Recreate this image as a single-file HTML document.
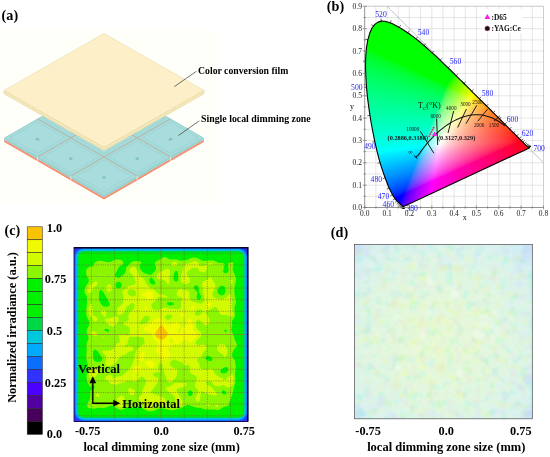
<!DOCTYPE html>
<html><head><meta charset="utf-8"><title>Figure</title>
<style>
html,body{margin:0;padding:0;background:#fff}
svg{display:block}
.b{font-family:"Liberation Serif",serif;font-weight:bold}
.r{font-family:"Liberation Serif",serif}
</style></head><body>
<svg width="550" height="457" viewBox="0 0 550 457">
<rect width="550" height="457" fill="#fff"/>
<g id="pa">
<rect x="0" y="30.3" width="217.5" height="172.2" fill="#fffffa"/>
<polygon points="4.2,139.8 104,197.2 203.8,139.8 203.8,142 104,199.4 4.2,142" fill="#f48e70"/>
<polygon points="4.2,137.7 104,195.1 203.8,137.7 203.8,139.8 104,197.2 4.2,139.8" fill="#93d0cd"/>
<polygon points="104,80.3 203.8,137.7 104,195.1 4.2,137.7" fill="#8fcfcd"/>
<polygon points="104,81.1 135.8,99.4 104,117.7 72.2,99.4" fill="#a9dcdc"/>
<polygon points="104,83.6 131.6,99.4 104,115.3 76.4,99.4" fill="none" stroke="#93cfcf" stroke-width="0.6"/>
<ellipse cx="104" cy="101" rx="1.8" ry="1.5" fill="#7fc6bf"/>
<polygon points="70.8,100.3 102.5,118.6 70.7,136.8 39,118.6" fill="#a9dcdc"/>
<polygon points="70.8,102.7 98.3,118.6 70.8,134.4 43.2,118.6" fill="none" stroke="#93cfcf" stroke-width="0.6"/>
<ellipse cx="70.8" cy="120.2" rx="1.8" ry="1.5" fill="#7fc6bf"/>
<polygon points="37.5,119.4 69.3,137.7 37.5,156 5.7,137.7" fill="#a9dcdc"/>
<polygon points="37.5,121.8 65.1,137.7 37.5,153.6 9.9,137.7" fill="none" stroke="#93cfcf" stroke-width="0.6"/>
<ellipse cx="37.5" cy="139.3" rx="1.8" ry="1.5" fill="#7fc6bf"/>
<polygon points="137.2,100.3 169,118.6 137.3,136.8 105.5,118.6" fill="#a9dcdc"/>
<polygon points="137.3,102.7 164.8,118.6 137.2,134.4 109.7,118.6" fill="none" stroke="#93cfcf" stroke-width="0.6"/>
<ellipse cx="137.2" cy="120.2" rx="1.8" ry="1.5" fill="#7fc6bf"/>
<polygon points="104,119.4 135.8,137.7 104,156 72.2,137.7" fill="#a9dcdc"/>
<polygon points="104,121.8 131.6,137.7 104,153.6 76.4,137.7" fill="none" stroke="#93cfcf" stroke-width="0.6"/>
<ellipse cx="104" cy="139.3" rx="1.8" ry="1.5" fill="#7fc6bf"/>
<polygon points="70.8,138.5 102.5,156.8 70.8,175.1 39,156.8" fill="#a9dcdc"/>
<polygon points="70.8,140.9 98.3,156.8 70.7,172.7 43.2,156.8" fill="none" stroke="#93cfcf" stroke-width="0.6"/>
<ellipse cx="70.8" cy="158.4" rx="1.8" ry="1.5" fill="#7fc6bf"/>
<polygon points="170.5,119.4 202.3,137.7 170.5,156 138.7,137.7" fill="#a9dcdc"/>
<polygon points="170.5,121.8 198.1,137.7 170.5,153.6 142.9,137.7" fill="none" stroke="#93cfcf" stroke-width="0.6"/>
<ellipse cx="170.5" cy="139.3" rx="1.8" ry="1.5" fill="#7fc6bf"/>
<polygon points="137.2,138.5 169,156.8 137.2,175.1 105.5,156.8" fill="#a9dcdc"/>
<polygon points="137.2,140.9 164.8,156.8 137.2,172.7 109.7,156.8" fill="none" stroke="#93cfcf" stroke-width="0.6"/>
<ellipse cx="137.2" cy="158.4" rx="1.8" ry="1.5" fill="#7fc6bf"/>
<polygon points="104,157.7 135.8,175.9 104,194.2 72.2,175.9" fill="#a9dcdc"/>
<polygon points="104,160.1 131.6,175.9 104,191.8 76.4,175.9" fill="none" stroke="#93cfcf" stroke-width="0.6"/>
<ellipse cx="104" cy="177.5" rx="1.8" ry="1.5" fill="#7fc6bf"/>
<line x1="137.2" y1="99.9" x2="37.5" y2="157.3" stroke="#f0a58c" stroke-width="0.55"/>
<line x1="70.8" y1="99.9" x2="170.5" y2="157.3" stroke="#f0a58c" stroke-width="0.55"/>
<line x1="37.5" y1="156.8" x2="37.5" y2="161.1" stroke="#fffffa" stroke-width="0.6"/>
<line x1="170.5" y1="156.8" x2="170.5" y2="161.1" stroke="#fffffa" stroke-width="0.6"/>
<line x1="170.5" y1="119.1" x2="70.8" y2="176.4" stroke="#f0a58c" stroke-width="0.55"/>
<line x1="37.5" y1="119.1" x2="137.2" y2="176.4" stroke="#f0a58c" stroke-width="0.55"/>
<line x1="70.8" y1="175.9" x2="70.8" y2="180.2" stroke="#fffffa" stroke-width="0.6"/>
<line x1="137.2" y1="175.9" x2="137.2" y2="180.2" stroke="#fffffa" stroke-width="0.6"/>
<polygon points="4,90.4 104,147.4 204,90.4 204,93.7 104,150.7 4,93.7" fill="#f6e7b6" stroke="#dccf9f" stroke-width="0.5"/>
<polygon points="4,90.4 104,33.4 204,90.4 104,147.4" fill="#fdf0c8" stroke="#e3d5a4" stroke-width="0.5"/>
<line x1="174.3" y1="86.7" x2="196.5" y2="71.2" stroke="#333" stroke-width="0.7"/>
<line x1="178.4" y1="135.5" x2="199.3" y2="120.8" stroke="#333" stroke-width="0.7"/>
<text x="198" y="73.6" class="b" font-size="9.75">Color conversion film</text>
<text x="201" y="122" class="b" font-size="9.85">Single local dimming zone</text>
<text x="1.6" y="20.3" class="b" font-size="14.2">(a)</text>
</g>
<g id="pb">
<path d="M375.9 207.5V6.3M387.1 207.5V6.3M398.2 207.5V6.3M409.4 207.5V6.3M420.6 207.5V6.3M431.8 207.5V6.3M442.9 207.5V6.3M454.1 207.5V6.3M465.3 207.5V6.3M476.4 207.5V6.3M487.6 207.5V6.3M498.8 207.5V6.3M510 207.5V6.3M521.1 207.5V6.3M532.3 207.5V6.3M543.5 207.5V6.3M364.7 196.3H543.5M364.7 185.2H543.5M364.7 174H543.5M364.7 162.8H543.5M364.7 151.6H543.5M364.7 140.4H543.5M364.7 129.3H543.5M364.7 118.1H543.5M364.7 106.9H543.5M364.7 95.8H543.5M364.7 84.6H543.5M364.7 73.4H543.5M364.7 62.2H543.5M364.7 51H543.5M364.7 39.9H543.5M364.7 28.7H543.5M364.7 17.5H543.5M364.7 6.3H543.5" stroke="#d4d4d4" stroke-width="0.6" fill="none"/>
<line x1="387.1" y1="6.3" x2="543.5" y2="162.8" stroke="#9a9a9a" stroke-width="0.6"/>
<clipPath id="lc"><polygon points="403.6,206.4 403.6,206.4 403.6,206.4 403.6,206.4 403.6,206.4 403.5,206.4 403.5,206.4 403.5,206.4 403.5,206.4 403.5,206.4 403.4,206.4 403.4,206.4 403.4,206.4 403.4,206.4 403.3,206.4 403.3,206.4 403.2,206.4 403.2,206.4 403.1,206.4 403.1,206.4 403,206.4 402.9,206.3 402.8,206.2 402.7,206.2 402.6,206.1 402.4,206 402.3,205.8 402.1,205.7 401.9,205.5 401.7,205.3 401.4,205.1 401.2,204.8 400.9,204.6 400.5,204.3 400.1,203.9 399.7,203.5 399.2,203.1 398.7,202.7 398.2,202.1 397.5,201.5 396.9,200.9 396.2,200.1 395.4,199.1 394.5,198 393.6,196.4 392.4,194.6 391.2,192.3 389.9,189.6 388.4,186.4 386.9,182.5 385.1,177.8 383.2,172.4 381.1,166.1 379,158.9 376.9,150.7 374.8,141.6 372.8,131.5 370.8,120.8 369.1,109.7 367.6,98.4 366.5,87.2 365.8,76.3 365.5,66 365.7,56.4 366.5,47.6 367.8,39.8 369.7,33.3 372,28 374.8,24.4 378,22.1 381.3,21.1 384.8,21.3 388.4,22.2 392,23.6 395.7,25.4 399.3,27.4 402.7,29.5 406.1,31.7 409.5,34 412.8,36.4 416,38.9 419.3,41.5 422.5,44.2 425.7,47 428.9,49.9 432.1,52.8 435.3,55.7 438.5,58.7 441.7,61.8 444.9,64.8 448.1,67.9 451.3,71 454.5,74.2 457.6,77.3 460.8,80.4 463.9,83.5 467.1,86.6 470.2,89.7 473.2,92.8 476.3,95.8 479.2,98.7 482.2,101.7 485,104.5 487.9,107.3 490.6,110 493.2,112.7 495.8,115.2 498.3,117.7 500.6,120 502.8,122.2 504.8,124.2 506.8,126.2 508.7,128.1 510.4,129.8 512,131.4 513.5,132.8 514.9,134.2 516.1,135.5 517.3,136.6 518.3,137.6 519.3,138.6 520.1,139.4 520.9,140.2 521.6,141 522.3,141.6 522.9,142.2 523.5,142.8 524,143.3 524.5,143.8 525,144.3 525.4,144.7 525.8,145.1 526.1,145.4 526.4,145.8 526.7,146 527,146.3 527.2,146.5 527.4,146.7 527.6,146.9 527.7,147 527.8,147.1 528,147.3 528.1,147.4 528.1,147.4 528.2,147.5 528.3,147.6 528.4,147.7 528.4,147.7 528.5,147.8 528.6,147.9 528.6,147.9 528.7,148 528.7,148 528.8,148.1 528.8,148.1 528.8,148.1 528.9,148.2 528.9,148.2 528.9,148.2 528.9,148.2 528.9,148.2"/></clipPath>
<defs><linearGradient id="r0" gradientUnits="userSpaceOnUse" x1="379" x2="387" y1="0" y2="0"><stop offset="0" stop-color="#00ff00"/><stop offset="1" stop-color="#00ff00"/></linearGradient><linearGradient id="r1" gradientUnits="userSpaceOnUse" x1="376" x2="391" y1="0" y2="0"><stop offset="0" stop-color="#00ff00"/><stop offset="1" stop-color="#00ff00"/></linearGradient><linearGradient id="r2" gradientUnits="userSpaceOnUse" x1="375" x2="393" y1="0" y2="0"><stop offset="0" stop-color="#00ff00"/><stop offset="1" stop-color="#00ff00"/></linearGradient><linearGradient id="r3" gradientUnits="userSpaceOnUse" x1="373" x2="395" y1="0" y2="0"><stop offset="0" stop-color="#00ff00"/><stop offset="1" stop-color="#00ff00"/></linearGradient><linearGradient id="r4" gradientUnits="userSpaceOnUse" x1="373" x2="397" y1="0" y2="0"><stop offset="0" stop-color="#00ff00"/><stop offset="1" stop-color="#00ff00"/></linearGradient><linearGradient id="r5" gradientUnits="userSpaceOnUse" x1="372" x2="399" y1="0" y2="0"><stop offset="0" stop-color="#00ff00"/><stop offset="1" stop-color="#00ff00"/></linearGradient><linearGradient id="r6" gradientUnits="userSpaceOnUse" x1="371" x2="401" y1="0" y2="0"><stop offset="0" stop-color="#00ff00"/><stop offset="1" stop-color="#00ff00"/></linearGradient><linearGradient id="r7" gradientUnits="userSpaceOnUse" x1="370" x2="402" y1="0" y2="0"><stop offset="0" stop-color="#00ff00"/><stop offset="1" stop-color="#00ff00"/></linearGradient><linearGradient id="r8" gradientUnits="userSpaceOnUse" x1="370" x2="404" y1="0" y2="0"><stop offset="0" stop-color="#00ff00"/><stop offset="1" stop-color="#00ff00"/></linearGradient><linearGradient id="r9" gradientUnits="userSpaceOnUse" x1="369" x2="406" y1="0" y2="0"><stop offset="0" stop-color="#00ff00"/><stop offset="1" stop-color="#00ff00"/></linearGradient><linearGradient id="r10" gradientUnits="userSpaceOnUse" x1="369" x2="407" y1="0" y2="0"><stop offset="0" stop-color="#00ff00"/><stop offset="1" stop-color="#00ff00"/></linearGradient><linearGradient id="r11" gradientUnits="userSpaceOnUse" x1="369" x2="409" y1="0" y2="0"><stop offset="0" stop-color="#00ff00"/><stop offset="1" stop-color="#00ff00"/></linearGradient><linearGradient id="r12" gradientUnits="userSpaceOnUse" x1="368" x2="410" y1="0" y2="0"><stop offset="0" stop-color="#00ff00"/><stop offset="1" stop-color="#00ff00"/></linearGradient><linearGradient id="r13" gradientUnits="userSpaceOnUse" x1="368" x2="411" y1="0" y2="0"><stop offset="0" stop-color="#00ff00"/><stop offset="1" stop-color="#00ff00"/></linearGradient><linearGradient id="r14" gradientUnits="userSpaceOnUse" x1="368" x2="413" y1="0" y2="0"><stop offset="0" stop-color="#00ff00"/><stop offset="1" stop-color="#00ff00"/></linearGradient><linearGradient id="r15" gradientUnits="userSpaceOnUse" x1="367" x2="414" y1="0" y2="0"><stop offset="0" stop-color="#00ff00"/><stop offset="1" stop-color="#00ff00"/></linearGradient><linearGradient id="r16" gradientUnits="userSpaceOnUse" x1="367" x2="415" y1="0" y2="0"><stop offset="0" stop-color="#00ff00"/><stop offset="1" stop-color="#00ff00"/></linearGradient><linearGradient id="r17" gradientUnits="userSpaceOnUse" x1="367" x2="417" y1="0" y2="0"><stop offset="0" stop-color="#00ff00"/><stop offset="1" stop-color="#00ff00"/></linearGradient><linearGradient id="r18" gradientUnits="userSpaceOnUse" x1="366" x2="418" y1="0" y2="0"><stop offset="0" stop-color="#00ff00"/><stop offset="1" stop-color="#00ff00"/></linearGradient><linearGradient id="r19" gradientUnits="userSpaceOnUse" x1="366" x2="419" y1="0" y2="0"><stop offset="0" stop-color="#00ff00"/><stop offset="1" stop-color="#00ff00"/></linearGradient><linearGradient id="r20" gradientUnits="userSpaceOnUse" x1="366" x2="421" y1="0" y2="0"><stop offset="0" stop-color="#00ff00"/><stop offset="1" stop-color="#00ff00"/></linearGradient><linearGradient id="r21" gradientUnits="userSpaceOnUse" x1="366" x2="422" y1="0" y2="0"><stop offset="0" stop-color="#00ff00"/><stop offset="1" stop-color="#00ff00"/></linearGradient><linearGradient id="r22" gradientUnits="userSpaceOnUse" x1="366" x2="423" y1="0" y2="0"><stop offset="0" stop-color="#00ff00"/><stop offset="1" stop-color="#00ff00"/></linearGradient><linearGradient id="r23" gradientUnits="userSpaceOnUse" x1="366" x2="424" y1="0" y2="0"><stop offset="0" stop-color="#00ff00"/><stop offset="1" stop-color="#00ff00"/></linearGradient><linearGradient id="r24" gradientUnits="userSpaceOnUse" x1="365" x2="425" y1="0" y2="0"><stop offset="0" stop-color="#00ff00"/><stop offset="1" stop-color="#00ff00"/></linearGradient><linearGradient id="r25" gradientUnits="userSpaceOnUse" x1="365" x2="426" y1="0" y2="0"><stop offset="0" stop-color="#00ff00"/><stop offset="1" stop-color="#00ff00"/></linearGradient><linearGradient id="r26" gradientUnits="userSpaceOnUse" x1="365" x2="428" y1="0" y2="0"><stop offset="0" stop-color="#00ff00"/><stop offset="1" stop-color="#00ff00"/></linearGradient><linearGradient id="r27" gradientUnits="userSpaceOnUse" x1="365" x2="429" y1="0" y2="0"><stop offset="0" stop-color="#00ff07"/><stop offset="0.016" stop-color="#00ff00"/><stop offset="1" stop-color="#00ff00"/></linearGradient><linearGradient id="r28" gradientUnits="userSpaceOnUse" x1="365" x2="430" y1="0" y2="0"><stop offset="0" stop-color="#00ff11"/><stop offset="0.046" stop-color="#00ff00"/><stop offset="1" stop-color="#00ff00"/></linearGradient><linearGradient id="r29" gradientUnits="userSpaceOnUse" x1="365" x2="431" y1="0" y2="0"><stop offset="0" stop-color="#00ff18"/><stop offset="0.061" stop-color="#00ff0a"/><stop offset="0.076" stop-color="#00ff00"/><stop offset="1" stop-color="#00ff00"/></linearGradient><linearGradient id="r30" gradientUnits="userSpaceOnUse" x1="365" x2="432" y1="0" y2="0"><stop offset="0" stop-color="#00ff1d"/><stop offset="0.06" stop-color="#00ff13"/><stop offset="0.119" stop-color="#00ff00"/><stop offset="1" stop-color="#00ff00"/></linearGradient><linearGradient id="r31" gradientUnits="userSpaceOnUse" x1="365" x2="433" y1="0" y2="0"><stop offset="0" stop-color="#00ff22"/><stop offset="0.103" stop-color="#00ff10"/><stop offset="0.147" stop-color="#00ff00"/><stop offset="1" stop-color="#00ff00"/></linearGradient><linearGradient id="r32" gradientUnits="userSpaceOnUse" x1="365" x2="434" y1="0" y2="0"><stop offset="0" stop-color="#00ff26"/><stop offset="0.13" stop-color="#00ff11"/><stop offset="0.174" stop-color="#00ff00"/><stop offset="1" stop-color="#00ff00"/></linearGradient><linearGradient id="r33" gradientUnits="userSpaceOnUse" x1="364" x2="435" y1="0" y2="0"><stop offset="0" stop-color="#00ff2b"/><stop offset="0.141" stop-color="#00ff18"/><stop offset="0.183" stop-color="#00ff0e"/><stop offset="0.211" stop-color="#00ff00"/><stop offset="1" stop-color="#00ff00"/></linearGradient><linearGradient id="r34" gradientUnits="userSpaceOnUse" x1="364" x2="436" y1="0" y2="0"><stop offset="0" stop-color="#00ff2f"/><stop offset="0.153" stop-color="#00ff1b"/><stop offset="0.222" stop-color="#00ff0a"/><stop offset="0.236" stop-color="#00ff00"/><stop offset="1" stop-color="#00ff00"/></linearGradient><linearGradient id="r35" gradientUnits="userSpaceOnUse" x1="364" x2="437" y1="0" y2="0"><stop offset="0" stop-color="#00ff32"/><stop offset="0.178" stop-color="#00ff1c"/><stop offset="0.274" stop-color="#00ff00"/><stop offset="1" stop-color="#00ff00"/></linearGradient><linearGradient id="r36" gradientUnits="userSpaceOnUse" x1="364" x2="438" y1="0" y2="0"><stop offset="0" stop-color="#00ff35"/><stop offset="0.189" stop-color="#00ff1f"/><stop offset="0.243" stop-color="#00ff14"/><stop offset="0.297" stop-color="#00ff00"/><stop offset="1" stop-color="#00ff00"/></linearGradient><linearGradient id="r37" gradientUnits="userSpaceOnUse" x1="364" x2="440" y1="0" y2="0"><stop offset="0" stop-color="#00ff38"/><stop offset="0.224" stop-color="#00ff1d"/><stop offset="0.289" stop-color="#00ff0d"/><stop offset="0.316" stop-color="#00ff00"/><stop offset="1" stop-color="#00ff00"/></linearGradient><linearGradient id="r38" gradientUnits="userSpaceOnUse" x1="364" x2="441" y1="0" y2="0"><stop offset="0" stop-color="#00ff3b"/><stop offset="0.247" stop-color="#00ff1e"/><stop offset="0.312" stop-color="#00ff0e"/><stop offset="0.338" stop-color="#00ff00"/><stop offset="1" stop-color="#00ff00"/></linearGradient><linearGradient id="r39" gradientUnits="userSpaceOnUse" x1="364" x2="442" y1="0" y2="0"><stop offset="0" stop-color="#00ff3e"/><stop offset="0.256" stop-color="#00ff21"/><stop offset="0.333" stop-color="#00ff0f"/><stop offset="0.359" stop-color="#00ff00"/><stop offset="1" stop-color="#00ff00"/></linearGradient><linearGradient id="r40" gradientUnits="userSpaceOnUse" x1="364" x2="443" y1="0" y2="0"><stop offset="0" stop-color="#00ff41"/><stop offset="0.152" stop-color="#00ff33"/><stop offset="0.304" stop-color="#00ff1d"/><stop offset="0.354" stop-color="#00ff10"/><stop offset="0.38" stop-color="#00ff01"/><stop offset="0.392" stop-color="#00ff00"/><stop offset="1" stop-color="#00ff00"/></linearGradient><linearGradient id="r41" gradientUnits="userSpaceOnUse" x1="364" x2="444" y1="0" y2="0"><stop offset="0" stop-color="#00ff44"/><stop offset="0.163" stop-color="#00ff35"/><stop offset="0.312" stop-color="#00ff20"/><stop offset="0.362" stop-color="#00ff15"/><stop offset="0.412" stop-color="#00ff00"/><stop offset="1" stop-color="#00ff00"/></linearGradient><linearGradient id="r42" gradientUnits="userSpaceOnUse" x1="364" x2="445" y1="0" y2="0"><stop offset="0" stop-color="#00ff46"/><stop offset="0.272" stop-color="#00ff2b"/><stop offset="0.37" stop-color="#00ff19"/><stop offset="0.432" stop-color="#00ff00"/><stop offset="1" stop-color="#00ff00"/></linearGradient><linearGradient id="r43" gradientUnits="userSpaceOnUse" x1="364" x2="446" y1="0" y2="0"><stop offset="0" stop-color="#00ff49"/><stop offset="0.305" stop-color="#00ff2a"/><stop offset="0.415" stop-color="#00ff13"/><stop offset="0.451" stop-color="#00ff00"/><stop offset="1" stop-color="#00ff00"/></linearGradient><linearGradient id="r44" gradientUnits="userSpaceOnUse" x1="364" x2="447" y1="0" y2="0"><stop offset="0" stop-color="#00ff4b"/><stop offset="0.301" stop-color="#00ff2e"/><stop offset="0.422" stop-color="#00ff17"/><stop offset="0.458" stop-color="#00ff0a"/><stop offset="0.47" stop-color="#00ff00"/><stop offset="1" stop-color="#00ff00"/></linearGradient><linearGradient id="r45" gradientUnits="userSpaceOnUse" x1="364" x2="448" y1="0" y2="0"><stop offset="0" stop-color="#00ff4e"/><stop offset="0.321" stop-color="#00ff2f"/><stop offset="0.44" stop-color="#00ff18"/><stop offset="0.476" stop-color="#00ff0b"/><stop offset="0.488" stop-color="#00ff00"/><stop offset="1" stop-color="#00ff00"/></linearGradient><linearGradient id="r46" gradientUnits="userSpaceOnUse" x1="364" x2="449" y1="0" y2="0"><stop offset="0" stop-color="#00ff50"/><stop offset="0.224" stop-color="#00ff3e"/><stop offset="0.353" stop-color="#00ff2e"/><stop offset="0.459" stop-color="#00ff19"/><stop offset="0.518" stop-color="#00ff00"/><stop offset="1" stop-color="#00ff00"/></linearGradient><linearGradient id="r47" gradientUnits="userSpaceOnUse" x1="364" x2="450" y1="0" y2="0"><stop offset="0" stop-color="#00ff53"/><stop offset="0.233" stop-color="#00ff40"/><stop offset="0.395" stop-color="#00ff2b"/><stop offset="0.477" stop-color="#00ff1a"/><stop offset="0.535" stop-color="#00ff00"/><stop offset="1" stop-color="#00ff00"/></linearGradient><linearGradient id="r48" gradientUnits="userSpaceOnUse" x1="364" x2="451" y1="0" y2="0"><stop offset="0" stop-color="#00ff55"/><stop offset="0.241" stop-color="#00ff42"/><stop offset="0.379" stop-color="#00ff31"/><stop offset="0.506" stop-color="#00ff17"/><stop offset="0.529" stop-color="#00ff0f"/><stop offset="0.552" stop-color="#00ff00"/><stop offset="1" stop-color="#00ff00"/></linearGradient><linearGradient id="r49" gradientUnits="userSpaceOnUse" x1="364" x2="452" y1="0" y2="0"><stop offset="0" stop-color="#00ff57"/><stop offset="0.25" stop-color="#00ff44"/><stop offset="0.398" stop-color="#00ff32"/><stop offset="0.523" stop-color="#00ff18"/><stop offset="0.545" stop-color="#00ff10"/><stop offset="0.568" stop-color="#00ff00"/><stop offset="1" stop-color="#00ff00"/></linearGradient><linearGradient id="r50" gradientUnits="userSpaceOnUse" x1="364" x2="453" y1="0" y2="0"><stop offset="0" stop-color="#00ff5a"/><stop offset="0.247" stop-color="#00ff47"/><stop offset="0.427" stop-color="#00ff31"/><stop offset="0.539" stop-color="#00ff19"/><stop offset="0.573" stop-color="#00ff0b"/><stop offset="0.584" stop-color="#00ff00"/><stop offset="1" stop-color="#00ff00"/></linearGradient><linearGradient id="r51" gradientUnits="userSpaceOnUse" x1="364" x2="454" y1="0" y2="0"><stop offset="0" stop-color="#00ff5c"/><stop offset="0.244" stop-color="#00ff4a"/><stop offset="0.444" stop-color="#00ff32"/><stop offset="0.556" stop-color="#00ff1a"/><stop offset="0.611" stop-color="#00ff00"/><stop offset="1" stop-color="#00ff00"/></linearGradient><linearGradient id="r52" gradientUnits="userSpaceOnUse" x1="364" x2="455" y1="0" y2="0"><stop offset="0" stop-color="#00ff5e"/><stop offset="0.154" stop-color="#00ff54"/><stop offset="0.44" stop-color="#00ff36"/><stop offset="0.571" stop-color="#00ff1b"/><stop offset="0.604" stop-color="#00ff0e"/><stop offset="0.626" stop-color="#00ff00"/><stop offset="1" stop-color="#00ff00"/></linearGradient><linearGradient id="r53" gradientUnits="userSpaceOnUse" x1="364" x2="456" y1="0" y2="0"><stop offset="0" stop-color="#00ff60"/><stop offset="0.174" stop-color="#00ff55"/><stop offset="0.457" stop-color="#00ff37"/><stop offset="0.587" stop-color="#00ff1c"/><stop offset="0.62" stop-color="#00ff0f"/><stop offset="0.641" stop-color="#00ff00"/><stop offset="0.989" stop-color="#00ff00"/><stop offset="1" stop-color="#1cff00"/></linearGradient><linearGradient id="r54" gradientUnits="userSpaceOnUse" x1="364" x2="457" y1="0" y2="0"><stop offset="0" stop-color="#00ff62"/><stop offset="0.204" stop-color="#00ff55"/><stop offset="0.452" stop-color="#00ff3b"/><stop offset="0.602" stop-color="#00ff1d"/><stop offset="0.634" stop-color="#00ff10"/><stop offset="0.656" stop-color="#00ff00"/><stop offset="0.968" stop-color="#00ff00"/><stop offset="0.978" stop-color="#17ff00"/><stop offset="1" stop-color="#34ff00"/></linearGradient><linearGradient id="r55" gradientUnits="userSpaceOnUse" x1="364" x2="458" y1="0" y2="0"><stop offset="0" stop-color="#00ff64"/><stop offset="0.223" stop-color="#00ff56"/><stop offset="0.468" stop-color="#00ff3c"/><stop offset="0.617" stop-color="#00ff1e"/><stop offset="0.66" stop-color="#00ff0b"/><stop offset="0.67" stop-color="#00ff00"/><stop offset="0.947" stop-color="#00ff00"/><stop offset="0.968" stop-color="#24ff00"/><stop offset="1" stop-color="#46ff00"/></linearGradient><linearGradient id="r56" gradientUnits="userSpaceOnUse" x1="364" x2="459" y1="0" y2="0"><stop offset="0" stop-color="#00ff67"/><stop offset="0.253" stop-color="#00ff56"/><stop offset="0.516" stop-color="#00ff38"/><stop offset="0.632" stop-color="#00ff1f"/><stop offset="0.663" stop-color="#00ff13"/><stop offset="0.684" stop-color="#00ff02"/><stop offset="0.695" stop-color="#00ff00"/><stop offset="0.926" stop-color="#00ff00"/><stop offset="0.937" stop-color="#07ff00"/><stop offset="0.947" stop-color="#20ff00"/><stop offset="0.958" stop-color="#2eff00"/><stop offset="1" stop-color="#55ff00"/></linearGradient><linearGradient id="r57" gradientUnits="userSpaceOnUse" x1="364" x2="460" y1="0" y2="0"><stop offset="0" stop-color="#00ff69"/><stop offset="0.271" stop-color="#00ff57"/><stop offset="0.531" stop-color="#00ff39"/><stop offset="0.646" stop-color="#00ff20"/><stop offset="0.677" stop-color="#00ff14"/><stop offset="0.708" stop-color="#00ff00"/><stop offset="0.917" stop-color="#00ff00"/><stop offset="0.927" stop-color="#1bff00"/><stop offset="0.938" stop-color="#2aff00"/><stop offset="0.958" stop-color="#41ff00"/><stop offset="1" stop-color="#63ff00"/></linearGradient><linearGradient id="r58" gradientUnits="userSpaceOnUse" x1="365" x2="461" y1="0" y2="0"><stop offset="0" stop-color="#00ff6a"/><stop offset="0.281" stop-color="#00ff58"/><stop offset="0.542" stop-color="#00ff3a"/><stop offset="0.656" stop-color="#00ff21"/><stop offset="0.698" stop-color="#00ff10"/><stop offset="0.719" stop-color="#00ff00"/><stop offset="0.896" stop-color="#00ff00"/><stop offset="0.906" stop-color="#15ff00"/><stop offset="0.927" stop-color="#33ff00"/><stop offset="0.969" stop-color="#59ff00"/><stop offset="1" stop-color="#6fff00"/></linearGradient><linearGradient id="r59" gradientUnits="userSpaceOnUse" x1="365" x2="462" y1="0" y2="0"><stop offset="0" stop-color="#00ff6c"/><stop offset="0.237" stop-color="#00ff5e"/><stop offset="0.464" stop-color="#00ff48"/><stop offset="0.557" stop-color="#00ff3b"/><stop offset="0.66" stop-color="#00ff25"/><stop offset="0.711" stop-color="#00ff11"/><stop offset="0.732" stop-color="#00ff00"/><stop offset="0.876" stop-color="#00ff00"/><stop offset="0.897" stop-color="#22ff00"/><stop offset="0.918" stop-color="#3bff00"/><stop offset="1" stop-color="#7bff00"/></linearGradient><linearGradient id="r60" gradientUnits="userSpaceOnUse" x1="365" x2="463" y1="0" y2="0"><stop offset="0" stop-color="#00ff6e"/><stop offset="0.255" stop-color="#00ff5f"/><stop offset="0.49" stop-color="#00ff48"/><stop offset="0.571" stop-color="#00ff3c"/><stop offset="0.673" stop-color="#00ff26"/><stop offset="0.724" stop-color="#00ff12"/><stop offset="0.745" stop-color="#00ff00"/><stop offset="0.867" stop-color="#00ff00"/><stop offset="0.878" stop-color="#1eff00"/><stop offset="0.898" stop-color="#38ff00"/><stop offset="0.949" stop-color="#64ff00"/><stop offset="1" stop-color="#87ff00"/></linearGradient><linearGradient id="r61" gradientUnits="userSpaceOnUse" x1="365" x2="464" y1="0" y2="0"><stop offset="0" stop-color="#00ff70"/><stop offset="0.273" stop-color="#00ff60"/><stop offset="0.505" stop-color="#00ff49"/><stop offset="0.586" stop-color="#00ff3d"/><stop offset="0.687" stop-color="#00ff27"/><stop offset="0.737" stop-color="#00ff14"/><stop offset="0.758" stop-color="#00ff00"/><stop offset="0.848" stop-color="#00ff00"/><stop offset="0.859" stop-color="#19ff00"/><stop offset="0.889" stop-color="#40ff00"/><stop offset="0.929" stop-color="#62ff00"/><stop offset="1" stop-color="#92ff00"/></linearGradient><linearGradient id="r62" gradientUnits="userSpaceOnUse" x1="365" x2="465" y1="0" y2="0"><stop offset="0" stop-color="#00ff72"/><stop offset="0.29" stop-color="#00ff61"/><stop offset="0.52" stop-color="#00ff4a"/><stop offset="0.6" stop-color="#00ff3e"/><stop offset="0.7" stop-color="#00ff28"/><stop offset="0.74" stop-color="#00ff1a"/><stop offset="0.78" stop-color="#00ff00"/><stop offset="0.83" stop-color="#00ff00"/><stop offset="0.85" stop-color="#25ff00"/><stop offset="0.87" stop-color="#3dff00"/><stop offset="0.92" stop-color="#67ff00"/><stop offset="1" stop-color="#9dff00"/></linearGradient><linearGradient id="r63" gradientUnits="userSpaceOnUse" x1="365" x2="466" y1="0" y2="0"><stop offset="0" stop-color="#00ff74"/><stop offset="0.297" stop-color="#00ff63"/><stop offset="0.564" stop-color="#00ff47"/><stop offset="0.703" stop-color="#00ff2c"/><stop offset="0.752" stop-color="#00ff1b"/><stop offset="0.792" stop-color="#00ff00"/><stop offset="0.812" stop-color="#00ff00"/><stop offset="0.822" stop-color="#0cff00"/><stop offset="0.832" stop-color="#21ff00"/><stop offset="0.842" stop-color="#2fff00"/><stop offset="0.871" stop-color="#4dff00"/><stop offset="0.95" stop-color="#88ff00"/><stop offset="1" stop-color="#a7ff00"/></linearGradient><linearGradient id="r64" gradientUnits="userSpaceOnUse" x1="365" x2="467" y1="0" y2="0"><stop offset="0" stop-color="#00ff76"/><stop offset="0.353" stop-color="#00ff61"/><stop offset="0.559" stop-color="#00ff4b"/><stop offset="0.725" stop-color="#00ff2a"/><stop offset="0.784" stop-color="#00ff12"/><stop offset="0.804" stop-color="#00ff00"/><stop offset="0.814" stop-color="#1dff00"/><stop offset="0.824" stop-color="#2bff00"/><stop offset="0.863" stop-color="#53ff00"/><stop offset="0.931" stop-color="#86ff00"/><stop offset="1" stop-color="#b2ff00"/></linearGradient><linearGradient id="r65" gradientUnits="userSpaceOnUse" x1="365" x2="468" y1="0" y2="0"><stop offset="0" stop-color="#00ff78"/><stop offset="0.32" stop-color="#00ff66"/><stop offset="0.544" stop-color="#00ff50"/><stop offset="0.709" stop-color="#00ff33"/><stop offset="0.786" stop-color="#00ff19"/><stop offset="0.806" stop-color="#28ff0c"/><stop offset="0.816" stop-color="#34ff00"/><stop offset="0.845" stop-color="#51ff00"/><stop offset="0.913" stop-color="#84ff00"/><stop offset="1" stop-color="#bcff00"/></linearGradient><linearGradient id="r66" gradientUnits="userSpaceOnUse" x1="365" x2="469" y1="0" y2="0"><stop offset="0" stop-color="#00ff7a"/><stop offset="0.298" stop-color="#00ff6a"/><stop offset="0.519" stop-color="#00ff56"/><stop offset="0.673" stop-color="#00ff3f"/><stop offset="0.779" stop-color="#00ff22"/><stop offset="0.788" stop-color="#24ff1f"/><stop offset="0.817" stop-color="#45ff0e"/><stop offset="0.827" stop-color="#4eff00"/><stop offset="0.837" stop-color="#57ff00"/><stop offset="0.894" stop-color="#82ff00"/><stop offset="1" stop-color="#c7ff00"/></linearGradient><linearGradient id="r67" gradientUnits="userSpaceOnUse" x1="365" x2="470" y1="0" y2="0"><stop offset="0" stop-color="#00ff7c"/><stop offset="0.429" stop-color="#00ff62"/><stop offset="0.648" stop-color="#00ff47"/><stop offset="0.762" stop-color="#00ff2d"/><stop offset="0.771" stop-color="#11ff2a"/><stop offset="0.781" stop-color="#2eff27"/><stop offset="0.81" stop-color="#4cff1b"/><stop offset="0.848" stop-color="#6bff00"/><stop offset="1" stop-color="#d1ff00"/></linearGradient><linearGradient id="r68" gradientUnits="userSpaceOnUse" x1="365" x2="471" y1="0" y2="0"><stop offset="0" stop-color="#00ff7e"/><stop offset="0.425" stop-color="#00ff65"/><stop offset="0.632" stop-color="#00ff4d"/><stop offset="0.755" stop-color="#00ff34"/><stop offset="0.764" stop-color="#22ff31"/><stop offset="0.774" stop-color="#36ff2f"/><stop offset="0.792" stop-color="#4aff28"/><stop offset="0.83" stop-color="#69ff18"/><stop offset="0.858" stop-color="#7eff00"/><stop offset="1" stop-color="#dcff00"/></linearGradient><linearGradient id="r69" gradientUnits="userSpaceOnUse" x1="365" x2="472" y1="0" y2="0"><stop offset="0" stop-color="#00ff80"/><stop offset="0.299" stop-color="#00ff71"/><stop offset="0.486" stop-color="#00ff62"/><stop offset="0.626" stop-color="#00ff51"/><stop offset="0.748" stop-color="#00ff3a"/><stop offset="0.757" stop-color="#2eff38"/><stop offset="0.766" stop-color="#3eff35"/><stop offset="0.785" stop-color="#50ff30"/><stop offset="0.841" stop-color="#7cff19"/><stop offset="0.869" stop-color="#90ff00"/><stop offset="1" stop-color="#e6ff00"/></linearGradient><linearGradient id="r70" gradientUnits="userSpaceOnUse" x1="366" x2="473" y1="0" y2="0"><stop offset="0" stop-color="#00ff81"/><stop offset="0.28" stop-color="#00ff74"/><stop offset="0.467" stop-color="#00ff66"/><stop offset="0.617" stop-color="#00ff55"/><stop offset="0.729" stop-color="#00ff42"/><stop offset="0.748" stop-color="#38ff3e"/><stop offset="0.776" stop-color="#56ff37"/><stop offset="0.822" stop-color="#7aff28"/><stop offset="0.85" stop-color="#8eff1a"/><stop offset="0.869" stop-color="#9aff0c"/><stop offset="0.879" stop-color="#a1ff00"/><stop offset="1" stop-color="#f0ff00"/></linearGradient><linearGradient id="r71" gradientUnits="userSpaceOnUse" x1="366" x2="474" y1="0" y2="0"><stop offset="0" stop-color="#00ff83"/><stop offset="0.287" stop-color="#00ff76"/><stop offset="0.463" stop-color="#00ff69"/><stop offset="0.611" stop-color="#00ff59"/><stop offset="0.722" stop-color="#00ff47"/><stop offset="0.731" stop-color="#28ff45"/><stop offset="0.741" stop-color="#41ff43"/><stop offset="0.75" stop-color="#4bff41"/><stop offset="0.806" stop-color="#78ff33"/><stop offset="0.852" stop-color="#99ff21"/><stop offset="0.88" stop-color="#abff0e"/><stop offset="0.889" stop-color="#b1ff00"/><stop offset="1" stop-color="#fbff00"/></linearGradient><linearGradient id="r72" gradientUnits="userSpaceOnUse" x1="366" x2="475" y1="0" y2="0"><stop offset="0" stop-color="#00ff85"/><stop offset="0.422" stop-color="#00ff6f"/><stop offset="0.606" stop-color="#00ff5d"/><stop offset="0.706" stop-color="#00ff4e"/><stop offset="0.716" stop-color="#10ff4c"/><stop offset="0.725" stop-color="#33ff4a"/><stop offset="0.734" stop-color="#49ff48"/><stop offset="0.761" stop-color="#61ff43"/><stop offset="0.853" stop-color="#a3ff27"/><stop offset="0.881" stop-color="#b6ff18"/><stop offset="0.899" stop-color="#c2ff02"/><stop offset="0.991" stop-color="#ffff00"/><stop offset="1" stop-color="#fff800"/></linearGradient><linearGradient id="r73" gradientUnits="userSpaceOnUse" x1="366" x2="476" y1="0" y2="0"><stop offset="0" stop-color="#00ff87"/><stop offset="0.455" stop-color="#00ff6f"/><stop offset="0.7" stop-color="#00ff52"/><stop offset="0.709" stop-color="#22ff51"/><stop offset="0.718" stop-color="#3cff4f"/><stop offset="0.727" stop-color="#4fff4d"/><stop offset="0.745" stop-color="#5fff4a"/><stop offset="0.855" stop-color="#aeff2c"/><stop offset="0.891" stop-color="#c6ff19"/><stop offset="0.918" stop-color="#d8ff00"/><stop offset="0.973" stop-color="#fdff00"/><stop offset="1" stop-color="#ffef00"/></linearGradient><linearGradient id="r74" gradientUnits="userSpaceOnUse" x1="366" x2="477" y1="0" y2="0"><stop offset="0" stop-color="#00ff89"/><stop offset="0.396" stop-color="#00ff76"/><stop offset="0.541" stop-color="#00ff6a"/><stop offset="0.694" stop-color="#00ff57"/><stop offset="0.703" stop-color="#2eff55"/><stop offset="0.712" stop-color="#45ff54"/><stop offset="0.721" stop-color="#55ff52"/><stop offset="0.73" stop-color="#5dff51"/><stop offset="0.856" stop-color="#b8ff31"/><stop offset="0.901" stop-color="#d6ff1b"/><stop offset="0.928" stop-color="#e9ff00"/><stop offset="0.955" stop-color="#fbff00"/><stop offset="0.964" stop-color="#fffc00"/><stop offset="1" stop-color="#ffe500"/></linearGradient><linearGradient id="r75" gradientUnits="userSpaceOnUse" x1="366" x2="478" y1="0" y2="0"><stop offset="0" stop-color="#00ff8b"/><stop offset="0.402" stop-color="#00ff78"/><stop offset="0.679" stop-color="#00ff5c"/><stop offset="0.696" stop-color="#38ff5a"/><stop offset="0.705" stop-color="#4cff58"/><stop offset="0.723" stop-color="#62ff55"/><stop offset="0.857" stop-color="#c2ff36"/><stop offset="0.911" stop-color="#e7ff1d"/><stop offset="0.929" stop-color="#f3ff0d"/><stop offset="0.938" stop-color="#f9ff00"/><stop offset="0.946" stop-color="#fffe00"/><stop offset="1" stop-color="#ffdd00"/></linearGradient><linearGradient id="r76" gradientUnits="userSpaceOnUse" x1="366" x2="479" y1="0" y2="0"><stop offset="0" stop-color="#00ff8d"/><stop offset="0.425" stop-color="#00ff79"/><stop offset="0.673" stop-color="#00ff61"/><stop offset="0.681" stop-color="#28ff5f"/><stop offset="0.699" stop-color="#54ff5d"/><stop offset="0.708" stop-color="#60ff5b"/><stop offset="0.752" stop-color="#83ff54"/><stop offset="0.841" stop-color="#c0ff40"/><stop offset="0.894" stop-color="#e5ff2d"/><stop offset="0.929" stop-color="#feff18"/><stop offset="0.947" stop-color="#fff400"/><stop offset="1" stop-color="#ffd400"/></linearGradient><linearGradient id="r77" gradientUnits="userSpaceOnUse" x1="366" x2="480" y1="0" y2="0"><stop offset="0" stop-color="#00ff8f"/><stop offset="0.386" stop-color="#00ff7e"/><stop offset="0.658" stop-color="#00ff66"/><stop offset="0.667" stop-color="#0fff65"/><stop offset="0.675" stop-color="#33ff63"/><stop offset="0.693" stop-color="#5bff61"/><stop offset="0.737" stop-color="#81ff5a"/><stop offset="0.842" stop-color="#cbff44"/><stop offset="0.912" stop-color="#fcff2a"/><stop offset="0.947" stop-color="#ffeb10"/><stop offset="0.956" stop-color="#ffe500"/><stop offset="1" stop-color="#ffcd00"/></linearGradient><linearGradient id="r78" gradientUnits="userSpaceOnUse" x1="366" x2="481" y1="0" y2="0"><stop offset="0" stop-color="#00ff90"/><stop offset="0.426" stop-color="#00ff7e"/><stop offset="0.652" stop-color="#00ff6a"/><stop offset="0.67" stop-color="#3cff67"/><stop offset="0.687" stop-color="#61ff65"/><stop offset="0.739" stop-color="#8cff5e"/><stop offset="0.852" stop-color="#dbff46"/><stop offset="0.904" stop-color="#fffe34"/><stop offset="0.948" stop-color="#ffe219"/><stop offset="0.974" stop-color="#ffd300"/><stop offset="1" stop-color="#ffc500"/></linearGradient><linearGradient id="r79" gradientUnits="userSpaceOnUse" x1="366" x2="482" y1="0" y2="0"><stop offset="0" stop-color="#00ff92"/><stop offset="0.328" stop-color="#00ff86"/><stop offset="0.647" stop-color="#00ff6d"/><stop offset="0.655" stop-color="#2dff6c"/><stop offset="0.664" stop-color="#45ff6b"/><stop offset="0.681" stop-color="#67ff69"/><stop offset="0.75" stop-color="#9dff5f"/><stop offset="0.888" stop-color="#feff40"/><stop offset="0.948" stop-color="#ffd91f"/><stop offset="0.983" stop-color="#ffc700"/><stop offset="1" stop-color="#ffbe00"/></linearGradient><linearGradient id="r80" gradientUnits="userSpaceOnUse" x1="367" x2="483" y1="0" y2="0"><stop offset="0" stop-color="#00ff94"/><stop offset="0.405" stop-color="#00ff84"/><stop offset="0.629" stop-color="#00ff72"/><stop offset="0.647" stop-color="#38ff70"/><stop offset="0.672" stop-color="#6dff6d"/><stop offset="0.776" stop-color="#b9ff5f"/><stop offset="0.871" stop-color="#fcff4a"/><stop offset="0.931" stop-color="#ffdb2d"/><stop offset="0.974" stop-color="#ffc413"/><stop offset="0.991" stop-color="#ffbc00"/><stop offset="1" stop-color="#ffb800"/></linearGradient><linearGradient id="r81" gradientUnits="userSpaceOnUse" x1="367" x2="484" y1="0" y2="0"><stop offset="0" stop-color="#00ff96"/><stop offset="0.376" stop-color="#00ff88"/><stop offset="0.624" stop-color="#00ff76"/><stop offset="0.632" stop-color="#27ff75"/><stop offset="0.641" stop-color="#40ff74"/><stop offset="0.65" stop-color="#54ff73"/><stop offset="0.667" stop-color="#72ff71"/><stop offset="0.786" stop-color="#c9ff61"/><stop offset="0.855" stop-color="#faff52"/><stop offset="0.863" stop-color="#fffe50"/><stop offset="0.957" stop-color="#ffc523"/><stop offset="0.991" stop-color="#ffb50c"/><stop offset="1" stop-color="#ffb100"/></linearGradient><linearGradient id="r82" gradientUnits="userSpaceOnUse" x1="367" x2="485" y1="0" y2="0"><stop offset="0" stop-color="#00ff98"/><stop offset="0.364" stop-color="#00ff8b"/><stop offset="0.61" stop-color="#00ff7a"/><stop offset="0.619" stop-color="#0eff79"/><stop offset="0.627" stop-color="#33ff79"/><stop offset="0.636" stop-color="#49ff78"/><stop offset="0.661" stop-color="#77ff75"/><stop offset="0.847" stop-color="#feff59"/><stop offset="0.915" stop-color="#ffd43a"/><stop offset="0.966" stop-color="#ffba23"/><stop offset="1" stop-color="#ffab0d"/></linearGradient><linearGradient id="r83" gradientUnits="userSpaceOnUse" x1="367" x2="486" y1="0" y2="0"><stop offset="0" stop-color="#00ff99"/><stop offset="0.353" stop-color="#00ff8e"/><stop offset="0.605" stop-color="#00ff7e"/><stop offset="0.622" stop-color="#3cff7c"/><stop offset="0.639" stop-color="#61ff7b"/><stop offset="0.655" stop-color="#7cff79"/><stop offset="0.832" stop-color="#fcff60"/><stop offset="0.908" stop-color="#ffd140"/><stop offset="1" stop-color="#ffa514"/></linearGradient><linearGradient id="r84" gradientUnits="userSpaceOnUse" x1="367" x2="487" y1="0" y2="0"><stop offset="0" stop-color="#00ff9b"/><stop offset="0.383" stop-color="#00ff8f"/><stop offset="0.6" stop-color="#00ff81"/><stop offset="0.608" stop-color="#2dff81"/><stop offset="0.617" stop-color="#45ff80"/><stop offset="0.633" stop-color="#68ff7e"/><stop offset="0.65" stop-color="#80ff7d"/><stop offset="0.817" stop-color="#faff67"/><stop offset="0.825" stop-color="#fffe65"/><stop offset="0.9" stop-color="#ffce45"/><stop offset="0.975" stop-color="#ffaa26"/><stop offset="1" stop-color="#ffa014"/></linearGradient><linearGradient id="r85" gradientUnits="userSpaceOnUse" x1="367" x2="488" y1="0" y2="0"><stop offset="0" stop-color="#00ff9d"/><stop offset="0.347" stop-color="#00ff93"/><stop offset="0.587" stop-color="#00ff85"/><stop offset="0.595" stop-color="#18ff85"/><stop offset="0.603" stop-color="#37ff84"/><stop offset="0.612" stop-color="#4cff83"/><stop offset="0.636" stop-color="#7cff81"/><stop offset="0.661" stop-color="#92ff7f"/><stop offset="0.81" stop-color="#feff6d"/><stop offset="0.876" stop-color="#ffd450"/><stop offset="0.967" stop-color="#ffa82c"/><stop offset="1" stop-color="#ff9a14"/></linearGradient><linearGradient id="r86" gradientUnits="userSpaceOnUse" x1="367" x2="489" y1="0" y2="0"><stop offset="0" stop-color="#00ff9f"/><stop offset="0.303" stop-color="#00ff97"/><stop offset="0.582" stop-color="#00ff89"/><stop offset="0.59" stop-color="#27ff88"/><stop offset="0.598" stop-color="#40ff88"/><stop offset="0.615" stop-color="#65ff86"/><stop offset="0.631" stop-color="#81ff85"/><stop offset="0.795" stop-color="#fcff73"/><stop offset="0.869" stop-color="#ffd154"/><stop offset="0.943" stop-color="#ffad38"/><stop offset="1" stop-color="#ff9514"/></linearGradient><linearGradient id="r87" gradientUnits="userSpaceOnUse" x1="368" x2="490" y1="0" y2="0"><stop offset="0" stop-color="#00ffa0"/><stop offset="0.336" stop-color="#00ff98"/><stop offset="0.566" stop-color="#00ff8d"/><stop offset="0.574" stop-color="#0cff8c"/><stop offset="0.582" stop-color="#32ff8c"/><stop offset="0.59" stop-color="#49ff8b"/><stop offset="0.623" stop-color="#87ff89"/><stop offset="0.787" stop-color="#fffe78"/><stop offset="0.885" stop-color="#ffc14e"/><stop offset="0.951" stop-color="#ffa334"/><stop offset="1" stop-color="#ff9013"/></linearGradient><linearGradient id="r88" gradientUnits="userSpaceOnUse" x1="368" x2="491" y1="0" y2="0"><stop offset="0" stop-color="#00ffa2"/><stop offset="0.317" stop-color="#00ff9b"/><stop offset="0.561" stop-color="#00ff90"/><stop offset="0.577" stop-color="#3cff8f"/><stop offset="0.593" stop-color="#61ff8e"/><stop offset="0.618" stop-color="#8cff8c"/><stop offset="0.772" stop-color="#feff7e"/><stop offset="0.854" stop-color="#ffcb5b"/><stop offset="0.911" stop-color="#ffaf47"/><stop offset="0.967" stop-color="#ff972a"/><stop offset="1" stop-color="#ff8b13"/></linearGradient><linearGradient id="r89" gradientUnits="userSpaceOnUse" x1="368" x2="492" y1="0" y2="0"><stop offset="0" stop-color="#00ffa4"/><stop offset="0.556" stop-color="#00ff93"/><stop offset="0.565" stop-color="#2dff93"/><stop offset="0.573" stop-color="#45ff92"/><stop offset="0.589" stop-color="#68ff91"/><stop offset="0.613" stop-color="#91ff90"/><stop offset="0.758" stop-color="#fdff84"/><stop offset="0.847" stop-color="#ffc85f"/><stop offset="0.911" stop-color="#ffa946"/><stop offset="0.968" stop-color="#ff9229"/><stop offset="1" stop-color="#ff8613"/></linearGradient><linearGradient id="r90" gradientUnits="userSpaceOnUse" x1="368" x2="493" y1="0" y2="0"><stop offset="0" stop-color="#00ffa6"/><stop offset="0.544" stop-color="#00ff97"/><stop offset="0.552" stop-color="#17ff96"/><stop offset="0.56" stop-color="#37ff96"/><stop offset="0.568" stop-color="#4dff96"/><stop offset="0.584" stop-color="#6eff95"/><stop offset="0.608" stop-color="#95ff93"/><stop offset="0.744" stop-color="#fbff89"/><stop offset="0.752" stop-color="#fffd88"/><stop offset="0.8" stop-color="#ffdc72"/><stop offset="0.864" stop-color="#ffb959"/><stop offset="0.96" stop-color="#ff902d"/><stop offset="1" stop-color="#ff8113"/></linearGradient><linearGradient id="r91" gradientUnits="userSpaceOnUse" x1="368" x2="494" y1="0" y2="0"><stop offset="0" stop-color="#00ffa8"/><stop offset="0.54" stop-color="#00ff9a"/><stop offset="0.548" stop-color="#27ff9a"/><stop offset="0.556" stop-color="#40ff99"/><stop offset="0.571" stop-color="#65ff99"/><stop offset="0.595" stop-color="#8fff97"/><stop offset="0.603" stop-color="#99ff97"/><stop offset="0.738" stop-color="#ffff8e"/><stop offset="0.802" stop-color="#ffd471"/><stop offset="0.873" stop-color="#ffaf55"/><stop offset="0.968" stop-color="#ff8828"/><stop offset="1" stop-color="#ff7d12"/></linearGradient><linearGradient id="r92" gradientUnits="userSpaceOnUse" x1="368" x2="495" y1="0" y2="0"><stop offset="0" stop-color="#00ffa9"/><stop offset="0.528" stop-color="#00ff9e"/><stop offset="0.535" stop-color="#0bff9d"/><stop offset="0.543" stop-color="#32ff9d"/><stop offset="0.551" stop-color="#49ff9d"/><stop offset="0.567" stop-color="#6bff9c"/><stop offset="0.591" stop-color="#94ff9b"/><stop offset="0.724" stop-color="#fdff93"/><stop offset="0.795" stop-color="#ffd174"/><stop offset="0.85" stop-color="#ffb45f"/><stop offset="0.976" stop-color="#ff8023"/><stop offset="1" stop-color="#ff7812"/></linearGradient><linearGradient id="r93" gradientUnits="userSpaceOnUse" x1="368" x2="496" y1="0" y2="0"><stop offset="0" stop-color="#00ffab"/><stop offset="0.523" stop-color="#00ffa1"/><stop offset="0.539" stop-color="#3cffa0"/><stop offset="0.547" stop-color="#50ffa0"/><stop offset="0.562" stop-color="#71ff9f"/><stop offset="0.586" stop-color="#99ff9e"/><stop offset="0.711" stop-color="#fbff98"/><stop offset="0.719" stop-color="#fffd96"/><stop offset="0.766" stop-color="#ffdc80"/><stop offset="0.82" stop-color="#ffbd6a"/><stop offset="0.945" stop-color="#ff8733"/><stop offset="1" stop-color="#ff7412"/></linearGradient><linearGradient id="r94" gradientUnits="userSpaceOnUse" x1="369" x2="497" y1="0" y2="0"><stop offset="0" stop-color="#00ffad"/><stop offset="0.516" stop-color="#00ffa4"/><stop offset="0.523" stop-color="#2cffa4"/><stop offset="0.531" stop-color="#45ffa3"/><stop offset="0.555" stop-color="#77ffa2"/><stop offset="0.578" stop-color="#9effa2"/><stop offset="0.703" stop-color="#ffff9c"/><stop offset="0.766" stop-color="#ffd47f"/><stop offset="0.836" stop-color="#ffaf62"/><stop offset="0.945" stop-color="#ff8332"/><stop offset="1" stop-color="#ff6f12"/></linearGradient><linearGradient id="r95" gradientUnits="userSpaceOnUse" x1="369" x2="498" y1="0" y2="0"><stop offset="0" stop-color="#00ffaf"/><stop offset="0.504" stop-color="#00ffa7"/><stop offset="0.512" stop-color="#17ffa7"/><stop offset="0.519" stop-color="#37ffa7"/><stop offset="0.527" stop-color="#4dffa6"/><stop offset="0.55" stop-color="#7dffa6"/><stop offset="0.574" stop-color="#a3ffa5"/><stop offset="0.69" stop-color="#fdffa1"/><stop offset="0.76" stop-color="#ffd181"/><stop offset="0.814" stop-color="#ffb46b"/><stop offset="0.961" stop-color="#ff782a"/><stop offset="1" stop-color="#ff6b11"/></linearGradient><linearGradient id="r96" gradientUnits="userSpaceOnUse" x1="369" x2="499" y1="0" y2="0"><stop offset="0" stop-color="#00ffb1"/><stop offset="0.5" stop-color="#00ffaa"/><stop offset="0.508" stop-color="#26ffaa"/><stop offset="0.523" stop-color="#54ffaa"/><stop offset="0.538" stop-color="#74ffa9"/><stop offset="0.569" stop-color="#a8ffa8"/><stop offset="0.685" stop-color="#fffda3"/><stop offset="0.754" stop-color="#ffce83"/><stop offset="0.815" stop-color="#ffae69"/><stop offset="0.954" stop-color="#ff772d"/><stop offset="1" stop-color="#ff6711"/></linearGradient><linearGradient id="r97" gradientUnits="userSpaceOnUse" x1="369" x2="500" y1="0" y2="0"><stop offset="0" stop-color="#00ffb2"/><stop offset="0.489" stop-color="#00ffad"/><stop offset="0.496" stop-color="#09ffad"/><stop offset="0.504" stop-color="#32ffad"/><stop offset="0.519" stop-color="#5bffad"/><stop offset="0.542" stop-color="#88ffac"/><stop offset="0.565" stop-color="#acffac"/><stop offset="0.672" stop-color="#ffffa9"/><stop offset="0.733" stop-color="#ffd48b"/><stop offset="0.817" stop-color="#ffa867"/><stop offset="0.947" stop-color="#ff7530"/><stop offset="1" stop-color="#ff6311"/></linearGradient><linearGradient id="r98" gradientUnits="userSpaceOnUse" x1="369" x2="501" y1="0" y2="0"><stop offset="0" stop-color="#00ffb4"/><stop offset="0.485" stop-color="#00ffb0"/><stop offset="0.5" stop-color="#3cffb0"/><stop offset="0.508" stop-color="#50ffb0"/><stop offset="0.53" stop-color="#80ffb0"/><stop offset="0.553" stop-color="#a6ffaf"/><stop offset="0.561" stop-color="#b1ffaf"/><stop offset="0.659" stop-color="#fdffad"/><stop offset="0.727" stop-color="#ffd18d"/><stop offset="0.795" stop-color="#ffad6f"/><stop offset="0.955" stop-color="#ff6e2c"/><stop offset="1" stop-color="#ff5f11"/></linearGradient><linearGradient id="r99" gradientUnits="userSpaceOnUse" x1="369" x2="502" y1="0" y2="0"><stop offset="0" stop-color="#00ffb6"/><stop offset="0.481" stop-color="#00ffb3"/><stop offset="0.489" stop-color="#2cffb3"/><stop offset="0.504" stop-color="#58ffb3"/><stop offset="0.526" stop-color="#85ffb3"/><stop offset="0.549" stop-color="#abffb3"/><stop offset="0.556" stop-color="#b5ffb3"/><stop offset="0.654" stop-color="#fffdb0"/><stop offset="0.722" stop-color="#ffce8f"/><stop offset="0.797" stop-color="#ffa76d"/><stop offset="0.94" stop-color="#ff6f32"/><stop offset="0.977" stop-color="#ff6220"/><stop offset="1" stop-color="#ff5b10"/></linearGradient><linearGradient id="r100" gradientUnits="userSpaceOnUse" x1="370" x2="503" y1="0" y2="0"><stop offset="0" stop-color="#00ffb8"/><stop offset="0.466" stop-color="#00ffb6"/><stop offset="0.474" stop-color="#16ffb6"/><stop offset="0.481" stop-color="#37ffb6"/><stop offset="0.496" stop-color="#5fffb6"/><stop offset="0.519" stop-color="#8bffb6"/><stop offset="0.541" stop-color="#b0ffb6"/><stop offset="0.639" stop-color="#ffffb5"/><stop offset="0.699" stop-color="#ffd497"/><stop offset="0.759" stop-color="#ffb37b"/><stop offset="0.947" stop-color="#ff682e"/><stop offset="1" stop-color="#ff5710"/></linearGradient><linearGradient id="r101" gradientUnits="userSpaceOnUse" x1="370" x2="504" y1="0" y2="0"><stop offset="0" stop-color="#00ffba"/><stop offset="0.463" stop-color="#00ffb9"/><stop offset="0.47" stop-color="#26ffb9"/><stop offset="0.485" stop-color="#54ffb9"/><stop offset="0.507" stop-color="#83ffb9"/><stop offset="0.537" stop-color="#b5ffb9"/><stop offset="0.627" stop-color="#fdffb9"/><stop offset="0.694" stop-color="#ffd198"/><stop offset="0.776" stop-color="#ffa672"/><stop offset="0.94" stop-color="#ff6731"/><stop offset="1" stop-color="#ff5310"/></linearGradient><linearGradient id="r102" gradientUnits="userSpaceOnUse" x1="370" x2="505" y1="0" y2="0"><stop offset="0" stop-color="#00ffbb"/><stop offset="0.452" stop-color="#00ffbc"/><stop offset="0.459" stop-color="#07ffbc"/><stop offset="0.467" stop-color="#32ffbc"/><stop offset="0.481" stop-color="#5bffbc"/><stop offset="0.504" stop-color="#88ffbd"/><stop offset="0.526" stop-color="#aeffbd"/><stop offset="0.541" stop-color="#c1ffbd"/><stop offset="0.615" stop-color="#fcffbd"/><stop offset="0.689" stop-color="#ffce9a"/><stop offset="0.77" stop-color="#ffa474"/><stop offset="0.948" stop-color="#ff602d"/><stop offset="1" stop-color="#ff4f10"/></linearGradient><linearGradient id="r103" gradientUnits="userSpaceOnUse" x1="370" x2="506" y1="0" y2="0"><stop offset="0" stop-color="#00ffbd"/><stop offset="0.449" stop-color="#00ffbf"/><stop offset="0.463" stop-color="#3cffbf"/><stop offset="0.478" stop-color="#62ffbf"/><stop offset="0.5" stop-color="#8effc0"/><stop offset="0.522" stop-color="#b3ffc0"/><stop offset="0.537" stop-color="#c5ffc0"/><stop offset="0.61" stop-color="#fffec0"/><stop offset="0.669" stop-color="#ffd4a1"/><stop offset="0.757" stop-color="#ffa578"/><stop offset="0.838" stop-color="#ff8357"/><stop offset="0.956" stop-color="#ff5a29"/><stop offset="1" stop-color="#ff4b10"/></linearGradient><linearGradient id="r104" gradientUnits="userSpaceOnUse" x1="370" x2="507" y1="0" y2="0"><stop offset="0" stop-color="#00ffbf"/><stop offset="0.445" stop-color="#00ffc2"/><stop offset="0.453" stop-color="#2cffc2"/><stop offset="0.467" stop-color="#58ffc2"/><stop offset="0.482" stop-color="#78ffc3"/><stop offset="0.511" stop-color="#acffc3"/><stop offset="0.526" stop-color="#c3ffc3"/><stop offset="0.599" stop-color="#feffc5"/><stop offset="0.664" stop-color="#ffd1a3"/><stop offset="0.752" stop-color="#ffa379"/><stop offset="0.825" stop-color="#ff845c"/><stop offset="0.949" stop-color="#ff582c"/><stop offset="1" stop-color="#ff4710"/></linearGradient><linearGradient id="r105" gradientUnits="userSpaceOnUse" x1="370" x2="508" y1="0" y2="0"><stop offset="0" stop-color="#00ffc1"/><stop offset="0.435" stop-color="#00ffc5"/><stop offset="0.442" stop-color="#15ffc5"/><stop offset="0.449" stop-color="#37ffc5"/><stop offset="0.457" stop-color="#4dffc5"/><stop offset="0.471" stop-color="#6fffc6"/><stop offset="0.5" stop-color="#a5ffc6"/><stop offset="0.522" stop-color="#c7ffc7"/><stop offset="0.587" stop-color="#fcffc8"/><stop offset="0.667" stop-color="#ffca9f"/><stop offset="0.739" stop-color="#ffa47d"/><stop offset="0.841" stop-color="#ff7a55"/><stop offset="0.964" stop-color="#ff4f25"/><stop offset="1" stop-color="#ff430f"/></linearGradient><linearGradient id="r106" gradientUnits="userSpaceOnUse" x1="371" x2="509" y1="0" y2="0"><stop offset="0" stop-color="#00ffc3"/><stop offset="0.428" stop-color="#00ffc8"/><stop offset="0.435" stop-color="#25ffc8"/><stop offset="0.442" stop-color="#40ffc8"/><stop offset="0.449" stop-color="#54ffc8"/><stop offset="0.464" stop-color="#75ffc9"/><stop offset="0.486" stop-color="#9dffc9"/><stop offset="0.514" stop-color="#cbffca"/><stop offset="0.58" stop-color="#fffecb"/><stop offset="0.638" stop-color="#ffd4ac"/><stop offset="0.732" stop-color="#ffa27e"/><stop offset="0.826" stop-color="#ff7b59"/><stop offset="0.935" stop-color="#ff5531"/><stop offset="1" stop-color="#ff3f0f"/></linearGradient><linearGradient id="r107" gradientUnits="userSpaceOnUse" x1="371" x2="510" y1="0" y2="0"><stop offset="0" stop-color="#00ffc4"/><stop offset="0.417" stop-color="#00ffcb"/><stop offset="0.424" stop-color="#04ffcb"/><stop offset="0.432" stop-color="#31ffcb"/><stop offset="0.439" stop-color="#49ffcb"/><stop offset="0.453" stop-color="#6cffcc"/><stop offset="0.475" stop-color="#96ffcc"/><stop offset="0.511" stop-color="#cfffcd"/><stop offset="0.568" stop-color="#feffcf"/><stop offset="0.633" stop-color="#ffd1ac"/><stop offset="0.719" stop-color="#ffa382"/><stop offset="0.813" stop-color="#ff7c5d"/><stop offset="0.921" stop-color="#ff5636"/><stop offset="0.978" stop-color="#ff421d"/><stop offset="1" stop-color="#ff3b0f"/></linearGradient><linearGradient id="r108" gradientUnits="userSpaceOnUse" x1="371" x2="511" y1="0" y2="0"><stop offset="0" stop-color="#00ffc6"/><stop offset="0.414" stop-color="#00ffce"/><stop offset="0.429" stop-color="#3bffce"/><stop offset="0.436" stop-color="#50ffce"/><stop offset="0.45" stop-color="#72ffcf"/><stop offset="0.471" stop-color="#9bffcf"/><stop offset="0.507" stop-color="#d3ffd1"/><stop offset="0.557" stop-color="#fcffd3"/><stop offset="0.636" stop-color="#ffcaa8"/><stop offset="0.714" stop-color="#ffa183"/><stop offset="0.8" stop-color="#ff7d61"/><stop offset="0.936" stop-color="#ff4d30"/><stop offset="1" stop-color="#ff370f"/></linearGradient><linearGradient id="r109" gradientUnits="userSpaceOnUse" x1="371" x2="512" y1="0" y2="0"><stop offset="0" stop-color="#00ffc8"/><stop offset="0.411" stop-color="#00ffd0"/><stop offset="0.418" stop-color="#2bffd1"/><stop offset="0.426" stop-color="#44ffd1"/><stop offset="0.44" stop-color="#69ffd1"/><stop offset="0.468" stop-color="#a0ffd2"/><stop offset="0.504" stop-color="#d7ffd4"/><stop offset="0.553" stop-color="#fffed5"/><stop offset="0.61" stop-color="#ffd4b4"/><stop offset="0.702" stop-color="#ffa286"/><stop offset="0.787" stop-color="#ff7e65"/><stop offset="0.922" stop-color="#ff4e35"/><stop offset="0.972" stop-color="#ff3d20"/><stop offset="1" stop-color="#ff320f"/></linearGradient><linearGradient id="r110" gradientUnits="userSpaceOnUse" x1="371" x2="513" y1="0" y2="0"><stop offset="0" stop-color="#00ffca"/><stop offset="0.401" stop-color="#00ffd3"/><stop offset="0.408" stop-color="#14ffd3"/><stop offset="0.415" stop-color="#36ffd4"/><stop offset="0.423" stop-color="#4dffd4"/><stop offset="0.437" stop-color="#6fffd4"/><stop offset="0.458" stop-color="#99ffd5"/><stop offset="0.493" stop-color="#d4ffd7"/><stop offset="0.542" stop-color="#feffd9"/><stop offset="0.606" stop-color="#ffd1b4"/><stop offset="0.697" stop-color="#ffa087"/><stop offset="0.796" stop-color="#ff7761"/><stop offset="0.937" stop-color="#ff452f"/><stop offset="1" stop-color="#ff2e0f"/></linearGradient><linearGradient id="r111" gradientUnits="userSpaceOnUse" x1="372" x2="514" y1="0" y2="0"><stop offset="0" stop-color="#00ffcc"/><stop offset="0.394" stop-color="#00ffd6"/><stop offset="0.401" stop-color="#25ffd6"/><stop offset="0.408" stop-color="#40ffd6"/><stop offset="0.415" stop-color="#54ffd7"/><stop offset="0.437" stop-color="#84ffd8"/><stop offset="0.451" stop-color="#9effd8"/><stop offset="0.486" stop-color="#d8ffda"/><stop offset="0.535" stop-color="#fffcda"/><stop offset="0.606" stop-color="#ffcab0"/><stop offset="0.683" stop-color="#ffa18b"/><stop offset="0.782" stop-color="#ff7865"/><stop offset="0.93" stop-color="#ff4431"/><stop offset="1" stop-color="#ff290f"/></linearGradient><linearGradient id="r112" gradientUnits="userSpaceOnUse" x1="372" x2="515" y1="0" y2="0"><stop offset="0" stop-color="#00ffce"/><stop offset="0.392" stop-color="#00ffd9"/><stop offset="0.399" stop-color="#31ffd9"/><stop offset="0.406" stop-color="#49ffd9"/><stop offset="0.434" stop-color="#89ffdb"/><stop offset="0.483" stop-color="#ddffdd"/><stop offset="0.524" stop-color="#fffedf"/><stop offset="0.601" stop-color="#ffc7b1"/><stop offset="0.678" stop-color="#ff9f8c"/><stop offset="0.769" stop-color="#ff7968"/><stop offset="0.937" stop-color="#ff3d2e"/><stop offset="1" stop-color="#ff240e"/></linearGradient><linearGradient id="r113" gradientUnits="userSpaceOnUse" x1="372" x2="516" y1="0" y2="0"><stop offset="0" stop-color="#00ffcf"/><stop offset="0.382" stop-color="#00ffdb"/><stop offset="0.396" stop-color="#3bffdc"/><stop offset="0.403" stop-color="#51ffdc"/><stop offset="0.431" stop-color="#8fffde"/><stop offset="0.479" stop-color="#e1ffe1"/><stop offset="0.514" stop-color="#feffe3"/><stop offset="0.576" stop-color="#ffd1bc"/><stop offset="0.667" stop-color="#ffa08f"/><stop offset="0.778" stop-color="#ff7264"/><stop offset="0.951" stop-color="#ff3428"/><stop offset="1" stop-color="#ff1f0e"/></linearGradient><linearGradient id="r114" gradientUnits="userSpaceOnUse" x1="372" x2="517" y1="0" y2="0"><stop offset="0" stop-color="#00ffd1"/><stop offset="0.379" stop-color="#00ffde"/><stop offset="0.386" stop-color="#2bffdf"/><stop offset="0.393" stop-color="#44ffdf"/><stop offset="0.407" stop-color="#69ffe0"/><stop offset="0.421" stop-color="#87ffe0"/><stop offset="0.455" stop-color="#c5ffe3"/><stop offset="0.476" stop-color="#e5ffe4"/><stop offset="0.51" stop-color="#fffce4"/><stop offset="0.579" stop-color="#ffcab8"/><stop offset="0.662" stop-color="#ff9e90"/><stop offset="0.766" stop-color="#ff7368"/><stop offset="0.938" stop-color="#ff352d"/><stop offset="1" stop-color="#ff190e"/></linearGradient><linearGradient id="r115" gradientUnits="userSpaceOnUse" x1="372" x2="518" y1="0" y2="0"><stop offset="0" stop-color="#00ffd3"/><stop offset="0.37" stop-color="#00ffe1"/><stop offset="0.377" stop-color="#13ffe1"/><stop offset="0.384" stop-color="#36ffe1"/><stop offset="0.39" stop-color="#4dffe2"/><stop offset="0.418" stop-color="#8cffe3"/><stop offset="0.466" stop-color="#e0ffe7"/><stop offset="0.5" stop-color="#fffee8"/><stop offset="0.555" stop-color="#ffd4c4"/><stop offset="0.658" stop-color="#ff9c90"/><stop offset="0.753" stop-color="#ff746b"/><stop offset="0.945" stop-color="#ff2e2a"/><stop offset="1" stop-color="#ff120e"/></linearGradient><linearGradient id="r116" gradientUnits="userSpaceOnUse" x1="373" x2="519" y1="0" y2="0"><stop offset="0" stop-color="#00ffd5"/><stop offset="0.363" stop-color="#00ffe3"/><stop offset="0.37" stop-color="#24ffe4"/><stop offset="0.377" stop-color="#40ffe4"/><stop offset="0.397" stop-color="#76ffe6"/><stop offset="0.418" stop-color="#9fffe7"/><stop offset="0.459" stop-color="#e4ffea"/><stop offset="0.486" stop-color="#ffffec"/><stop offset="0.555" stop-color="#ffcdc0"/><stop offset="0.644" stop-color="#ff9d94"/><stop offset="0.747" stop-color="#ff736c"/><stop offset="0.918" stop-color="#ff3533"/><stop offset="0.966" stop-color="#ff2021"/><stop offset="1" stop-color="#ff070e"/></linearGradient><linearGradient id="r117" gradientUnits="userSpaceOnUse" x1="373" x2="520" y1="0" y2="0"><stop offset="0" stop-color="#00ffd7"/><stop offset="0.361" stop-color="#00ffe6"/><stop offset="0.367" stop-color="#31ffe7"/><stop offset="0.381" stop-color="#5cffe8"/><stop offset="0.395" stop-color="#7cffe9"/><stop offset="0.415" stop-color="#a4ffea"/><stop offset="0.456" stop-color="#e9ffed"/><stop offset="0.476" stop-color="#fdffef"/><stop offset="0.483" stop-color="#fffbed"/><stop offset="0.551" stop-color="#ffcac0"/><stop offset="0.646" stop-color="#ff9891"/><stop offset="0.925" stop-color="#ff2e30"/><stop offset="0.973" stop-color="#ff161d"/><stop offset="0.993" stop-color="#ff0013"/><stop offset="1" stop-color="#ff000e"/></linearGradient><linearGradient id="r118" gradientUnits="userSpaceOnUse" x1="373" x2="521" y1="0" y2="0"><stop offset="0" stop-color="#00ffd9"/><stop offset="0.351" stop-color="#00ffe9"/><stop offset="0.365" stop-color="#3bffea"/><stop offset="0.372" stop-color="#51ffea"/><stop offset="0.385" stop-color="#73ffeb"/><stop offset="0.412" stop-color="#a9ffed"/><stop offset="0.446" stop-color="#e3fff0"/><stop offset="0.459" stop-color="#f5fff1"/><stop offset="0.473" stop-color="#fffdf1"/><stop offset="0.527" stop-color="#ffd4cc"/><stop offset="0.588" stop-color="#ffb1aa"/><stop offset="0.655" stop-color="#ff908c"/><stop offset="0.912" stop-color="#ff2f35"/><stop offset="0.959" stop-color="#ff1823"/><stop offset="0.986" stop-color="#ff0016"/><stop offset="1" stop-color="#ff000e"/></linearGradient><linearGradient id="r119" gradientUnits="userSpaceOnUse" x1="373" x2="522" y1="0" y2="0"><stop offset="0" stop-color="#00ffdb"/><stop offset="0.349" stop-color="#00ffeb"/><stop offset="0.356" stop-color="#2bffec"/><stop offset="0.362" stop-color="#44ffec"/><stop offset="0.383" stop-color="#79ffee"/><stop offset="0.43" stop-color="#d1fff2"/><stop offset="0.45" stop-color="#f2fff4"/><stop offset="0.463" stop-color="#fffff5"/><stop offset="0.53" stop-color="#ffcdc8"/><stop offset="0.631" stop-color="#ff9795"/><stop offset="0.745" stop-color="#ff696a"/><stop offset="0.893" stop-color="#ff333b"/><stop offset="0.953" stop-color="#ff1525"/><stop offset="0.973" stop-color="#ff001d"/><stop offset="1" stop-color="#ff000e"/></linearGradient><linearGradient id="r120" gradientUnits="userSpaceOnUse" x1="373" x2="523" y1="0" y2="0"><stop offset="0" stop-color="#00ffdc"/><stop offset="0.34" stop-color="#00ffee"/><stop offset="0.347" stop-color="#12ffee"/><stop offset="0.353" stop-color="#36ffef"/><stop offset="0.36" stop-color="#4dffef"/><stop offset="0.38" stop-color="#7ffff1"/><stop offset="0.4" stop-color="#a7fff3"/><stop offset="0.447" stop-color="#f7fff7"/><stop offset="0.46" stop-color="#fffbf5"/><stop offset="0.533" stop-color="#ffc6c3"/><stop offset="0.627" stop-color="#ff9596"/><stop offset="0.74" stop-color="#ff686b"/><stop offset="0.88" stop-color="#ff343f"/><stop offset="0.94" stop-color="#ff172a"/><stop offset="0.953" stop-color="#ff0d25"/><stop offset="0.96" stop-color="#ff0222"/><stop offset="1" stop-color="#ff000d"/></linearGradient><linearGradient id="r121" gradientUnits="userSpaceOnUse" x1="374" x2="524" y1="0" y2="0"><stop offset="0" stop-color="#00ffdf"/><stop offset="0.333" stop-color="#00fff1"/><stop offset="0.34" stop-color="#24fff1"/><stop offset="0.347" stop-color="#40fff2"/><stop offset="0.367" stop-color="#76fff3"/><stop offset="0.407" stop-color="#c4fff7"/><stop offset="0.44" stop-color="#fbfffb"/><stop offset="0.447" stop-color="#fffdfa"/><stop offset="0.5" stop-color="#ffd4d3"/><stop offset="0.58" stop-color="#ffa6a8"/><stop offset="0.687" stop-color="#ff787c"/><stop offset="0.887" stop-color="#ff2d3c"/><stop offset="0.927" stop-color="#ff192f"/><stop offset="0.953" stop-color="#ff0025"/><stop offset="1" stop-color="#ff000d"/></linearGradient><linearGradient id="r122" gradientUnits="userSpaceOnUse" x1="374" x2="525" y1="0" y2="0"><stop offset="0" stop-color="#00ffe0"/><stop offset="0.331" stop-color="#00fff3"/><stop offset="0.338" stop-color="#30fff4"/><stop offset="0.344" stop-color="#49fff5"/><stop offset="0.358" stop-color="#6dfff6"/><stop offset="0.391" stop-color="#b1fff9"/><stop offset="0.437" stop-color="#fffffe"/><stop offset="0.503" stop-color="#ffcdcf"/><stop offset="0.609" stop-color="#ff9499"/><stop offset="0.722" stop-color="#ff666f"/><stop offset="0.894" stop-color="#ff2139"/><stop offset="0.914" stop-color="#ff1533"/><stop offset="0.934" stop-color="#ff002c"/><stop offset="1" stop-color="#ff000d"/></linearGradient><linearGradient id="r123" gradientUnits="userSpaceOnUse" x1="374" x2="526" y1="0" y2="0"><stop offset="0" stop-color="#00ffe2"/><stop offset="0.322" stop-color="#00fff7"/><stop offset="0.336" stop-color="#3bfff8"/><stop offset="0.355" stop-color="#74fffa"/><stop offset="0.395" stop-color="#c3ffff"/><stop offset="0.434" stop-color="#fff9fd"/><stop offset="0.507" stop-color="#ffc4ca"/><stop offset="0.592" stop-color="#ff969f"/><stop offset="0.711" stop-color="#ff6472"/><stop offset="0.868" stop-color="#ff2441"/><stop offset="0.895" stop-color="#ff1439"/><stop offset="0.914" stop-color="#ff0032"/><stop offset="0.961" stop-color="#ff0022"/><stop offset="1" stop-color="#ff000d"/></linearGradient><linearGradient id="r124" gradientUnits="userSpaceOnUse" x1="374" x2="527" y1="0" y2="0"><stop offset="0" stop-color="#00ffe5"/><stop offset="0.32" stop-color="#00fffc"/><stop offset="0.327" stop-color="#2bfffd"/><stop offset="0.333" stop-color="#45fffe"/><stop offset="0.353" stop-color="#7bfeff"/><stop offset="0.386" stop-color="#bbfaff"/><stop offset="0.425" stop-color="#faf5ff"/><stop offset="0.431" stop-color="#fff2fc"/><stop offset="0.51" stop-color="#ffbac6"/><stop offset="0.608" stop-color="#ff8897"/><stop offset="0.699" stop-color="#ff6275"/><stop offset="0.843" stop-color="#ff2748"/><stop offset="0.876" stop-color="#ff133e"/><stop offset="0.889" stop-color="#ff023a"/><stop offset="0.967" stop-color="#ff001f"/><stop offset="1" stop-color="#ff000d"/></linearGradient><linearGradient id="r125" gradientUnits="userSpaceOnUse" x1="375" x2="529" y1="0" y2="0"><stop offset="0" stop-color="#00ffe9"/><stop offset="0.305" stop-color="#00fdff"/><stop offset="0.312" stop-color="#11fcff"/><stop offset="0.318" stop-color="#36fcff"/><stop offset="0.325" stop-color="#4dfbff"/><stop offset="0.344" stop-color="#7ff8ff"/><stop offset="0.39" stop-color="#d3f2ff"/><stop offset="0.416" stop-color="#fcf0ff"/><stop offset="0.422" stop-color="#ffebfb"/><stop offset="0.5" stop-color="#ffb5c6"/><stop offset="0.591" stop-color="#ff869a"/><stop offset="0.682" stop-color="#ff6078"/><stop offset="0.812" stop-color="#ff2a4f"/><stop offset="0.851" stop-color="#ff1244"/><stop offset="0.864" stop-color="#ff0040"/><stop offset="0.968" stop-color="#ff001c"/><stop offset="1" stop-color="#ff0007"/></linearGradient><linearGradient id="r126" gradientUnits="userSpaceOnUse" x1="375" x2="529" y1="0" y2="0"><stop offset="0" stop-color="#00ffed"/><stop offset="0.24" stop-color="#00ffff"/><stop offset="0.305" stop-color="#00f8ff"/><stop offset="0.318" stop-color="#40f6ff"/><stop offset="0.331" stop-color="#66f4ff"/><stop offset="0.344" stop-color="#84f3ff"/><stop offset="0.37" stop-color="#b5efff"/><stop offset="0.416" stop-color="#feeaff"/><stop offset="0.487" stop-color="#ffb7cd"/><stop offset="0.578" stop-color="#ff87a0"/><stop offset="0.675" stop-color="#ff5e7b"/><stop offset="0.792" stop-color="#ff2d56"/><stop offset="0.825" stop-color="#ff1b4d"/><stop offset="0.838" stop-color="#ff1149"/><stop offset="0.851" stop-color="#ff0045"/><stop offset="0.948" stop-color="#ff0026"/><stop offset="1" stop-color="#ff000d"/></linearGradient><linearGradient id="r127" gradientUnits="userSpaceOnUse" x1="375" x2="530" y1="0" y2="0"><stop offset="0" stop-color="#00fff0"/><stop offset="0.187" stop-color="#00ffff"/><stop offset="0.303" stop-color="#00f2ff"/><stop offset="0.31" stop-color="#30f1ff"/><stop offset="0.316" stop-color="#48f0ff"/><stop offset="0.329" stop-color="#6befff"/><stop offset="0.355" stop-color="#a1ebff"/><stop offset="0.413" stop-color="#ffe4fe"/><stop offset="0.439" stop-color="#ffcfea"/><stop offset="0.49" stop-color="#ffaec9"/><stop offset="0.568" stop-color="#ff85a3"/><stop offset="0.658" stop-color="#ff5e80"/><stop offset="0.787" stop-color="#ff2657"/><stop offset="0.819" stop-color="#ff104e"/><stop offset="0.832" stop-color="#ff004a"/><stop offset="0.961" stop-color="#ff0021"/><stop offset="1" stop-color="#ff000d"/></linearGradient><linearGradient id="r128" gradientUnits="userSpaceOnUse" x1="375" x2="527" y1="0" y2="0"><stop offset="0" stop-color="#00fff4"/><stop offset="0.145" stop-color="#00ffff"/><stop offset="0.303" stop-color="#00edff"/><stop offset="0.316" stop-color="#3aecff"/><stop offset="0.336" stop-color="#70e9ff"/><stop offset="0.362" stop-color="#a4e5ff"/><stop offset="0.408" stop-color="#eee0ff"/><stop offset="0.421" stop-color="#ffddfd"/><stop offset="0.487" stop-color="#ffb0d0"/><stop offset="0.572" stop-color="#ff83a6"/><stop offset="0.664" stop-color="#ff5c83"/><stop offset="0.783" stop-color="#ff295e"/><stop offset="0.816" stop-color="#ff1555"/><stop offset="0.836" stop-color="#ff004f"/><stop offset="1" stop-color="#ff001b"/></linearGradient><linearGradient id="r129" gradientUnits="userSpaceOnUse" x1="375" x2="525" y1="0" y2="0"><stop offset="0" stop-color="#00fff8"/><stop offset="0.093" stop-color="#00ffff"/><stop offset="0.307" stop-color="#00e8ff"/><stop offset="0.313" stop-color="#29e7ff"/><stop offset="0.32" stop-color="#42e6ff"/><stop offset="0.34" stop-color="#75e4ff"/><stop offset="0.373" stop-color="#b2dfff"/><stop offset="0.413" stop-color="#f0daff"/><stop offset="0.427" stop-color="#ffd6fb"/><stop offset="0.5" stop-color="#ffa6cc"/><stop offset="0.573" stop-color="#ff82a9"/><stop offset="0.66" stop-color="#ff5c88"/><stop offset="0.773" stop-color="#ff2c65"/><stop offset="0.813" stop-color="#ff1459"/><stop offset="0.827" stop-color="#ff0256"/><stop offset="1" stop-color="#ff0022"/></linearGradient><linearGradient id="r130" gradientUnits="userSpaceOnUse" x1="376" x2="523" y1="0" y2="0"><stop offset="0" stop-color="#00fffc"/><stop offset="0.122" stop-color="#00f8ff"/><stop offset="0.299" stop-color="#00e4ff"/><stop offset="0.306" stop-color="#0fe3ff"/><stop offset="0.313" stop-color="#34e2ff"/><stop offset="0.32" stop-color="#4ae1ff"/><stop offset="0.34" stop-color="#79deff"/><stop offset="0.388" stop-color="#cad8ff"/><stop offset="0.422" stop-color="#fbd4ff"/><stop offset="0.429" stop-color="#ffcffa"/><stop offset="0.483" stop-color="#ffacd7"/><stop offset="0.571" stop-color="#ff80ac"/><stop offset="0.68" stop-color="#ff5284"/><stop offset="0.769" stop-color="#ff2c6a"/><stop offset="0.81" stop-color="#ff135e"/><stop offset="0.823" stop-color="#ff005a"/><stop offset="1" stop-color="#ff0029"/></linearGradient><linearGradient id="r131" gradientUnits="userSpaceOnUse" x1="376" x2="521" y1="0" y2="0"><stop offset="0" stop-color="#00feff"/><stop offset="0.303" stop-color="#00dfff"/><stop offset="0.317" stop-color="#3dddff"/><stop offset="0.331" stop-color="#61dbff"/><stop offset="0.345" stop-color="#7ed9ff"/><stop offset="0.386" stop-color="#c2d3ff"/><stop offset="0.414" stop-color="#ead0ff"/><stop offset="0.428" stop-color="#fdceff"/><stop offset="0.434" stop-color="#ffc9f9"/><stop offset="0.503" stop-color="#ff9fcf"/><stop offset="0.572" stop-color="#ff7eaf"/><stop offset="0.676" stop-color="#ff5289"/><stop offset="0.772" stop-color="#ff286c"/><stop offset="0.807" stop-color="#ff1263"/><stop offset="0.821" stop-color="#ff005f"/><stop offset="1" stop-color="#ff002f"/></linearGradient><linearGradient id="r132" gradientUnits="userSpaceOnUse" x1="376" x2="519" y1="0" y2="0"><stop offset="0" stop-color="#00faff"/><stop offset="0.308" stop-color="#00d9ff"/><stop offset="0.315" stop-color="#2dd8ff"/><stop offset="0.329" stop-color="#57d6ff"/><stop offset="0.343" stop-color="#75d4ff"/><stop offset="0.371" stop-color="#a5d0ff"/><stop offset="0.434" stop-color="#ffc9ff"/><stop offset="0.497" stop-color="#ffa1d6"/><stop offset="0.58" stop-color="#ff78af"/><stop offset="0.671" stop-color="#ff528e"/><stop offset="0.776" stop-color="#ff246f"/><stop offset="0.804" stop-color="#ff1167"/><stop offset="0.818" stop-color="#ff0064"/><stop offset="1" stop-color="#ff0035"/></linearGradient><linearGradient id="r133" gradientUnits="userSpaceOnUse" x1="376" x2="517" y1="0" y2="0"><stop offset="0" stop-color="#00f6ff"/><stop offset="0.305" stop-color="#00d5ff"/><stop offset="0.319" stop-color="#37d3ff"/><stop offset="0.333" stop-color="#5cd1ff"/><stop offset="0.348" stop-color="#79cfff"/><stop offset="0.39" stop-color="#bdc9ff"/><stop offset="0.44" stop-color="#ffc2fe"/><stop offset="0.454" stop-color="#ffb8f2"/><stop offset="0.511" stop-color="#ff98d2"/><stop offset="0.582" stop-color="#ff76b2"/><stop offset="0.759" stop-color="#ff2b78"/><stop offset="0.794" stop-color="#ff166e"/><stop offset="0.816" stop-color="#ff0068"/><stop offset="1" stop-color="#ff003a"/></linearGradient><linearGradient id="r134" gradientUnits="userSpaceOnUse" x1="377" x2="514" y1="0" y2="0"><stop offset="0" stop-color="#00f1ff"/><stop offset="0.307" stop-color="#00d0ff"/><stop offset="0.314" stop-color="#27cfff"/><stop offset="0.321" stop-color="#3fceff"/><stop offset="0.343" stop-color="#70cbff"/><stop offset="0.38" stop-color="#abc6ff"/><stop offset="0.431" stop-color="#f0bfff"/><stop offset="0.445" stop-color="#ffbbfc"/><stop offset="0.504" stop-color="#ff99d9"/><stop offset="0.591" stop-color="#ff71b2"/><stop offset="0.766" stop-color="#ff277a"/><stop offset="0.796" stop-color="#ff1572"/><stop offset="0.81" stop-color="#ff026f"/><stop offset="1" stop-color="#ff0040"/></linearGradient><linearGradient id="r135" gradientUnits="userSpaceOnUse" x1="377" x2="512" y1="0" y2="0"><stop offset="0" stop-color="#00edff"/><stop offset="0.304" stop-color="#00ccff"/><stop offset="0.311" stop-color="#0dcbff"/><stop offset="0.319" stop-color="#31caff"/><stop offset="0.326" stop-color="#46c9ff"/><stop offset="0.341" stop-color="#67c7ff"/><stop offset="0.356" stop-color="#81c4ff"/><stop offset="0.407" stop-color="#ccbeff"/><stop offset="0.444" stop-color="#fab9ff"/><stop offset="0.452" stop-color="#ffb5fb"/><stop offset="0.496" stop-color="#ff9be0"/><stop offset="0.593" stop-color="#ff6fb5"/><stop offset="0.748" stop-color="#ff2e83"/><stop offset="0.793" stop-color="#ff1477"/><stop offset="0.807" stop-color="#ff0073"/><stop offset="1" stop-color="#ff0045"/></linearGradient><linearGradient id="r136" gradientUnits="userSpaceOnUse" x1="377" x2="510" y1="0" y2="0"><stop offset="0" stop-color="#00e9ff"/><stop offset="0.308" stop-color="#00c7ff"/><stop offset="0.323" stop-color="#3ac5ff"/><stop offset="0.338" stop-color="#5dc3ff"/><stop offset="0.361" stop-color="#85bfff"/><stop offset="0.421" stop-color="#d8b8ff"/><stop offset="0.451" stop-color="#fcb3ff"/><stop offset="0.459" stop-color="#ffaef9"/><stop offset="0.519" stop-color="#ff8ed8"/><stop offset="0.602" stop-color="#ff69b5"/><stop offset="0.752" stop-color="#ff2a86"/><stop offset="0.789" stop-color="#ff137b"/><stop offset="0.805" stop-color="#ff0078"/><stop offset="1" stop-color="#ff004a"/></linearGradient><linearGradient id="r137" gradientUnits="userSpaceOnUse" x1="377" x2="508" y1="0" y2="0"><stop offset="0" stop-color="#00e5ff"/><stop offset="0.153" stop-color="#00d7ff"/><stop offset="0.313" stop-color="#00c2ff"/><stop offset="0.321" stop-color="#2bc1ff"/><stop offset="0.336" stop-color="#53bfff"/><stop offset="0.351" stop-color="#70bcff"/><stop offset="0.382" stop-color="#9fb9ff"/><stop offset="0.458" stop-color="#feaeff"/><stop offset="0.511" stop-color="#ff90df"/><stop offset="0.611" stop-color="#ff64b5"/><stop offset="0.74" stop-color="#ff2d8c"/><stop offset="0.771" stop-color="#ff1d84"/><stop offset="0.802" stop-color="#ff007c"/><stop offset="1" stop-color="#ff004e"/></linearGradient><linearGradient id="r138" gradientUnits="userSpaceOnUse" x1="378" x2="506" y1="0" y2="0"><stop offset="0" stop-color="#00e1ff"/><stop offset="0.305" stop-color="#00beff"/><stop offset="0.32" stop-color="#34bcff"/><stop offset="0.328" stop-color="#48bbff"/><stop offset="0.352" stop-color="#74b8ff"/><stop offset="0.406" stop-color="#c0b0ff"/><stop offset="0.461" stop-color="#ffa8ff"/><stop offset="0.469" stop-color="#ffa1f7"/><stop offset="0.508" stop-color="#ff8de2"/><stop offset="0.617" stop-color="#ff5eb5"/><stop offset="0.758" stop-color="#ff218b"/><stop offset="0.773" stop-color="#ff1787"/><stop offset="0.797" stop-color="#ff0081"/><stop offset="1" stop-color="#ff0052"/></linearGradient><linearGradient id="r139" gradientUnits="userSpaceOnUse" x1="378" x2="504" y1="0" y2="0"><stop offset="0" stop-color="#00ddff"/><stop offset="0.31" stop-color="#00b9ff"/><stop offset="0.317" stop-color="#25b8ff"/><stop offset="0.325" stop-color="#3cb7ff"/><stop offset="0.349" stop-color="#6cb4ff"/><stop offset="0.405" stop-color="#b9acff"/><stop offset="0.468" stop-color="#ffa1fd"/><stop offset="0.556" stop-color="#ff76d0"/><stop offset="0.667" stop-color="#ff48a8"/><stop offset="0.73" stop-color="#ff2d96"/><stop offset="0.77" stop-color="#ff168b"/><stop offset="0.786" stop-color="#ff0287"/><stop offset="1" stop-color="#ff0057"/></linearGradient><linearGradient id="r140" gradientUnits="userSpaceOnUse" x1="378" x2="502" y1="0" y2="0"><stop offset="0" stop-color="#00d9ff"/><stop offset="0.306" stop-color="#00b6ff"/><stop offset="0.315" stop-color="#0bb4ff"/><stop offset="0.323" stop-color="#2fb3ff"/><stop offset="0.331" stop-color="#43b2ff"/><stop offset="0.355" stop-color="#70afff"/><stop offset="0.403" stop-color="#b2a8ff"/><stop offset="0.452" stop-color="#e9a1ff"/><stop offset="0.476" stop-color="#ff9afc"/><stop offset="0.556" stop-color="#ff73d3"/><stop offset="0.653" stop-color="#ff4cb0"/><stop offset="0.742" stop-color="#ff2496"/><stop offset="0.766" stop-color="#ff1590"/><stop offset="0.782" stop-color="#ff008c"/><stop offset="1" stop-color="#ff005b"/></linearGradient><linearGradient id="r141" gradientUnits="userSpaceOnUse" x1="379" x2="499" y1="0" y2="0"><stop offset="0" stop-color="#00d5ff"/><stop offset="0.308" stop-color="#00b1ff"/><stop offset="0.325" stop-color="#37aeff"/><stop offset="0.35" stop-color="#68abff"/><stop offset="0.392" stop-color="#a1a5ff"/><stop offset="0.417" stop-color="#bea2ff"/><stop offset="0.475" stop-color="#fb98ff"/><stop offset="0.483" stop-color="#ff93fa"/><stop offset="0.558" stop-color="#ff71d6"/><stop offset="0.733" stop-color="#ff289d"/><stop offset="0.758" stop-color="#ff1a96"/><stop offset="0.783" stop-color="#ff0090"/><stop offset="1" stop-color="#ff0061"/></linearGradient><linearGradient id="r142" gradientUnits="userSpaceOnUse" x1="379" x2="497" y1="0" y2="0"><stop offset="0" stop-color="#00d1ff"/><stop offset="0.314" stop-color="#00acff"/><stop offset="0.322" stop-color="#29abff"/><stop offset="0.331" stop-color="#3faaff"/><stop offset="0.356" stop-color="#6ca6ff"/><stop offset="0.398" stop-color="#a4a0ff"/><stop offset="0.483" stop-color="#fd92ff"/><stop offset="0.5" stop-color="#ff88f3"/><stop offset="0.559" stop-color="#ff6ed9"/><stop offset="0.72" stop-color="#ff2ca4"/><stop offset="0.754" stop-color="#ff199b"/><stop offset="0.78" stop-color="#ff0095"/><stop offset="1" stop-color="#ff0065"/></linearGradient><linearGradient id="r143" gradientUnits="userSpaceOnUse" x1="379" x2="495" y1="0" y2="0"><stop offset="0" stop-color="#00cdff"/><stop offset="0.31" stop-color="#00a8ff"/><stop offset="0.319" stop-color="#15a7ff"/><stop offset="0.328" stop-color="#32a6ff"/><stop offset="0.336" stop-color="#45a5ff"/><stop offset="0.362" stop-color="#70a1ff"/><stop offset="0.414" stop-color="#b09aff"/><stop offset="0.491" stop-color="#ff8cff"/><stop offset="0.5" stop-color="#ff86f7"/><stop offset="0.586" stop-color="#ff61d2"/><stop offset="0.724" stop-color="#ff27a7"/><stop offset="0.75" stop-color="#ff18a0"/><stop offset="0.776" stop-color="#ff0099"/><stop offset="1" stop-color="#ff0069"/></linearGradient><linearGradient id="r144" gradientUnits="userSpaceOnUse" x1="379" x2="493" y1="0" y2="0"><stop offset="0" stop-color="#00c9ff"/><stop offset="0.316" stop-color="#00a4ff"/><stop offset="0.325" stop-color="#23a2ff"/><stop offset="0.333" stop-color="#3aa1ff"/><stop offset="0.36" stop-color="#689eff"/><stop offset="0.421" stop-color="#b394ff"/><stop offset="0.5" stop-color="#ff85fe"/><stop offset="0.509" stop-color="#ff80f6"/><stop offset="0.561" stop-color="#ff69df"/><stop offset="0.711" stop-color="#ff2bae"/><stop offset="0.746" stop-color="#ff17a5"/><stop offset="0.763" stop-color="#ff03a0"/><stop offset="0.772" stop-color="#ff009e"/><stop offset="1" stop-color="#ff006d"/></linearGradient><linearGradient id="r145" gradientUnits="userSpaceOnUse" x1="380" x2="491" y1="0" y2="0"><stop offset="0" stop-color="#00c4ff"/><stop offset="0.306" stop-color="#00a0ff"/><stop offset="0.315" stop-color="#0a9fff"/><stop offset="0.324" stop-color="#2d9eff"/><stop offset="0.333" stop-color="#419dff"/><stop offset="0.351" stop-color="#609aff"/><stop offset="0.378" stop-color="#8496ff"/><stop offset="0.45" stop-color="#d08aff"/><stop offset="0.505" stop-color="#ff7ffd"/><stop offset="0.514" stop-color="#ff79f5"/><stop offset="0.577" stop-color="#ff5fdb"/><stop offset="0.703" stop-color="#ff2bb3"/><stop offset="0.739" stop-color="#ff16a9"/><stop offset="0.757" stop-color="#ff00a5"/><stop offset="1" stop-color="#ff0071"/></linearGradient><linearGradient id="r146" gradientUnits="userSpaceOnUse" x1="380" x2="489" y1="0" y2="0"><stop offset="0" stop-color="#00c0ff"/><stop offset="0.312" stop-color="#009bff"/><stop offset="0.33" stop-color="#3599ff"/><stop offset="0.349" stop-color="#5797ff"/><stop offset="0.367" stop-color="#7194ff"/><stop offset="0.431" stop-color="#b88aff"/><stop offset="0.505" stop-color="#fb7cff"/><stop offset="0.514" stop-color="#ff78fb"/><stop offset="0.578" stop-color="#ff5cde"/><stop offset="0.697" stop-color="#ff2ab8"/><stop offset="0.734" stop-color="#ff15ae"/><stop offset="0.752" stop-color="#ff00aa"/><stop offset="1" stop-color="#ff0075"/></linearGradient><linearGradient id="r147" gradientUnits="userSpaceOnUse" x1="380" x2="487" y1="0" y2="0"><stop offset="0" stop-color="#00bdff"/><stop offset="0.318" stop-color="#0097ff"/><stop offset="0.327" stop-color="#2796ff"/><stop offset="0.336" stop-color="#3d94ff"/><stop offset="0.374" stop-color="#758fff"/><stop offset="0.449" stop-color="#c382ff"/><stop offset="0.514" stop-color="#fc75ff"/><stop offset="0.523" stop-color="#ff71fa"/><stop offset="0.579" stop-color="#ff59e1"/><stop offset="0.692" stop-color="#ff2abd"/><stop offset="0.72" stop-color="#ff1ab6"/><stop offset="0.748" stop-color="#ff00ae"/><stop offset="1" stop-color="#ff0079"/></linearGradient><linearGradient id="r148" gradientUnits="userSpaceOnUse" x1="381" x2="484" y1="0" y2="0"><stop offset="0" stop-color="#00b8ff"/><stop offset="0.311" stop-color="#0093ff"/><stop offset="0.32" stop-color="#1492ff"/><stop offset="0.33" stop-color="#3091ff"/><stop offset="0.34" stop-color="#438fff"/><stop offset="0.369" stop-color="#6d8bff"/><stop offset="0.408" stop-color="#9885ff"/><stop offset="0.524" stop-color="#fe6fff"/><stop offset="0.563" stop-color="#ff5deb"/><stop offset="0.68" stop-color="#ff2ec5"/><stop offset="0.718" stop-color="#ff19bb"/><stop offset="0.748" stop-color="#ff00b3"/><stop offset="1" stop-color="#ff007e"/></linearGradient><linearGradient id="r149" gradientUnits="userSpaceOnUse" x1="381" x2="482" y1="0" y2="0"><stop offset="0" stop-color="#00b4ff"/><stop offset="0.317" stop-color="#008fff"/><stop offset="0.327" stop-color="#218dff"/><stop offset="0.337" stop-color="#388cff"/><stop offset="0.356" stop-color="#5889ff"/><stop offset="0.376" stop-color="#7186ff"/><stop offset="0.446" stop-color="#b67bff"/><stop offset="0.535" stop-color="#ff68ff"/><stop offset="0.564" stop-color="#ff5aee"/><stop offset="0.673" stop-color="#ff2ecb"/><stop offset="0.713" stop-color="#ff18c0"/><stop offset="0.733" stop-color="#ff03bb"/><stop offset="0.743" stop-color="#ff00b8"/><stop offset="1" stop-color="#ff0082"/></linearGradient><linearGradient id="r150" gradientUnits="userSpaceOnUse" x1="381" x2="480" y1="0" y2="0"><stop offset="0" stop-color="#00b0ff"/><stop offset="0.313" stop-color="#008bff"/><stop offset="0.323" stop-color="#088aff"/><stop offset="0.333" stop-color="#2b89ff"/><stop offset="0.343" stop-color="#3f87ff"/><stop offset="0.384" stop-color="#7581ff"/><stop offset="0.465" stop-color="#c173ff"/><stop offset="0.545" stop-color="#ff60fd"/><stop offset="0.576" stop-color="#ff53ed"/><stop offset="0.697" stop-color="#ff1ec8"/><stop offset="0.717" stop-color="#ff0fc2"/><stop offset="0.727" stop-color="#ff00c0"/><stop offset="0.859" stop-color="#ff00a1"/><stop offset="1" stop-color="#ff0086"/></linearGradient><linearGradient id="r151" gradientUnits="userSpaceOnUse" x1="382" x2="478" y1="0" y2="0"><stop offset="0" stop-color="#00abff"/><stop offset="0.312" stop-color="#0087ff"/><stop offset="0.333" stop-color="#3384ff"/><stop offset="0.354" stop-color="#5481ff"/><stop offset="0.375" stop-color="#6d7dff"/><stop offset="0.448" stop-color="#b271ff"/><stop offset="0.531" stop-color="#f35fff"/><stop offset="0.552" stop-color="#ff59fc"/><stop offset="0.573" stop-color="#ff4ff0"/><stop offset="0.677" stop-color="#ff23d0"/><stop offset="0.698" stop-color="#ff16ca"/><stop offset="0.719" stop-color="#ff00c5"/><stop offset="0.823" stop-color="#ff00ac"/><stop offset="1" stop-color="#ff008a"/></linearGradient><linearGradient id="r152" gradientUnits="userSpaceOnUse" x1="382" x2="476" y1="0" y2="0"><stop offset="0" stop-color="#00a7ff"/><stop offset="0.319" stop-color="#0082ff"/><stop offset="0.33" stop-color="#2680ff"/><stop offset="0.34" stop-color="#3b7fff"/><stop offset="0.383" stop-color="#7178ff"/><stop offset="0.468" stop-color="#bd69ff"/><stop offset="0.553" stop-color="#fc55ff"/><stop offset="0.564" stop-color="#ff51fb"/><stop offset="0.596" stop-color="#ff43ec"/><stop offset="0.67" stop-color="#ff22d6"/><stop offset="0.691" stop-color="#ff15d0"/><stop offset="0.713" stop-color="#ff00ca"/><stop offset="0.851" stop-color="#ff00aa"/><stop offset="1" stop-color="#ff008e"/></linearGradient><linearGradient id="r153" gradientUnits="userSpaceOnUse" x1="382" x2="474" y1="0" y2="0"><stop offset="0" stop-color="#00a4ff"/><stop offset="0.315" stop-color="#007eff"/><stop offset="0.326" stop-color="#137dff"/><stop offset="0.337" stop-color="#2f7bff"/><stop offset="0.348" stop-color="#417aff"/><stop offset="0.38" stop-color="#6a75ff"/><stop offset="0.457" stop-color="#ae67ff"/><stop offset="0.565" stop-color="#fd4dff"/><stop offset="0.587" stop-color="#ff43f3"/><stop offset="0.652" stop-color="#ff27de"/><stop offset="0.674" stop-color="#ff1bd8"/><stop offset="0.707" stop-color="#ff00d0"/><stop offset="0.837" stop-color="#ff00b1"/><stop offset="1" stop-color="#ff0092"/></linearGradient><linearGradient id="r154" gradientUnits="userSpaceOnUse" x1="383" x2="471" y1="0" y2="0"><stop offset="0" stop-color="#009fff"/><stop offset="0.318" stop-color="#007aff"/><stop offset="0.33" stop-color="#2078ff"/><stop offset="0.341" stop-color="#3676ff"/><stop offset="0.375" stop-color="#6271ff"/><stop offset="0.455" stop-color="#a863ff"/><stop offset="0.58" stop-color="#fe45ff"/><stop offset="0.602" stop-color="#ff3af2"/><stop offset="0.67" stop-color="#ff1ade"/><stop offset="0.693" stop-color="#ff03d8"/><stop offset="0.705" stop-color="#ff00d5"/><stop offset="0.83" stop-color="#ff00b8"/><stop offset="1" stop-color="#ff0098"/></linearGradient><linearGradient id="r155" gradientUnits="userSpaceOnUse" x1="383" x2="469" y1="0" y2="0"><stop offset="0" stop-color="#009bff"/><stop offset="0.314" stop-color="#0076ff"/><stop offset="0.326" stop-color="#0675ff"/><stop offset="0.337" stop-color="#2a73ff"/><stop offset="0.349" stop-color="#3d71ff"/><stop offset="0.372" stop-color="#5a6eff"/><stop offset="0.407" stop-color="#7c68ff"/><stop offset="0.477" stop-color="#b35aff"/><stop offset="0.593" stop-color="#ff3cfe"/><stop offset="0.616" stop-color="#ff30f1"/><stop offset="0.663" stop-color="#ff19e4"/><stop offset="0.674" stop-color="#ff10e1"/><stop offset="0.686" stop-color="#ff00de"/><stop offset="0.814" stop-color="#ff00bf"/><stop offset="1" stop-color="#ff009c"/></linearGradient><linearGradient id="r156" gradientUnits="userSpaceOnUse" x1="384" x2="467" y1="0" y2="0"><stop offset="0" stop-color="#0096ff"/><stop offset="0.313" stop-color="#0071ff"/><stop offset="0.337" stop-color="#326eff"/><stop offset="0.349" stop-color="#436cff"/><stop offset="0.398" stop-color="#7564ff"/><stop offset="0.47" stop-color="#ad56ff"/><stop offset="0.554" stop-color="#e442ff"/><stop offset="0.602" stop-color="#ff31fd"/><stop offset="0.651" stop-color="#ff17ea"/><stop offset="0.675" stop-color="#ff00e3"/><stop offset="0.831" stop-color="#ff00bf"/><stop offset="1" stop-color="#ff00a1"/></linearGradient><linearGradient id="r157" gradientUnits="userSpaceOnUse" x1="384" x2="465" y1="0" y2="0"><stop offset="0" stop-color="#0092ff"/><stop offset="0.321" stop-color="#006cff"/><stop offset="0.333" stop-color="#246aff"/><stop offset="0.346" stop-color="#3968ff"/><stop offset="0.395" stop-color="#6e60ff"/><stop offset="0.469" stop-color="#a752ff"/><stop offset="0.568" stop-color="#e539ff"/><stop offset="0.617" stop-color="#ff25fc"/><stop offset="0.642" stop-color="#ff16f0"/><stop offset="0.667" stop-color="#ff00e9"/><stop offset="0.802" stop-color="#ff00c9"/><stop offset="1" stop-color="#ff00a5"/></linearGradient><linearGradient id="r158" gradientUnits="userSpaceOnUse" x1="384" x2="463" y1="0" y2="0"><stop offset="0" stop-color="#008eff"/><stop offset="0.316" stop-color="#0069ff"/><stop offset="0.329" stop-color="#1167ff"/><stop offset="0.342" stop-color="#2d65ff"/><stop offset="0.354" stop-color="#3f63ff"/><stop offset="0.38" stop-color="#5b5fff"/><stop offset="0.418" stop-color="#7c58ff"/><stop offset="0.532" stop-color="#c93fff"/><stop offset="0.62" stop-color="#fd1dff"/><stop offset="0.658" stop-color="#ff00ef"/><stop offset="0.797" stop-color="#ff00ce"/><stop offset="1" stop-color="#ff00a9"/></linearGradient><linearGradient id="r159" gradientUnits="userSpaceOnUse" x1="385" x2="461" y1="0" y2="0"><stop offset="0" stop-color="#0088ff"/><stop offset="0.316" stop-color="#0063ff"/><stop offset="0.329" stop-color="#1f61ff"/><stop offset="0.355" stop-color="#455dff"/><stop offset="0.408" stop-color="#7554ff"/><stop offset="0.474" stop-color="#a347ff"/><stop offset="0.566" stop-color="#da2dff"/><stop offset="0.618" stop-color="#f713ff"/><stop offset="0.632" stop-color="#fe03ff"/><stop offset="0.684" stop-color="#ff00eb"/><stop offset="0.776" stop-color="#ff00d6"/><stop offset="1" stop-color="#ff00ad"/></linearGradient><linearGradient id="r160" gradientUnits="userSpaceOnUse" x1="385" x2="459" y1="0" y2="0"><stop offset="0" stop-color="#0084ff"/><stop offset="0.324" stop-color="#035eff"/><stop offset="0.338" stop-color="#285cff"/><stop offset="0.351" stop-color="#3b5aff"/><stop offset="0.405" stop-color="#6e50ff"/><stop offset="0.473" stop-color="#9d42ff"/><stop offset="0.541" stop-color="#c530ff"/><stop offset="0.595" stop-color="#e31aff"/><stop offset="0.608" stop-color="#ea11ff"/><stop offset="0.622" stop-color="#f100ff"/><stop offset="0.649" stop-color="#ff00ff"/><stop offset="0.676" stop-color="#ff00f2"/><stop offset="0.743" stop-color="#ff00e1"/><stop offset="1" stop-color="#ff00b2"/></linearGradient><linearGradient id="r161" gradientUnits="userSpaceOnUse" x1="385" x2="456" y1="0" y2="0"><stop offset="0" stop-color="#0080ff"/><stop offset="0.324" stop-color="#005aff"/><stop offset="0.352" stop-color="#3056ff"/><stop offset="0.366" stop-color="#4154ff"/><stop offset="0.423" stop-color="#724aff"/><stop offset="0.563" stop-color="#c725ff"/><stop offset="0.592" stop-color="#d618ff"/><stop offset="0.62" stop-color="#e400ff"/><stop offset="0.676" stop-color="#ff00fe"/><stop offset="0.718" stop-color="#ff00ed"/><stop offset="1" stop-color="#ff00b8"/></linearGradient><linearGradient id="r162" gradientUnits="userSpaceOnUse" x1="386" x2="454" y1="0" y2="0"><stop offset="0" stop-color="#007aff"/><stop offset="0.324" stop-color="#0054ff"/><stop offset="0.338" stop-color="#2352ff"/><stop offset="0.353" stop-color="#3750ff"/><stop offset="0.412" stop-color="#6b45ff"/><stop offset="0.485" stop-color="#9a35ff"/><stop offset="0.544" stop-color="#ba23ff"/><stop offset="0.574" stop-color="#c916ff"/><stop offset="0.603" stop-color="#d800ff"/><stop offset="0.676" stop-color="#fb00ff"/><stop offset="0.721" stop-color="#ff00f0"/><stop offset="1" stop-color="#ff00bd"/></linearGradient><linearGradient id="r163" gradientUnits="userSpaceOnUse" x1="386" x2="452" y1="0" y2="0"><stop offset="0" stop-color="#0076ff"/><stop offset="0.318" stop-color="#0051ff"/><stop offset="0.333" stop-color="#104eff"/><stop offset="0.348" stop-color="#2b4cff"/><stop offset="0.364" stop-color="#3d49ff"/><stop offset="0.409" stop-color="#6441ff"/><stop offset="0.53" stop-color="#ac22ff"/><stop offset="0.591" stop-color="#cb00ff"/><stop offset="0.697" stop-color="#fc00ff"/><stop offset="0.742" stop-color="#ff00ef"/><stop offset="1" stop-color="#ff00c1"/></linearGradient><linearGradient id="r164" gradientUnits="userSpaceOnUse" x1="387" x2="450" y1="0" y2="0"><stop offset="0" stop-color="#0070ff"/><stop offset="0.317" stop-color="#004bff"/><stop offset="0.333" stop-color="#1d48ff"/><stop offset="0.349" stop-color="#3345ff"/><stop offset="0.381" stop-color="#5040ff"/><stop offset="0.429" stop-color="#7236ff"/><stop offset="0.524" stop-color="#a71aff"/><stop offset="0.54" stop-color="#ae12ff"/><stop offset="0.556" stop-color="#b603ff"/><stop offset="0.714" stop-color="#fd00ff"/><stop offset="0.762" stop-color="#ff00ef"/><stop offset="1" stop-color="#ff00c6"/></linearGradient><linearGradient id="r165" gradientUnits="userSpaceOnUse" x1="387" x2="448" y1="0" y2="0"><stop offset="0" stop-color="#006cff"/><stop offset="0.328" stop-color="#0044ff"/><stop offset="0.344" stop-color="#2741ff"/><stop offset="0.361" stop-color="#393eff"/><stop offset="0.426" stop-color="#6b31ff"/><stop offset="0.492" stop-color="#901fff"/><stop offset="0.525" stop-color="#a110ff"/><stop offset="0.541" stop-color="#a900ff"/><stop offset="0.721" stop-color="#f800ff"/><stop offset="0.754" stop-color="#ff00f9"/><stop offset="0.787" stop-color="#ff00ee"/><stop offset="1" stop-color="#ff00ca"/></linearGradient><linearGradient id="r166" gradientUnits="userSpaceOnUse" x1="387" x2="446" y1="0" y2="0"><stop offset="0" stop-color="#0067ff"/><stop offset="0.322" stop-color="#0040ff"/><stop offset="0.356" stop-color="#2f3aff"/><stop offset="0.373" stop-color="#3f37ff"/><stop offset="0.441" stop-color="#6f27ff"/><stop offset="0.492" stop-color="#8a16ff"/><stop offset="0.525" stop-color="#9b00ff"/><stop offset="0.746" stop-color="#f900ff"/><stop offset="0.763" stop-color="#ff00fe"/><stop offset="0.814" stop-color="#ff00ee"/><stop offset="1" stop-color="#ff00cf"/></linearGradient><linearGradient id="r167" gradientUnits="userSpaceOnUse" x1="388" x2="443" y1="0" y2="0"><stop offset="0" stop-color="#0061ff"/><stop offset="0.2" stop-color="#004cff"/><stop offset="0.327" stop-color="#0039ff"/><stop offset="0.345" stop-color="#2236ff"/><stop offset="0.364" stop-color="#3532ff"/><stop offset="0.4" stop-color="#522aff"/><stop offset="0.436" stop-color="#6821ff"/><stop offset="0.473" stop-color="#7b15ff"/><stop offset="0.509" stop-color="#8d00ff"/><stop offset="0.691" stop-color="#d900ff"/><stop offset="0.8" stop-color="#ff00fd"/><stop offset="0.855" stop-color="#ff00ed"/><stop offset="1" stop-color="#ff00d7"/></linearGradient><linearGradient id="r168" gradientUnits="userSpaceOnUse" x1="388" x2="441" y1="0" y2="0"><stop offset="0" stop-color="#005cff"/><stop offset="0.208" stop-color="#0046ff"/><stop offset="0.321" stop-color="#0034ff"/><stop offset="0.34" stop-color="#0f31ff"/><stop offset="0.358" stop-color="#2a2dff"/><stop offset="0.415" stop-color="#5620ff"/><stop offset="0.491" stop-color="#7e00ff"/><stop offset="0.623" stop-color="#b700ff"/><stop offset="0.755" stop-color="#e800ff"/><stop offset="0.83" stop-color="#ff00fc"/><stop offset="0.868" stop-color="#ff00f0"/><stop offset="1" stop-color="#ff00dc"/></linearGradient><linearGradient id="r169" gradientUnits="userSpaceOnUse" x1="389" x2="439" y1="0" y2="0"><stop offset="0" stop-color="#0056ff"/><stop offset="0.18" stop-color="#0042ff"/><stop offset="0.32" stop-color="#002cff"/><stop offset="0.34" stop-color="#1c28ff"/><stop offset="0.36" stop-color="#3123ff"/><stop offset="0.4" stop-color="#4e18ff"/><stop offset="0.42" stop-color="#5a11ff"/><stop offset="0.44" stop-color="#6503ff"/><stop offset="0.46" stop-color="#6f00ff"/><stop offset="0.6" stop-color="#aa00ff"/><stop offset="0.84" stop-color="#fd00ff"/><stop offset="0.9" stop-color="#ff00ef"/><stop offset="1" stop-color="#ff00e1"/></linearGradient><linearGradient id="r170" gradientUnits="userSpaceOnUse" x1="389" x2="437" y1="0" y2="0"><stop offset="0" stop-color="#0051ff"/><stop offset="0.146" stop-color="#0041ff"/><stop offset="0.333" stop-color="#0022ff"/><stop offset="0.354" stop-color="#251dff"/><stop offset="0.396" stop-color="#460fff"/><stop offset="0.417" stop-color="#5300ff"/><stop offset="0.479" stop-color="#7200ff"/><stop offset="0.583" stop-color="#9d00ff"/><stop offset="0.875" stop-color="#fe00ff"/><stop offset="0.938" stop-color="#ff00ee"/><stop offset="1" stop-color="#ff00e6"/></linearGradient><linearGradient id="r171" gradientUnits="userSpaceOnUse" x1="390" x2="435" y1="0" y2="0"><stop offset="0" stop-color="#0049ff"/><stop offset="0.2" stop-color="#0031ff"/><stop offset="0.311" stop-color="#001bff"/><stop offset="0.356" stop-color="#2d0dff"/><stop offset="0.378" stop-color="#3d00ff"/><stop offset="0.4" stop-color="#4b00ff"/><stop offset="0.533" stop-color="#8700ff"/><stop offset="0.689" stop-color="#bd00ff"/><stop offset="0.911" stop-color="#ff00ff"/><stop offset="1" stop-color="#ff00eb"/></linearGradient><linearGradient id="r172" gradientUnits="userSpaceOnUse" x1="390" x2="433" y1="0" y2="0"><stop offset="0" stop-color="#0043ff"/><stop offset="0.233" stop-color="#0024ff"/><stop offset="0.326" stop-color="#000aff"/><stop offset="0.349" stop-color="#2000ff"/><stop offset="0.395" stop-color="#4300ff"/><stop offset="0.442" stop-color="#5b00ff"/><stop offset="0.558" stop-color="#8a00ff"/><stop offset="0.93" stop-color="#fa00ff"/><stop offset="0.953" stop-color="#ff00fe"/><stop offset="1" stop-color="#ff00f2"/></linearGradient><linearGradient id="r173" gradientUnits="userSpaceOnUse" x1="391" x2="431" y1="0" y2="0"><stop offset="0" stop-color="#003bff"/><stop offset="0.175" stop-color="#0023ff"/><stop offset="0.225" stop-color="#0019ff"/><stop offset="0.3" stop-color="#0000ff"/><stop offset="0.325" stop-color="#0e00ff"/><stop offset="0.35" stop-color="#2900ff"/><stop offset="0.375" stop-color="#3a00ff"/><stop offset="0.475" stop-color="#6900ff"/><stop offset="0.65" stop-color="#a400ff"/><stop offset="0.875" stop-color="#e200ff"/><stop offset="1" stop-color="#ff00fd"/></linearGradient><linearGradient id="r174" gradientUnits="userSpaceOnUse" x1="392" x2="428" y1="0" y2="0"><stop offset="0" stop-color="#0031ff"/><stop offset="0.139" stop-color="#001dff"/><stop offset="0.194" stop-color="#0010ff"/><stop offset="0.222" stop-color="#0003ff"/><stop offset="0.306" stop-color="#0000ff"/><stop offset="0.361" stop-color="#3000ff"/><stop offset="0.417" stop-color="#4c00ff"/><stop offset="0.5" stop-color="#6c00ff"/><stop offset="0.694" stop-color="#a600ff"/><stop offset="1" stop-color="#f000ff"/></linearGradient><linearGradient id="r175" gradientUnits="userSpaceOnUse" x1="392" x2="426" y1="0" y2="0"><stop offset="0" stop-color="#0029ff"/><stop offset="0.118" stop-color="#0016ff"/><stop offset="0.176" stop-color="#0000ff"/><stop offset="0.324" stop-color="#0000ff"/><stop offset="0.353" stop-color="#2400ff"/><stop offset="0.382" stop-color="#3600ff"/><stop offset="0.5" stop-color="#6600ff"/><stop offset="0.735" stop-color="#a800ff"/><stop offset="1" stop-color="#e400ff"/></linearGradient><linearGradient id="r176" gradientUnits="userSpaceOnUse" x1="393" x2="424" y1="0" y2="0"><stop offset="0" stop-color="#001aff"/><stop offset="0.065" stop-color="#000cff"/><stop offset="0.097" stop-color="#0000ff"/><stop offset="0.29" stop-color="#0000ff"/><stop offset="0.355" stop-color="#2c00ff"/><stop offset="0.387" stop-color="#3c00ff"/><stop offset="0.516" stop-color="#6900ff"/><stop offset="0.742" stop-color="#a300ff"/><stop offset="1" stop-color="#d900ff"/></linearGradient><linearGradient id="r177" gradientUnits="userSpaceOnUse" x1="393" x2="422" y1="0" y2="0"><stop offset="0" stop-color="#000aff"/><stop offset="0.034" stop-color="#0000ff"/><stop offset="0.31" stop-color="#0000ff"/><stop offset="0.345" stop-color="#1f00ff"/><stop offset="0.379" stop-color="#3200ff"/><stop offset="0.483" stop-color="#5900ff"/><stop offset="0.724" stop-color="#9600ff"/><stop offset="1" stop-color="#ce00ff"/></linearGradient><linearGradient id="r178" gradientUnits="userSpaceOnUse" x1="394" x2="420" y1="0" y2="0"><stop offset="0" stop-color="#0000ff"/><stop offset="0.269" stop-color="#0000ff"/><stop offset="0.308" stop-color="#0c00ff"/><stop offset="0.346" stop-color="#2800ff"/><stop offset="0.462" stop-color="#5200ff"/><stop offset="0.654" stop-color="#8100ff"/><stop offset="1" stop-color="#c200ff"/></linearGradient><linearGradient id="r179" gradientUnits="userSpaceOnUse" x1="395" x2="418" y1="0" y2="0"><stop offset="0" stop-color="#0000ff"/><stop offset="0.261" stop-color="#0000ff"/><stop offset="0.348" stop-color="#2e00ff"/><stop offset="0.478" stop-color="#5600ff"/><stop offset="0.609" stop-color="#7300ff"/><stop offset="1" stop-color="#b600ff"/></linearGradient><linearGradient id="r180" gradientUnits="userSpaceOnUse" x1="396" x2="415" y1="0" y2="0"><stop offset="0" stop-color="#0000ff"/><stop offset="0.263" stop-color="#0000ff"/><stop offset="0.316" stop-color="#2300ff"/><stop offset="0.368" stop-color="#3500ff"/><stop offset="0.474" stop-color="#4f00ff"/><stop offset="0.632" stop-color="#6d00ff"/><stop offset="1" stop-color="#a400ff"/></linearGradient><linearGradient id="r181" gradientUnits="userSpaceOnUse" x1="397" x2="413" y1="0" y2="0"><stop offset="0" stop-color="#0000ff"/><stop offset="0.188" stop-color="#0000ff"/><stop offset="0.312" stop-color="#2a00ff"/><stop offset="0.5" stop-color="#5300ff"/><stop offset="0.688" stop-color="#7000ff"/><stop offset="1" stop-color="#9800ff"/></linearGradient><linearGradient id="r182" gradientUnits="userSpaceOnUse" x1="398" x2="411" y1="0" y2="0"><stop offset="0" stop-color="#0000ff"/><stop offset="0.154" stop-color="#0000ff"/><stop offset="0.231" stop-color="#1e00ff"/><stop offset="0.308" stop-color="#3100ff"/><stop offset="0.462" stop-color="#4c00ff"/><stop offset="1" stop-color="#8b00ff"/></linearGradient><linearGradient id="r183" gradientUnits="userSpaceOnUse" x1="399" x2="409" y1="0" y2="0"><stop offset="0" stop-color="#0000ff"/><stop offset="0.1" stop-color="#0b00ff"/><stop offset="0.2" stop-color="#2600ff"/><stop offset="0.4" stop-color="#4400ff"/><stop offset="1" stop-color="#7e00ff"/></linearGradient><linearGradient id="r184" gradientUnits="userSpaceOnUse" x1="400" x2="407" y1="0" y2="0"><stop offset="0" stop-color="#1900ff"/><stop offset="0.286" stop-color="#3c00ff"/><stop offset="0.571" stop-color="#5400ff"/><stop offset="1" stop-color="#7000ff"/></linearGradient></defs>
<g clip-path="url(#lc)" shape-rendering="crispEdges"><rect x="379" y="21" width="8" height="1" fill="url(#r0)"/><rect x="376" y="22" width="15" height="1" fill="url(#r1)"/><rect x="375" y="23" width="18" height="1" fill="url(#r2)"/><rect x="373" y="24" width="22" height="1" fill="url(#r3)"/><rect x="373" y="25" width="24" height="1" fill="url(#r4)"/><rect x="372" y="26" width="27" height="1" fill="url(#r5)"/><rect x="371" y="27" width="30" height="1" fill="url(#r6)"/><rect x="370" y="28" width="32" height="1" fill="url(#r7)"/><rect x="370" y="29" width="34" height="1" fill="url(#r8)"/><rect x="369" y="30" width="37" height="1" fill="url(#r9)"/><rect x="369" y="31" width="38" height="1" fill="url(#r10)"/><rect x="369" y="32" width="40" height="1" fill="url(#r11)"/><rect x="368" y="33" width="42" height="1" fill="url(#r12)"/><rect x="368" y="34" width="43" height="1" fill="url(#r13)"/><rect x="368" y="35" width="45" height="1" fill="url(#r14)"/><rect x="367" y="36" width="47" height="1" fill="url(#r15)"/><rect x="367" y="37" width="48" height="1" fill="url(#r16)"/><rect x="367" y="38" width="50" height="1" fill="url(#r17)"/><rect x="366" y="39" width="52" height="1" fill="url(#r18)"/><rect x="366" y="40" width="53" height="1" fill="url(#r19)"/><rect x="366" y="41" width="55" height="1" fill="url(#r20)"/><rect x="366" y="42" width="56" height="1" fill="url(#r21)"/><rect x="366" y="43" width="57" height="1" fill="url(#r22)"/><rect x="366" y="44" width="58" height="1" fill="url(#r23)"/><rect x="365" y="45" width="60" height="1" fill="url(#r24)"/><rect x="365" y="46" width="61" height="1" fill="url(#r25)"/><rect x="365" y="47" width="63" height="1" fill="url(#r26)"/><rect x="365" y="48" width="64" height="1" fill="url(#r27)"/><rect x="365" y="49" width="65" height="1" fill="url(#r28)"/><rect x="365" y="50" width="66" height="1" fill="url(#r29)"/><rect x="365" y="51" width="67" height="1" fill="url(#r30)"/><rect x="365" y="52" width="68" height="1" fill="url(#r31)"/><rect x="365" y="53" width="69" height="1" fill="url(#r32)"/><rect x="364" y="54" width="71" height="1" fill="url(#r33)"/><rect x="364" y="55" width="72" height="1" fill="url(#r34)"/><rect x="364" y="56" width="73" height="1" fill="url(#r35)"/><rect x="364" y="57" width="74" height="1" fill="url(#r36)"/><rect x="364" y="58" width="76" height="1" fill="url(#r37)"/><rect x="364" y="59" width="77" height="1" fill="url(#r38)"/><rect x="364" y="60" width="78" height="1" fill="url(#r39)"/><rect x="364" y="61" width="79" height="1" fill="url(#r40)"/><rect x="364" y="62" width="80" height="1" fill="url(#r41)"/><rect x="364" y="63" width="81" height="1" fill="url(#r42)"/><rect x="364" y="64" width="82" height="1" fill="url(#r43)"/><rect x="364" y="65" width="83" height="1" fill="url(#r44)"/><rect x="364" y="66" width="84" height="1" fill="url(#r45)"/><rect x="364" y="67" width="85" height="1" fill="url(#r46)"/><rect x="364" y="68" width="86" height="1" fill="url(#r47)"/><rect x="364" y="69" width="87" height="1" fill="url(#r48)"/><rect x="364" y="70" width="88" height="1" fill="url(#r49)"/><rect x="364" y="71" width="89" height="1" fill="url(#r50)"/><rect x="364" y="72" width="90" height="1" fill="url(#r51)"/><rect x="364" y="73" width="91" height="1" fill="url(#r52)"/><rect x="364" y="74" width="92" height="1" fill="url(#r53)"/><rect x="364" y="75" width="93" height="1" fill="url(#r54)"/><rect x="364" y="76" width="94" height="1" fill="url(#r55)"/><rect x="364" y="77" width="95" height="1" fill="url(#r56)"/><rect x="364" y="78" width="96" height="1" fill="url(#r57)"/><rect x="365" y="79" width="96" height="1" fill="url(#r58)"/><rect x="365" y="80" width="97" height="1" fill="url(#r59)"/><rect x="365" y="81" width="98" height="1" fill="url(#r60)"/><rect x="365" y="82" width="99" height="1" fill="url(#r61)"/><rect x="365" y="83" width="100" height="1" fill="url(#r62)"/><rect x="365" y="84" width="101" height="1" fill="url(#r63)"/><rect x="365" y="85" width="102" height="1" fill="url(#r64)"/><rect x="365" y="86" width="103" height="1" fill="url(#r65)"/><rect x="365" y="87" width="104" height="1" fill="url(#r66)"/><rect x="365" y="88" width="105" height="1" fill="url(#r67)"/><rect x="365" y="89" width="106" height="1" fill="url(#r68)"/><rect x="365" y="90" width="107" height="1" fill="url(#r69)"/><rect x="366" y="91" width="107" height="1" fill="url(#r70)"/><rect x="366" y="92" width="108" height="1" fill="url(#r71)"/><rect x="366" y="93" width="109" height="1" fill="url(#r72)"/><rect x="366" y="94" width="110" height="1" fill="url(#r73)"/><rect x="366" y="95" width="111" height="1" fill="url(#r74)"/><rect x="366" y="96" width="112" height="1" fill="url(#r75)"/><rect x="366" y="97" width="113" height="1" fill="url(#r76)"/><rect x="366" y="98" width="114" height="1" fill="url(#r77)"/><rect x="366" y="99" width="115" height="1" fill="url(#r78)"/><rect x="366" y="100" width="116" height="1" fill="url(#r79)"/><rect x="367" y="101" width="116" height="1" fill="url(#r80)"/><rect x="367" y="102" width="117" height="1" fill="url(#r81)"/><rect x="367" y="103" width="118" height="1" fill="url(#r82)"/><rect x="367" y="104" width="119" height="1" fill="url(#r83)"/><rect x="367" y="105" width="120" height="1" fill="url(#r84)"/><rect x="367" y="106" width="121" height="1" fill="url(#r85)"/><rect x="367" y="107" width="122" height="1" fill="url(#r86)"/><rect x="368" y="108" width="122" height="1" fill="url(#r87)"/><rect x="368" y="109" width="123" height="1" fill="url(#r88)"/><rect x="368" y="110" width="124" height="1" fill="url(#r89)"/><rect x="368" y="111" width="125" height="1" fill="url(#r90)"/><rect x="368" y="112" width="126" height="1" fill="url(#r91)"/><rect x="368" y="113" width="127" height="1" fill="url(#r92)"/><rect x="368" y="114" width="128" height="1" fill="url(#r93)"/><rect x="369" y="115" width="128" height="1" fill="url(#r94)"/><rect x="369" y="116" width="129" height="1" fill="url(#r95)"/><rect x="369" y="117" width="130" height="1" fill="url(#r96)"/><rect x="369" y="118" width="131" height="1" fill="url(#r97)"/><rect x="369" y="119" width="132" height="1" fill="url(#r98)"/><rect x="369" y="120" width="133" height="1" fill="url(#r99)"/><rect x="370" y="121" width="133" height="1" fill="url(#r100)"/><rect x="370" y="122" width="134" height="1" fill="url(#r101)"/><rect x="370" y="123" width="135" height="1" fill="url(#r102)"/><rect x="370" y="124" width="136" height="1" fill="url(#r103)"/><rect x="370" y="125" width="137" height="1" fill="url(#r104)"/><rect x="370" y="126" width="138" height="1" fill="url(#r105)"/><rect x="371" y="127" width="138" height="1" fill="url(#r106)"/><rect x="371" y="128" width="139" height="1" fill="url(#r107)"/><rect x="371" y="129" width="140" height="1" fill="url(#r108)"/><rect x="371" y="130" width="141" height="1" fill="url(#r109)"/><rect x="371" y="131" width="142" height="1" fill="url(#r110)"/><rect x="372" y="132" width="142" height="1" fill="url(#r111)"/><rect x="372" y="133" width="143" height="1" fill="url(#r112)"/><rect x="372" y="134" width="144" height="1" fill="url(#r113)"/><rect x="372" y="135" width="145" height="1" fill="url(#r114)"/><rect x="372" y="136" width="146" height="1" fill="url(#r115)"/><rect x="373" y="137" width="146" height="1" fill="url(#r116)"/><rect x="373" y="138" width="147" height="1" fill="url(#r117)"/><rect x="373" y="139" width="148" height="1" fill="url(#r118)"/><rect x="373" y="140" width="149" height="1" fill="url(#r119)"/><rect x="373" y="141" width="150" height="1" fill="url(#r120)"/><rect x="374" y="142" width="150" height="1" fill="url(#r121)"/><rect x="374" y="143" width="151" height="1" fill="url(#r122)"/><rect x="374" y="144" width="152" height="1" fill="url(#r123)"/><rect x="374" y="145" width="153" height="1" fill="url(#r124)"/><rect x="375" y="146" width="154" height="1" fill="url(#r125)"/><rect x="375" y="147" width="154" height="1" fill="url(#r126)"/><rect x="375" y="148" width="155" height="1" fill="url(#r127)"/><rect x="375" y="149" width="152" height="1" fill="url(#r128)"/><rect x="375" y="150" width="150" height="1" fill="url(#r129)"/><rect x="376" y="151" width="147" height="1" fill="url(#r130)"/><rect x="376" y="152" width="145" height="1" fill="url(#r131)"/><rect x="376" y="153" width="143" height="1" fill="url(#r132)"/><rect x="376" y="154" width="141" height="1" fill="url(#r133)"/><rect x="377" y="155" width="137" height="1" fill="url(#r134)"/><rect x="377" y="156" width="135" height="1" fill="url(#r135)"/><rect x="377" y="157" width="133" height="1" fill="url(#r136)"/><rect x="377" y="158" width="131" height="1" fill="url(#r137)"/><rect x="378" y="159" width="128" height="1" fill="url(#r138)"/><rect x="378" y="160" width="126" height="1" fill="url(#r139)"/><rect x="378" y="161" width="124" height="1" fill="url(#r140)"/><rect x="379" y="162" width="120" height="1" fill="url(#r141)"/><rect x="379" y="163" width="118" height="1" fill="url(#r142)"/><rect x="379" y="164" width="116" height="1" fill="url(#r143)"/><rect x="379" y="165" width="114" height="1" fill="url(#r144)"/><rect x="380" y="166" width="111" height="1" fill="url(#r145)"/><rect x="380" y="167" width="109" height="1" fill="url(#r146)"/><rect x="380" y="168" width="107" height="1" fill="url(#r147)"/><rect x="381" y="169" width="103" height="1" fill="url(#r148)"/><rect x="381" y="170" width="101" height="1" fill="url(#r149)"/><rect x="381" y="171" width="99" height="1" fill="url(#r150)"/><rect x="382" y="172" width="96" height="1" fill="url(#r151)"/><rect x="382" y="173" width="94" height="1" fill="url(#r152)"/><rect x="382" y="174" width="92" height="1" fill="url(#r153)"/><rect x="383" y="175" width="88" height="1" fill="url(#r154)"/><rect x="383" y="176" width="86" height="1" fill="url(#r155)"/><rect x="384" y="177" width="83" height="1" fill="url(#r156)"/><rect x="384" y="178" width="81" height="1" fill="url(#r157)"/><rect x="384" y="179" width="79" height="1" fill="url(#r158)"/><rect x="385" y="180" width="76" height="1" fill="url(#r159)"/><rect x="385" y="181" width="74" height="1" fill="url(#r160)"/><rect x="385" y="182" width="71" height="1" fill="url(#r161)"/><rect x="386" y="183" width="68" height="1" fill="url(#r162)"/><rect x="386" y="184" width="66" height="1" fill="url(#r163)"/><rect x="387" y="185" width="63" height="1" fill="url(#r164)"/><rect x="387" y="186" width="61" height="1" fill="url(#r165)"/><rect x="387" y="187" width="59" height="1" fill="url(#r166)"/><rect x="388" y="188" width="55" height="1" fill="url(#r167)"/><rect x="388" y="189" width="53" height="1" fill="url(#r168)"/><rect x="389" y="190" width="50" height="1" fill="url(#r169)"/><rect x="389" y="191" width="48" height="1" fill="url(#r170)"/><rect x="390" y="192" width="45" height="1" fill="url(#r171)"/><rect x="390" y="193" width="43" height="1" fill="url(#r172)"/><rect x="391" y="194" width="40" height="1" fill="url(#r173)"/><rect x="392" y="195" width="36" height="1" fill="url(#r174)"/><rect x="392" y="196" width="34" height="1" fill="url(#r175)"/><rect x="393" y="197" width="31" height="1" fill="url(#r176)"/><rect x="393" y="198" width="29" height="1" fill="url(#r177)"/><rect x="394" y="199" width="26" height="1" fill="url(#r178)"/><rect x="395" y="200" width="23" height="1" fill="url(#r179)"/><rect x="396" y="201" width="19" height="1" fill="url(#r180)"/><rect x="397" y="202" width="16" height="1" fill="url(#r181)"/><rect x="398" y="203" width="13" height="1" fill="url(#r182)"/><rect x="399" y="204" width="10" height="1" fill="url(#r183)"/><rect x="400" y="205" width="7" height="1" fill="url(#r184)"/></g>
<polygon points="403.6,206.4 403.6,206.4 403.6,206.4 403.6,206.4 403.6,206.4 403.5,206.4 403.5,206.4 403.5,206.4 403.5,206.4 403.5,206.4 403.4,206.4 403.4,206.4 403.4,206.4 403.4,206.4 403.3,206.4 403.3,206.4 403.2,206.4 403.2,206.4 403.1,206.4 403.1,206.4 403,206.4 402.9,206.3 402.8,206.2 402.7,206.2 402.6,206.1 402.4,206 402.3,205.8 402.1,205.7 401.9,205.5 401.7,205.3 401.4,205.1 401.2,204.8 400.9,204.6 400.5,204.3 400.1,203.9 399.7,203.5 399.2,203.1 398.7,202.7 398.2,202.1 397.5,201.5 396.9,200.9 396.2,200.1 395.4,199.1 394.5,198 393.6,196.4 392.4,194.6 391.2,192.3 389.9,189.6 388.4,186.4 386.9,182.5 385.1,177.8 383.2,172.4 381.1,166.1 379,158.9 376.9,150.7 374.8,141.6 372.8,131.5 370.8,120.8 369.1,109.7 367.6,98.4 366.5,87.2 365.8,76.3 365.5,66 365.7,56.4 366.5,47.6 367.8,39.8 369.7,33.3 372,28 374.8,24.4 378,22.1 381.3,21.1 384.8,21.3 388.4,22.2 392,23.6 395.7,25.4 399.3,27.4 402.7,29.5 406.1,31.7 409.5,34 412.8,36.4 416,38.9 419.3,41.5 422.5,44.2 425.7,47 428.9,49.9 432.1,52.8 435.3,55.7 438.5,58.7 441.7,61.8 444.9,64.8 448.1,67.9 451.3,71 454.5,74.2 457.6,77.3 460.8,80.4 463.9,83.5 467.1,86.6 470.2,89.7 473.2,92.8 476.3,95.8 479.2,98.7 482.2,101.7 485,104.5 487.9,107.3 490.6,110 493.2,112.7 495.8,115.2 498.3,117.7 500.6,120 502.8,122.2 504.8,124.2 506.8,126.2 508.7,128.1 510.4,129.8 512,131.4 513.5,132.8 514.9,134.2 516.1,135.5 517.3,136.6 518.3,137.6 519.3,138.6 520.1,139.4 520.9,140.2 521.6,141 522.3,141.6 522.9,142.2 523.5,142.8 524,143.3 524.5,143.8 525,144.3 525.4,144.7 525.8,145.1 526.1,145.4 526.4,145.8 526.7,146 527,146.3 527.2,146.5 527.4,146.7 527.6,146.9 527.7,147 527.8,147.1 528,147.3 528.1,147.4 528.1,147.4 528.2,147.5 528.3,147.6 528.4,147.7 528.4,147.7 528.5,147.8 528.6,147.9 528.6,147.9 528.7,148 528.7,148 528.8,148.1 528.8,148.1 528.8,148.1 528.9,148.2 528.9,148.2 528.9,148.2 528.9,148.2 528.9,148.2" fill="none" stroke="#000" stroke-width="1.1" stroke-linejoin="round"/>
<path d="M403.6 206.4L404.4 208.9M403.5 206.4L403.4 209M403.5 206.4L404.5 208.8M403.4 206.4L404.2 208.9M403.4 206.4L403.2 209M403.3 206.4L403.3 209M403.2 206.4L402.6 209M403 206.4L401.8 208.7M402.8 206.2L401.2 208.3M402.4 206L400.8 208M402 205.6L400.3 207.5M401.4 205.1L399.7 207M400.7 204.4L399 206.4M399.7 203.5L398 205.5M398.4 202.4L396.7 204.3M396.9 200.9L395 202.6M395 198.6L392.9 200.1M392.4 194.6L390.2 195.9M389.2 188.1L386.8 189.1M385.1 177.8L382.7 178.7M380.1 162.6L377.6 163.4M374.8 141.6L372.3 142.1M369.9 115.3L367.4 115.7M366.5 87.2L363.9 87.4M365.6 61.1L363 61.1M367.8 39.8L365.3 39.3M373.4 26L371.3 24.5M381.3 21.1L381 18.6M390.2 22.8L391.2 20.4M399.3 27.4L400.6 25.1M407.8 32.8L409.3 30.7M416 38.9L417.6 36.9M424.1 45.6L425.8 43.6M432.1 52.8L433.9 50.9M440.1 60.2L441.9 58.4M448.1 67.9L449.9 66.1M456.1 75.7L457.9 73.9M463.9 83.5L465.8 81.7M471.7 91.2L473.5 89.4M479.2 98.7L481.1 96.9M486.5 105.9L488.3 104.1M493.2 112.7L495.1 110.8M499.5 118.9L501.3 117M504.8 124.2L506.7 122.4M509.6 129L511.4 127.1M513.5 132.8L515.3 131M516.7 136L518.5 134.2M519.3 138.6L521.1 136.7M521.3 140.6L523.1 138.8M522.9 142.2L524.8 140.4M524.3 143.6L526.1 141.8M525.4 144.7L527.2 142.9M526.3 145.6L528.1 143.8M527 146.3L528.8 144.4M527.5 146.8L529.3 144.9M527.8 147.1L529.7 145.3M528.1 147.4L529.9 145.6M528.3 147.6L530.1 145.8M528.5 147.8L530.3 145.9M528.6 147.9L530.5 146.1M528.8 148.1L530.6 146.2M528.8 148.1L530.7 146.3M528.9 148.2L530.7 146.3M403.6 206.4L403 208.9M528.9 148.2L530.7 146.4" stroke="#000" stroke-width="0.6" fill="none"/>
<path d="M364.7 6.3V207.5H543.5" stroke="#777" stroke-width="0.8" fill="none"/>
<path d="M364.7 6.3H543.5V207.5" stroke="#c4c4c4" stroke-width="0.7" fill="none"/>
<text x="361.9" y="210" class="r" font-size="7.5" text-anchor="end" fill="#222">0.0</text>
<text x="361.9" y="187.7" class="r" font-size="7.5" text-anchor="end" fill="#222">0.1</text>
<text x="361.9" y="165.3" class="r" font-size="7.5" text-anchor="end" fill="#222">0.2</text>
<text x="361.9" y="142.9" class="r" font-size="7.5" text-anchor="end" fill="#222">0.3</text>
<text x="361.9" y="120.6" class="r" font-size="7.5" text-anchor="end" fill="#222">0.4</text>
<text x="361.9" y="98.2" class="r" font-size="7.5" text-anchor="end" fill="#222">0.5</text>
<text x="361.9" y="75.9" class="r" font-size="7.5" text-anchor="end" fill="#222">0.6</text>
<text x="361.9" y="53.5" class="r" font-size="7.5" text-anchor="end" fill="#222">0.7</text>
<text x="361.9" y="31.2" class="r" font-size="7.5" text-anchor="end" fill="#222">0.8</text>
<text x="361.9" y="8.8" class="r" font-size="7.5" text-anchor="end" fill="#222">0.9</text>
<text x="364.7" y="216.1" class="r" font-size="7.5" text-anchor="middle" fill="#222">0.0</text>
<text x="387.1" y="216.1" class="r" font-size="7.5" text-anchor="middle" fill="#222">0.1</text>
<text x="409.4" y="216.1" class="r" font-size="7.5" text-anchor="middle" fill="#222">0.2</text>
<text x="431.8" y="216.1" class="r" font-size="7.5" text-anchor="middle" fill="#222">0.3</text>
<text x="454.1" y="216.1" class="r" font-size="7.5" text-anchor="middle" fill="#222">0.4</text>
<text x="476.4" y="216.1" class="r" font-size="7.5" text-anchor="middle" fill="#222">0.5</text>
<text x="498.8" y="216.1" class="r" font-size="7.5" text-anchor="middle" fill="#222">0.6</text>
<text x="521.1" y="216.1" class="r" font-size="7.5" text-anchor="middle" fill="#222">0.7</text>
<text x="543.5" y="216.1" class="r" font-size="7.5" text-anchor="middle" fill="#222">0.8</text>
<path d="M362.7 207.5H366.7M362.7 185.2H366.7M362.7 162.8H366.7M362.7 140.4H366.7M362.7 118.1H366.7M362.7 95.8H366.7M362.7 73.4H366.7M362.7 51H366.7M362.7 28.7H366.7M362.7 6.3H366.7M363.5 196.3H365.9M363.5 174H365.9M363.5 151.6H365.9M363.5 129.3H365.9M363.5 106.9H365.9M363.5 84.6H365.9M363.5 62.2H365.9M363.5 39.9H365.9M363.5 17.5H365.9M364.7 205.5V209.5M387.1 205.5V209.5M409.4 205.5V209.5M431.8 205.5V209.5M454.1 205.5V209.5M476.4 205.5V209.5M498.8 205.5V209.5M521.1 205.5V209.5M543.5 205.5V209.5M375.9 206.3V208.7M398.2 206.3V208.7M420.6 206.3V208.7M442.9 206.3V208.7M465.3 206.3V208.7M487.6 206.3V208.7M510 206.3V208.7M532.3 206.3V208.7" stroke="#666" stroke-width="0.6" fill="none"/>
<text x="352" y="109.4" class="r" font-size="8" text-anchor="middle" fill="#111">y</text>
<text x="464.8" y="220" class="r" font-size="8" text-anchor="middle" fill="#111">x</text>
<text x="406.4" y="210.5" class="r" font-size="7.6" text-anchor="start" fill="#1c1cf0">380</text>
<text x="394" y="207.4" class="r" font-size="7.6" text-anchor="end" fill="#1c1cf0">460</text>
<text x="389.2" y="198.8" class="r" font-size="7.6" text-anchor="end" fill="#1c1cf0">470</text>
<text x="382" y="182.3" class="r" font-size="7.6" text-anchor="end" fill="#1c1cf0">480</text>
<text x="375.6" y="149" class="r" font-size="7.6" text-anchor="end" fill="#1c1cf0">490</text>
<text x="362.5" y="89.5" class="r" font-size="7.6" text-anchor="end" fill="#1c1cf0">500</text>
<text x="381" y="16.6" class="r" font-size="7.6" text-anchor="middle" fill="#1c1cf0">520</text>
<text x="423.5" y="34.6" class="r" font-size="7.6" text-anchor="middle" fill="#1c1cf0">540</text>
<text x="455.5" y="64" class="r" font-size="7.6" text-anchor="middle" fill="#1c1cf0">560</text>
<text x="487.5" y="95.6" class="r" font-size="7.6" text-anchor="middle" fill="#1c1cf0">580</text>
<text x="512.5" y="121.5" class="r" font-size="7.6" text-anchor="middle" fill="#1c1cf0">600</text>
<text x="527.5" y="135.5" class="r" font-size="7.6" text-anchor="middle" fill="#1c1cf0">620</text>
<text x="533.4" y="150.8" class="r" font-size="7.6" text-anchor="start" fill="#1c1cf0">700</text>
<polyline points="505,125.8 502.2,123.8 499.3,121.8 496.2,120 493,118.3 489.6,117 486.1,115.9 482.5,115.1 478.7,114.7 475,114.7 471.2,115.1 467.5,115.7 463.8,116.7 460.2,118 456.8,119.5 453.5,121.1 450.4,122.9 447.5,124.7 444.8,126.7 442.3,128.6 440,130.4 437.9,132.3 436,134 434.2,135.7 432.7,137.3 431.2,138.8 430,140.2 428.8,141.4 427.8,142.6 426.9,143.7 426.1,144.7 425.3,145.6 424.7,146.5 424.1,147.2 423.5,147.9 423.1,148.5 422.6,149.1 422.2,149.6 421.9,150.1 421.6,150.5 421.3,150.9 421,151.3 420.8,151.6 420.6,151.9 420.4,152.2 420.2,152.4 420.1,152.6 419.9,152.8 419.8,153 419.7,153.2 419.6,153.4 419.5,153.5 419.4,153.6 419.3,153.8 419.2,153.9 419.1,154 419.1,154.1 419,154.1 419,154.2 418.9,154.3 418.3,155.2 415.7,157.1" fill="none" stroke="#111" stroke-width="1.05"/>
<path d="M413.8 155.5L417.5 158.6M420.4 131.3L433.9 153.3M436.6 118.5L437.7 145M453.7 111L448 133M466.4 109.1L457.7 127.5M476.8 105.3L466 123.7M487.6 109.1L477.8 121.2M499.7 116.1L494 121.2" stroke="#111" stroke-width="0.95" fill="none"/>
<text x="410.4" y="153.6" class="r" font-size="6" text-anchor="middle" fill="#111">∞</text>
<text x="412.8" y="131" class="r" font-size="5.2" text-anchor="middle" fill="#111">10000</text>
<text x="435.7" y="117.7" class="r" font-size="5.2" text-anchor="middle" fill="#111">6000</text>
<text x="451.3" y="109.8" class="r" font-size="5.2" text-anchor="middle" fill="#111">4000</text>
<text x="465.5" y="106.3" class="r" font-size="5.2" text-anchor="middle" fill="#111">3000</text>
<text x="477.5" y="104.3" class="r" font-size="5.2" text-anchor="middle" fill="#111">2500</text>
<text x="479.2" y="126.7" class="r" font-size="5.2" text-anchor="middle" fill="#111">2000</text>
<text x="494" y="126.7" class="r" font-size="5.2" text-anchor="middle" fill="#111">1500</text>
<text x="418" y="108" class="r" font-size="8.1" fill="#111">T<tspan font-size="5" dy="1.5">C</tspan><tspan dy="-1.5">(°K)</tspan></text>
<circle cx="429.2" cy="136.2" r="0.75" fill="#7a0028" stroke="#ff5a96" stroke-width="0.5"/>
<circle cx="430.3" cy="134.1" r="0.75" fill="#7a0028" stroke="#ff5a96" stroke-width="0.5"/>
<circle cx="431.4" cy="132" r="0.75" fill="#7a0028" stroke="#ff5a96" stroke-width="0.5"/>
<circle cx="432.5" cy="129.8" r="0.75" fill="#7a0028" stroke="#ff5a96" stroke-width="0.5"/>
<circle cx="433.6" cy="127.7" r="0.75" fill="#7a0028" stroke="#ff5a96" stroke-width="0.5"/>
<polygon points="434.6,131.4 432,135.9 437.2,135.9" fill="#ff1ee6"/>
<text x="428" y="139.6" class="b" font-size="6.3" text-anchor="end" fill="#111">(0.2886,0.3188)</text>
<text x="438" y="139.6" class="b" font-size="6.3" fill="#111">(0.3127,0.329)</text>
<rect x="482" y="9" width="40" height="24" fill="#fff"/>
<polygon points="487.3,14 484.4,19.1 490.2,19.1" fill="#ff1ee6"/>
<circle cx="487.3" cy="28.4" r="2.5" fill="#111" stroke="#ff5a8c" stroke-width="0.5"/>
<text x="491.5" y="19.5" class="b" font-size="7.4" fill="#111">:D65</text>
<text x="491.5" y="31.1" class="b" font-size="7.4" fill="#111">:YAG:Ce</text>
<text x="326.8" y="11.3" class="b" font-size="14.2">(b)</text>
</g>
<g id="pc">
<rect x="74.0" y="247.5" width="174.0" height="174.0" fill="#000"/>
<g>
<path d="M74 247.5L248 247.5L248 421.5L74 421.5Z" fill="#46005a" fill-rule="evenodd"/>
<path d="M74 247.5L248 247.5L248 421.5L74 421.5Z" fill="#5000a0" fill-rule="evenodd"/>
<path d="M74 247.5L248 247.5L248 421.5L74 421.5Z" fill="#4b00ff" fill-rule="evenodd"/>
<path d="M74 247.5L248 247.5L248 421.5L74 421.5Z" fill="#3232ff" fill-rule="evenodd"/>
<path d="M79.4 249L81.5 248.3L83.4 248L238.6 248L240.5 248.3L242.5 249L245.2 251L246.9 254L247.5 256.9L247.5 412.1L247.2 414L246.5 416L244.5 418.7L241.5 420.4L238.6 421L83.4 421L81.5 420.7L79.5 420L76.8 418L75.1 415L74.5 412.1L74.5 256.9L75.1 254L76.1 252L77.5 250.3Z" fill="#0a6eff" fill-rule="evenodd"/>
<path d="M79.8 250L81.5 249.3L83.4 249.1L238.6 249.1L241.5 249.7L244.5 251.8L245.8 254L246.4 256.9L246.4 412.1L245.8 415L243.7 418L241.5 419.3L238.6 419.9L83.4 419.9L80.5 419.3L77.5 417.2L76.2 415L75.6 412.1L75.6 256.9L75.8 255L76.7 253L78.3 251Z" fill="#00aaff" fill-rule="evenodd"/>
<path d="M80.1 251L83.4 250.1L238.6 250.1L241.5 250.8L243.5 252.3L244.7 254L245.4 256.9L245.4 412.1L244.7 415L243.2 417L241.5 418.2L238.6 418.9L83.4 418.9L80.5 418.2L78.5 416.7L77.3 415L76.6 412.1L76.6 256.9L77.5 253.6L78.5 252.3Z" fill="#00c8dc" fill-rule="evenodd"/>
<path d="M80.5 252L83.4 251.1L238.6 251.1L240.5 251.5L242.8 253L244 255L244.4 256.9L244.4 412.1L244 414L242.5 416.3L240.5 417.5L238.6 417.9L83.4 417.9L81.5 417.5L79.2 416L78 414L77.6 412.1L77.6 256.9L78.5 254Z" fill="#00d746" fill-rule="evenodd"/>
<path d="M80.9 253L83.4 252.2L238.6 252.2L240.5 252.6L242.3 254L242.9 255L243.3 256.9L243.3 412.1L242.9 414L241.5 415.8L240.5 416.4L238.6 416.8L83.4 416.8L81.5 416.4L79.8 415L79.1 414L78.7 412.1L78.7 256.9L79.1 255Z" fill="#00f000" fill-rule="evenodd"/>
<path d="M162.3 257.9L164 257.1L165 257L166 257.2L169.9 259.5L175.9 259.2L180.9 260.7L186.9 260L191.8 257.8L194.8 257.5L197.8 258.3L201.8 260.5L203.8 261.1L210.7 260.3L213.7 260.6L217.7 262.6L219.7 263L222.6 263.1L224.5 263.9L223.2 270.9L223.3 271.9L224 272.9L225.6 273.3L227.6 272.7L228.6 270.9L228.7 268.9L227.8 263.9L228.9 262.9L230.6 262.3L232.6 262.2L233.5 262.9L233.6 264.9L232.8 267.9L232.7 269.9L236.1 277.8L236.1 279.8L234.5 287.8L234.3 290.8L234.9 296.7L236.3 301.7L234.4 307.7L235.1 315.6L234.4 317.6L232.2 320.6L232 321.6L232.3 325.6L231.3 329.5L231.8 331.5L233.7 335.5L234.7 339.5L237 344.4L236.5 346.4L233.4 350.4L232.2 353.4L232.1 355.4L232.4 356.4L234.9 360.4L235.9 367.3L235.1 373.3L235.5 382.2L233.7 388.2L232.6 393.4L229.6 401.7L228.9 405.1L227.6 406.3L223.6 407L219.7 409.5L217.7 409.9L212.7 409.4L205.7 409.5L200.8 408.1L195.8 407.4L187.8 404.8L180.9 408.2L172.9 410.2L170.9 410.3L163 408.5L160 408.2L154 410.7L151.1 411.3L149.1 411.2L146.1 410.5L140.1 406.8L138.1 406.2L136.1 406.4L132.2 407.4L127.2 407.4L123.2 409.6L121.2 409.9L118.2 409.2L114.3 406.4L112.3 405.6L110.3 405.7L106.3 407.6L104.3 408L99.4 407.8L93.4 408.7L88.4 407.9L87.5 407.1L87.3 405.1L87.8 403.1L89.5 400.1L90.2 398.1L90.3 391.2L90.4 390.8L93.6 389.2L94.5 388.2L94.7 387.2L94.4 385.8L93.4 385.2L92.4 385.5L90.4 386.7L89.4 386L87.2 381.2L86.5 378.2L86.6 374.3L88 365.3L86.7 360.4L86.2 356.4L86.8 349.4L86.6 344.4L86.9 342.5L88.3 339.5L88.6 337.5L86.4 331.5L86.8 329.5L89 325.6L89.5 323.6L89.2 321.6L87 317.6L86.3 314.6L86.1 310.6L87 303.7L87.1 297.7L86.5 295.7L84.7 292.7L84.3 290.8L85 287.8L88.1 282.8L88.9 280.8L88.5 278.8L86.7 275.8L86.1 273.8L86.1 270.9L86.8 268.9L88.4 267.2L90.4 266.6L92.4 266.5L93.2 265.9L94.4 262.9L95.5 261.9L97.9 260.9L101.3 260.8L108.3 262.3L110.3 262L115.3 259.8L118.2 259.6L121.2 259.9L122.2 260.5L123.1 261.9L123.1 263.9L118.9 266.9L114.8 274.8L115 275.8L116.3 277.1L118.2 277.8L119.2 277.7L121.2 276.6L124.5 273.8L125.5 271.9L126.2 267.4L131.2 262.3L133.2 261.2L137.1 261L141.8 261.9L140.1 264.2L139.6 265.9L140.3 268.9L142.1 271.6L144.1 273L150.1 275.1L151.1 274.8L152.1 273.9L154.8 270.9L156 268.9L156 266.9L154.7 263.9L154.8 262.9L156 261.6L160 259.6ZM168 302.5L167.5 302.7L167 303.7L167.8 304.7L169.9 305.5L173.9 304.7L174.2 303.7L172.9 302.7L170.9 302.1ZM174.9 271.5L173.9 273.9L173.5 278.8L173.9 280.2L174.9 281.2L176.9 281.5L177.9 280.6L178.3 278.8L177.9 272.5L176.9 271L175.9 270.9ZM188.8 390.7L187.9 392.2L188.3 395.2L189.3 396.1L190.8 396L191.8 395.3L192.5 394.2L192.7 393.2L192.5 392.2L191.8 391.2L190.8 390.6L189.8 390.4ZM194.8 285.7L193.9 286.8L193.7 287.8L194 288.8L197 291.7L197.5 292.7L196.7 296.7L196.9 298.7L197.9 299.7L199.8 299.8L200.8 298.7L201 296.7L200.8 295.6L198.8 291.7L198.7 287.8L197.8 285.9L196.8 285.3L195.8 285.3ZM206.7 356L206 356.4L205.5 357.4L205.5 358.4L206.1 359.4L207.7 360.4L209.7 360.9L210.7 360.9L211.9 360.4L212.4 359.4L212.4 358.4L211.7 357.2L209.7 356.2ZM221.7 285.7L219.7 286.8L218.7 287.9L217.7 289.8L217.4 291.7L217.7 292.7L218.7 294.1L219.7 294.8L221.7 295.4L223.6 294.8L224.6 293.7L225.3 291.7L225.5 289.8L225.1 287.8L224.6 286.8L223.6 285.9ZM225.6 329.4L224.3 330.5L224.3 331.5L224.6 331.9L225.6 332L226.4 331.5L226.9 330.5L226.6 329.8ZM94.4 349.6L93.4 350.5L92.9 353.4L93.3 358.4L94 360.4L95.2 361.3L96.4 361.7L98.4 361.9L100.3 361.6L101.3 361L102.3 359.4L102.1 357.4L97.4 351L95.4 349.5ZM100.3 290.1L99.4 291.4L99.1 292.7L99 298.7L99.8 301.7L101.5 304.7L103.3 306.3L106.3 306.8L108.3 306.3L109.2 305.7L109.7 304.7L108.9 301.7L103.3 292L101.3 290ZM118.2 281.7L116.3 282.7L115.5 284.8L116.3 287.5L117.3 288.4L118.2 288.6L120.2 287.9L121.2 286.9L121.9 284.8L121.6 283.8L120.8 282.8L119.2 281.8ZM151.1 277.4L150.1 277.9L149.6 278.8L149.3 279.8L149.5 281.8L150.9 283.8L152.1 284.6L154 284.7L155.1 283.8L155.3 282.8L155 281.8L153 279.1ZM224.6 367.3L221.7 369.2L220.7 370.3L220.4 371.3L220.5 372.3L221.7 373.3L223.6 373.3L225.6 372.9L227 372.3L227.8 371.3L228.1 369.3L227.6 367.5L226.6 366.9ZM105.3 328.9L104.4 329.5L104.7 330.5L105.3 331L108.3 332.1L109.2 331.5L109.1 330.5L108.3 329.5L106.3 328.7ZM222.6 390.3L222 391.2L221.9 392.2L222.6 393.8L223.6 394.4L224.6 394.6L226.1 394.2L226.5 393.2L225.4 391.2L223.6 390.2Z" fill="#8cf500" fill-rule="evenodd"/>
<path d="M173.6 261.9L175.7 261.9L177 262.9L177.2 263.9L175.9 265.6L173.9 266.1L172.9 265.9L171.6 264.9L171.1 263.9L171.7 262.9ZM192.4 261.9L194.8 261L196.8 261.4L198.7 262.9L199.6 265.9L200.8 266.4L205.7 265.5L207.9 263.9L210.7 263.1L211.7 263.1L212.9 263.9L211.7 264.8L207.7 265.3L207.1 265.9L206.1 270.9L204.7 271.9L201.8 272L199.8 271.5L199.1 270.9L197.8 268L196.8 267.7L192.8 267.8L190.8 268.8L187.3 271.9L186.7 272.9L186.6 273.8L189.3 277.8L190.1 279.8L190 281.8L188.8 283.1L186.9 284L184.9 284.1L182.9 283.6L181.9 282.8L181.2 281.8L180.7 277.8L180.9 275.8L182.4 271.9L183.7 266.9L184.9 264.7L185.8 263.9L189.8 263.2ZM132.1 266.9L134.2 266.5L135.1 267.1L138.1 271.9L139.1 275.8L140.1 276.8L143.1 278L143.9 278.8L146.1 283.8L149.1 286.8L151.1 288.2L155 290.2L158 293.6L159 294.3L163 294.6L168 296.7L167 297.5L166 297.6L159 296.9L158 297.3L155 301.3L152.1 303.4L151.3 304.7L151.3 305.7L151.9 307.7L153 309L155 310.1L157 310.4L159 310.2L163 308L165 307.6L169.9 308.8L173.9 308.7L177.9 309.6L178.9 309.4L180.3 308.6L181 307.7L181.2 302.7L182.5 298.7L181.9 297.6L177.9 296.6L176.9 295.7L176.5 294.7L176.9 292.7L177.9 290L178.9 288.9L180.9 288.9L188.1 290.8L189.3 291.7L189.7 292.7L189.4 297.7L190.3 299.7L191.2 300.7L198.8 303.6L200.8 303.8L201.8 303.5L203.8 301.7L204.3 300.7L204.6 298.7L203.2 292.7L202.8 287.8L202 284.8L202.2 282.8L203.8 281.2L206.7 279.7L209.7 277.3L210.7 277.1L211.7 278.2L212.3 279.8L214.7 283.1L215.5 284.8L215 287.8L213 291.7L212.5 293.7L212.6 295.7L213.7 297.3L217.7 298.7L220.7 299L222.6 298.9L225.7 297.7L228.2 295.7L229.6 294.1L230.6 294L232.3 301.7L231.7 307.7L232.8 312.6L232.8 314.6L232.5 315.6L231.6 316.4L230.6 316.5L226.6 315.1L221.7 314.9L220.7 314.6L219.1 312.6L217.5 308.6L216.8 307.7L215.7 307.1L213.7 307.4L209.7 309.8L205.6 311.6L205.1 312.6L207.7 315.8L209.2 318.6L209.5 320.6L209.4 322.6L209.1 323.6L208.2 324.6L206.7 325.2L205.7 325.2L203.8 324.2L199.8 320.2L198.8 319.6L197.8 319.7L196.8 320.7L196 323.6L196.3 327.5L197.6 329.5L200.9 332.5L201.7 334.5L200.9 336.5L196.4 340.5L195.6 342.5L195.8 343.4L196.4 344.4L197.8 345.2L199.8 345.3L202.8 344.5L204.7 344.8L205.7 345.8L206.5 347.4L206.2 349.4L203.8 351.8L200.8 356.5L197 359.4L197 360.4L199.5 364.3L199.6 367.3L200.2 368.3L201.9 369.3L203.8 369.8L205.7 369.7L209.7 368.7L211.7 369.1L213.1 370.3L214.7 373.3L216.3 375.3L221.9 378.2L224.6 380.3L225.6 379.8L227.8 377.3L231.6 374L232.6 374.6L233.2 376.3L233.8 380.2L233.6 382.2L232.8 384.2L231.6 386.1L230.6 387.1L229.6 387.6L227.6 387.5L223.6 384.9L222.6 385L218.7 386.4L215.7 386.1L213.8 385.2L212 382.2L210.7 381.2L207.7 381.3L206.2 382.2L205.8 383.2L206.4 384.2L211.7 386.9L216.6 393.2L216.7 394.8L215.7 395.4L209.7 394.6L206.7 393.5L201.8 390.9L201.1 391.2L200.9 392.2L200.1 400.1L198.8 401.3L196.8 401.2L195.7 400.1L195.5 398.1L198.5 391.2L198.3 390.2L195.3 387.2L194.8 385.2L196.6 379.2L196.8 377.3L195.8 375.9L191.8 373.9L190.1 372.3L189.6 370.3L189.8 367.3L188.8 365.1L187.8 364.8L184.9 365.5L183.9 365L181.9 362L178.9 361.4L174.9 359.4L173.9 359.5L171.9 360.6L170.9 361.5L170 363.3L170.1 365.3L172 367.3L177.2 369.3L177.5 371.3L176.9 375.3L175.9 377.5L171.9 381.9L169.9 382.3L168 381.7L166.7 380.2L164.7 373.3L163.3 370.3L162.3 364.3L161 363L160 362.8L159 363.8L158 367.5L158.2 369.3L159.7 371.3L159.5 372.3L159 372.6L157 372.1L156 372.2L153.7 373.3L153.2 374.3L153.4 375.3L154.3 376.3L158 377.8L158.5 379.2L158.4 381.2L154.5 387.2L151.7 390.2L151.3 391.2L151.4 392.2L152 393.2L153 393.7L157 395.3L163.1 397.1L164.9 399.1L168.1 405.1L167.2 406.1L165 406.3L159 404.5L157 404.5L152.7 408.1L151.1 408.7L149.1 408.9L147.1 408.5L144.7 407.1L143.8 406.1L142.5 403.1L139.3 400.1L138.7 399.1L138.5 398.1L138.8 397.1L142.2 394.2L142.6 390.2L144.9 385.2L145.9 382.2L145.9 380.2L145.4 379.2L143.1 376.9L142.1 376.6L141.1 376.7L137.8 380.2L135.1 381.7L133.2 381.6L130.2 380.4L128.2 380.4L125.2 382.1L121.2 382.9L116.3 384.7L111.3 384.1L110.3 383.5L108.3 381.2L105.5 379.2L105 378.2L105.4 377.3L106.3 376.2L108.3 375L110.3 374.7L111.5 375.3L112.2 376.3L113.3 379.2L115.6 377.3L117.3 376.4L120.2 376.1L122.2 375.4L128.2 370.2L131.2 366.5L132.4 364.3L134.2 358.7L135.4 352.4L136.4 350.4L138.7 347.4L143.3 344.4L144.4 343.4L144.7 342.5L143.7 338.5L143.1 337.5L142.1 337.1L130.2 336.7L129.2 337.2L127.2 344.3L126.2 345.3L123.6 346.4L124.2 347L125.2 347L128.2 346.2L131.2 346.4L132.8 347.4L133.5 348.4L133.5 349.4L133.2 349.9L132.6 350.4L128.2 352.1L125.2 354.7L122.2 355.5L120.6 356.4L118.8 358.4L115.4 363.3L114.2 364.3L110.3 365.8L108.3 366.2L106.3 365.7L105.3 364.4L105.4 362.3L106.4 359.4L106.3 357.4L105.3 355.5L102.7 352.4L102.3 351.4L103 350.4L108.3 350.8L111.3 349.9L113.8 348.4L115.9 344.4L117.3 343.3L119.2 342.5L120 341.5L118.8 336.5L118.8 335.5L119.6 334.5L121.2 334.2L128.2 335.5L129.2 334.7L129.5 333.5L130 330.5L129.2 327.5L128.2 326.5L124 324.6L123.4 323.6L123.6 322.6L127.2 321.3L128.2 320.6L128.6 319.6L128.4 315.6L128.7 313.6L129.2 312.6L132.2 310.5L133.8 308.6L134.7 305.7L134.2 303.7L133.2 302.7L132.2 302.7L129.2 304.9L127.2 305.9L126.6 306.7L125.1 310.6L123.9 312.6L122.2 314L120.2 315L118.2 315.3L117.3 313.2L116.9 310.6L117.3 308.6L117.9 307.7L121.6 304.7L123 302.7L123.7 296.7L122.3 292.7L122.4 291.7L123 290.8L128.2 286.3L131.2 285.2L134.2 284.8L135.4 283.8L135.3 280.8L133.9 276.8L132.7 274.8L130.2 272.5L129.3 270.9L129.8 268.9ZM145.1 316.1L144.1 316.8L140.2 321.6L139.7 322.6L139.7 323.6L140.1 324.1L141.1 324.3L146.1 322.9L148.1 321.6L148.9 320.6L149.8 318.6L149.8 317.6L149.2 316.6L147.1 315.7ZM169.9 314.6L168 314.8L165.7 315.6L164.9 316.6L165 317.6L165.6 318.6L166.9 319.6L168 319.9L169.5 319.6L170.9 318.6L172 316.6L172 315.6L170.9 314.8ZM197.8 309.6L195.6 311.6L194.8 313.6L195.1 314.6L196.8 315.7L198.8 315.4L202.6 312.6L203.3 311.6L202.5 310.6L200.8 309.4L199.8 309.2ZM129.2 289.5L128.2 290.2L127.5 291.7L127.8 293.7L128.5 294.7L130.2 295.8L132.2 296.5L134.2 296.3L135.1 295.7L135.9 294.7L136.2 292.7L135.1 290.5L134.2 289.8L132.2 289.3ZM166 268.9L168 268.7L169 269.2L169.9 270.7L170.1 271.9L169.2 277.8L169.5 282.8L169 283.8L168 284.1L167 283.6L165 280.4L164 279.9L160 279.6L158 279.1L156.8 277.8L156.4 276.8L156.8 274.8L157.8 273.8ZM230.7 279.8L231.6 279.2L232.6 279.8L232.6 282.8L231.6 284.3L230.6 283.7L230.2 282.8L230.2 280.8ZM94.4 281.8L95.4 281.2L96.4 281.2L97.1 281.8L97.4 282.8L96.9 284.8L96.4 285.6L93.4 287.8L91.6 291.7L90.6 292.7L89.4 292.9L88.4 292.5L87.3 290.8L87.4 288.8L87.8 287.8L89.4 285.6L92.4 284ZM107.8 284.8L109.3 284L110.3 284.3L111.3 285.5L111.8 286.8L111.9 288.8L111.7 289.8L110.3 291.5L109.3 291.9L108.3 291.7L107.3 291L106.1 288.8L106.5 286.8ZM94 295.7L94.5 295.7L94.4 296.7L93.4 297.1L93.4 296.3ZM90.3 303.7L90.4 303.2L91.4 304L92.3 306.7L92.9 314.6L93.3 315.6L96.4 317.1L97.6 318.6L97.6 319.6L97 320.6L95.4 321.6L94.4 321.5L93.5 320.6L92.2 317.6L89.4 315.3L88.7 313.6L88.3 311.6L88.4 309.5ZM101.5 310.6L104.3 310.5L106.1 311.6L106.4 313.6L105.3 317.1L104.3 316.8L101.5 313.6L100.8 311.6ZM115.6 316.6L117.4 316.6L118.2 318.1L118.6 320.6L117.6 322.6L114.3 326.2L112.3 326.5L110.3 325.7L107.2 323.6L105.4 321.6L105.1 320.6L105.3 318.2L108.3 318.5ZM91.2 331.5L92.4 331L94.5 331.5L96.9 333.5L97.7 334.5L97.4 335.3L95.4 336L93.4 335.8L91.3 333.5L90.9 332.5ZM101.3 336.5L102.8 336.5L103.8 337.5L103.3 337.9L102.3 337.7ZM219.7 344.4L223.6 344.3L224.6 344.8L225.9 346.4L227.1 349.4L227.4 351.4L226.6 354.7L225.6 356.5L224.6 356.9L222.6 354.4L218.7 352L217.7 350.8L217 348.4L217.1 346.4L217.7 345.3ZM91.4 368.3L94.4 367.8L96.4 368.2L97.9 369.3L98.4 371.3L97.4 374.3L96.2 376.3L94.4 377.6L91.4 378.7L90.4 378.7L89.4 377.6L88.9 375.3L89.7 370.3L90.4 368.9ZM173.8 383.2L175.9 382.8L180.9 383L184.9 382.7L185.9 383.1L186.4 384.2L186.1 385.2L184.9 386.3L182.9 387.2L178.9 387.9L176.9 389.2L176.6 390.2L176.7 391.2L180.9 398L182.3 401.1L182.7 403.1L182.6 404.1L181.9 405.4L180.8 406.1L177.9 406.9L174.9 406.8L173.3 406.1L173.5 405.1L174.7 403.1L175.2 401.1L175.3 399.1L174.8 397.1L172.9 395L167.6 391.2L165.4 388.2L166 387.5L170.2 386.2ZM128.8 388.2L130.2 387.9L131.2 388.3L134.4 390.2L135.1 391.2L135.2 392.2L134.4 394.2L133.2 394.9L131.2 395.2L130.2 395L129.2 394.2L128.2 390.2L128.2 389.2ZM95.8 394.2L97.4 393.5L98.4 393.6L99.4 394.4L99.8 396.1L98.7 397.1L97.4 397L95.9 396.1L95.4 395.2ZM120.5 396.1L121.2 395.6L122.2 395.5L123.4 396.1L124.2 397.4L124.5 400.1L123.8 405.1L122.2 406.8L120.2 407.3L118.2 406.5L117.1 405.1L116.9 400.1L117.4 398.1ZM206.7 404.1L207.7 403.9L208.5 404.1L209.8 405.1L209 406.1L207.5 406.1L206.2 405.1ZM92 405.1L93.4 404.3L94.6 405.1L93.4 405.4ZM215.7 405.1L217.7 404.8L218.5 405.1L218.6 406.1L217.7 406.8L216.7 407L215 406.1Z" fill="#d2fa00" fill-rule="evenodd"/>
<path d="M146.8 290.8L148.1 290.6L150.1 291.2L152.1 292.4L153 293.7L153.4 294.7L153.3 296.7L152.1 298.4L150.1 299.3L148.1 299.5L147.1 299.1L145.1 297L142.6 295.7L142.1 295.1L142 294.7L142.5 293.7ZM208.3 302.7L209.7 302.2L210.7 302.4L211.6 303.7L210.4 305.7L208.9 306.7L207.7 306.8L206.6 305.7L206.7 304.7ZM192 305.7L193.8 305.5L194.9 306.7L193.8 308.6L191.8 309.8L190.8 309.1L190.7 307.7L191.1 306.7ZM144.9 306.7L145.1 306.3L146.1 306.3L147.1 307.6L147.4 309.6L147.1 310.1L146.1 310.2L144.9 309.6L144.4 308.6ZM182.2 312.6L183.9 312.6L185.1 313.6L185.4 314.6L185.3 315.6L184.9 316.2L182.9 316.8L181.9 316.6L180.9 315.8L180.5 314.6L180.8 313.6ZM157.2 317.6L158 317.4L160 318.1L165 322L169.9 324.7L170.9 324.5L174.9 321.9L176.9 322L177.9 322.5L179.5 324.6L180 326.5L179.8 327.5L177.8 330.5L177.6 331.5L178 332.5L178.9 332.9L179.9 332.8L180.9 332L181.6 328.5L182.2 327.5L186.4 324.6L187.2 323.6L187.8 319.2L188.8 318.6L190.8 319.2L191.8 320.2L192.4 321.6L192.9 329.5L196.8 333.5L197.2 334.5L196.8 336.4L191.8 342.1L190.8 342.7L189.8 342.6L185.9 339.9L184.9 339.7L182.9 340.8L179.9 343.7L177.9 344.3L174.9 344.2L172.5 343.4L172.9 343.3L173.5 341.5L173.1 339.5L171.9 338.7L170.9 338.7L169.9 339.3L169.3 340.5L169.4 341.5L169.9 342.4L171.7 343.4L172.4 344.4L168.2 348.4L168 349.4L170.4 353.4L170.2 355.4L169 357.4L167 359.3L165 359.8L163 359.2L160.6 357.4L155.7 350.4L155.7 349.4L157.6 346.4L158 344.4L157.6 343.4L155 341.2L153.7 339.5L152.1 334.4L150.1 332.7L144.3 330.5L143.7 329.5L143.8 328.5L144.5 327.5L150.1 324.1L155 319.1ZM142.8 351.4L144.1 351L144.6 352.4L143.9 360.4L143.1 360.9L141.1 360.9L140.1 360.5L139.2 359.4L139.1 356.4L140.1 354.2ZM144.8 361.3L150.1 360.5L153 361.3L154.1 362.3L154.6 363.3L154.7 364.3L154.1 366.3L153 367.6L152.1 368.2L151.1 368.4L149.1 367.6L146 364.3L144.9 362.3ZM137.8 365.3L139.1 365.4L140.1 366.1L141.1 368.3L140.9 369.3L140.1 370.3L134.2 372.7L133.5 371.3L134.2 368.7L136.1 366.2ZM133.1 374.3L134.2 374.7L134.4 375.3L134.7 376.3L134.2 377.4L133.2 377L132.6 376.3L132.6 375.3ZM147.9 405.1L148.5 405.1L148.1 405.4Z" fill="#f0fa00" fill-rule="evenodd"/>
<path d="M160.8 325.6L162 325.5L163 326.6L164.2 328.5L167.6 332.5L168 333.5L167.8 334.5L165.7 337.5L164 339.1L163 339.4L160 339L157 337.9L155.8 336.5L155.3 334.5L155.6 332.5L156 331.5L160 326.1Z" fill="#fac300" fill-rule="evenodd"/>
</g>
<path d="M91.4 247.5V421.5M114.6 247.5V421.5M137.8 247.5V421.5M161 247.5V421.5M184.2 247.5V421.5M207.4 247.5V421.5M230.6 247.5V421.5M74.0 253.3H248.0M74.0 264.9H248.0M74.0 276.5H248.0M74.0 288.1H248.0M74.0 299.7H248.0M74.0 311.3H248.0M74.0 322.9H248.0M74.0 334.5H248.0M74.0 346.1H248.0M74.0 357.7H248.0M74.0 369.3H248.0M74.0 380.9H248.0M74.0 392.5H248.0M74.0 404.1H248.0M74.0 415.7H248.0" stroke="#66663c" stroke-opacity="0.8" stroke-width="0.7" stroke-dasharray="1.2 1.2" fill="none"/>
<path d="M161.0 247.5V421.5M74.0 334.5H248.0" stroke="#b06a3c" stroke-opacity="0.55" stroke-width="0.6" fill="none"/>
<rect x="74.0" y="247.5" width="174.0" height="174.0" fill="none" stroke="#0a0a28" stroke-width="0.8"/>
<path d="M74.0 247.8H247.7V421.5" stroke="#05051e" stroke-width="1.3" fill="none"/>
<path d="M92.8 381V403.2H115" stroke="#000" stroke-width="1.4" fill="none"/>
<polygon points="92.8,376.3 89.4,383.2 96.2,383.2" fill="#000"/>
<polygon points="120.3,403.2 113.3,399.8 113.3,406.6" fill="#000"/>
<text x="78" y="372.6" class="b" font-size="12.5">Vertical</text>
<text x="122.3" y="408" class="b" font-size="12.5">Horizontal</text>
<rect x="27.2" y="226.8" width="15.2" height="12.97" fill="#fac300" stroke="#222" stroke-width="0.5"/>
<rect x="27.2" y="239.78" width="15.2" height="12.97" fill="#f0fa00" stroke="#222" stroke-width="0.5"/>
<rect x="27.2" y="252.75" width="15.2" height="12.97" fill="#d2fa00" stroke="#222" stroke-width="0.5"/>
<rect x="27.2" y="265.73" width="15.2" height="12.97" fill="#8cf500" stroke="#222" stroke-width="0.5"/>
<rect x="27.2" y="278.7" width="15.2" height="12.97" fill="#00f000" stroke="#222" stroke-width="0.5"/>
<rect x="27.2" y="291.68" width="15.2" height="12.97" fill="#00f000" stroke="#222" stroke-width="0.5"/>
<rect x="27.2" y="304.65" width="15.2" height="12.97" fill="#00f000" stroke="#222" stroke-width="0.5"/>
<rect x="27.2" y="317.62" width="15.2" height="12.97" fill="#00d746" stroke="#222" stroke-width="0.5"/>
<rect x="27.2" y="330.6" width="15.2" height="12.97" fill="#00c8dc" stroke="#222" stroke-width="0.5"/>
<rect x="27.2" y="343.57" width="15.2" height="12.97" fill="#00aaff" stroke="#222" stroke-width="0.5"/>
<rect x="27.2" y="356.55" width="15.2" height="12.97" fill="#0a6eff" stroke="#222" stroke-width="0.5"/>
<rect x="27.2" y="369.52" width="15.2" height="12.97" fill="#3232ff" stroke="#222" stroke-width="0.5"/>
<rect x="27.2" y="382.5" width="15.2" height="12.97" fill="#4b00ff" stroke="#222" stroke-width="0.5"/>
<rect x="27.2" y="395.48" width="15.2" height="12.97" fill="#5000a0" stroke="#222" stroke-width="0.5"/>
<rect x="27.2" y="408.45" width="15.2" height="12.97" fill="#46005a" stroke="#222" stroke-width="0.5"/>
<rect x="27.2" y="421.43" width="15.2" height="12.97" fill="#000000" stroke="#222" stroke-width="0.5"/>
<text x="46.8" y="231.7" class="b" font-size="12.3">1.0</text>
<text x="44.8" y="282.6" class="b" font-size="12.3">0.75</text>
<text x="46.8" y="334.6" class="b" font-size="12.3">0.5</text>
<text x="44.8" y="386.6" class="b" font-size="12.3">0.25</text>
<text x="46.8" y="438.3" class="b" font-size="12.3">0.0</text>
<text transform="translate(16.4 327.5) rotate(-90)" class="b" font-size="12.4" text-anchor="middle">Normalized irradiance (a.u.)</text>
<text x="87.7" y="435.2" class="b" font-size="12.3" text-anchor="middle">-0.75</text>
<text x="161.2" y="435.2" class="b" font-size="12.3" text-anchor="middle">0.0</text>
<text x="244.2" y="435.2" class="b" font-size="12.3" text-anchor="middle">0.75</text>
<text x="161.6" y="451.3" class="b" font-size="12.35" text-anchor="middle">local dimming zone size (mm)</text>
<text x="4.6" y="235.4" class="b" font-size="14.2">(c)</text>
</g>
<g id="pd">
<defs><radialGradient id="dg" cx="0.47" cy="0.55" r="0.75"><stop offset="0" stop-color="#e9f9d6"/><stop offset="0.45" stop-color="#e3f7e0"/><stop offset="0.8" stop-color="#dbf3ee"/><stop offset="1" stop-color="#d3ebf8"/></radialGradient><filter id="dn" x="0" y="0" width="100%" height="100%"><feTurbulence type="fractalNoise" baseFrequency="0.11" numOctaves="2" seed="4"/><feColorMatrix type="matrix" values="0.7 0 0 0 0.645  0 0.22 0 0 0.885  0 0 0.7 0 0.645  0 0 0 0 1"/></filter><filter id="db" x="-10%" y="-10%" width="120%" height="120%"><feGaussianBlur stdDeviation="1.6"/></filter><clipPath id="dc"><rect x="354.6" y="244.6" width="177.7" height="174.2"/></clipPath></defs>
<rect x="354.6" y="244.6" width="177.7" height="174.2" fill="url(#dg)"/>
<g clip-path="url(#dc)"><g filter="url(#db)" opacity="0.6"><circle cx="497.6" cy="385.3" r="2.5" fill="#dcf0f6"/><circle cx="364.2" cy="311.4" r="1.9" fill="#e6f8dc"/><circle cx="363.3" cy="418.7" r="2.4" fill="#dcf0f6"/><circle cx="431.9" cy="414.3" r="3.8" fill="#dcf0f6"/><circle cx="424.3" cy="330.5" r="1.9" fill="#f4fcf0"/><circle cx="453.3" cy="291.9" r="2" fill="#dcf5ea"/><circle cx="475.3" cy="396.2" r="3.9" fill="#e6f8dc"/><circle cx="509.6" cy="247.8" r="1.8" fill="#dcf0f6"/><circle cx="444" cy="320.7" r="2.6" fill="#eefbc4"/><circle cx="497.9" cy="299.7" r="3.5" fill="#e6f8dc"/><circle cx="434.3" cy="383.8" r="2.6" fill="#eefbc4"/><circle cx="496.7" cy="332.9" r="2.4" fill="#f4fcf0"/><circle cx="357.2" cy="407.2" r="3.8" fill="#cfe4f8"/><circle cx="420" cy="410.3" r="4" fill="#e6f8dc"/><circle cx="453.4" cy="286.4" r="3.4" fill="#f4fcf0"/><circle cx="476.2" cy="325.4" r="3.3" fill="#eefbc4"/><circle cx="373.6" cy="365.2" r="2.7" fill="#dcf0f6"/><circle cx="496.5" cy="278.4" r="3.7" fill="#e6f8dc"/><circle cx="422.2" cy="368.8" r="4.1" fill="#f4fcf0"/><circle cx="530.8" cy="370.7" r="2.2" fill="#dcf0f6"/><circle cx="481.3" cy="392.3" r="3.1" fill="#e6f8dc"/><circle cx="439.8" cy="411.6" r="2.8" fill="#e6f8dc"/><circle cx="354.8" cy="317.8" r="4" fill="#dcf0f6"/><circle cx="518.7" cy="301.6" r="2.3" fill="#dcf0f6"/><circle cx="500.9" cy="272" r="2" fill="#e6f8dc"/><circle cx="507.1" cy="389" r="3.1" fill="#e6f8dc"/><circle cx="400.5" cy="330.3" r="2.1" fill="#f4fcf0"/><circle cx="508.2" cy="293.1" r="1.9" fill="#e6f8dc"/><circle cx="355.1" cy="278.6" r="4" fill="#cfe4f8"/><circle cx="512.7" cy="328.3" r="3.4" fill="#e6f8dc"/><circle cx="507.2" cy="303.4" r="2.8" fill="#dcf0f6"/><circle cx="460.2" cy="373.1" r="3.5" fill="#f4fcf0"/><circle cx="478.5" cy="245.6" r="2.2" fill="#cfe4f8"/><circle cx="392.6" cy="280" r="2.3" fill="#e6f8dc"/><circle cx="461.4" cy="399" r="2.7" fill="#e6f8dc"/><circle cx="428.7" cy="363.1" r="4.1" fill="#dcf5ea"/><circle cx="421.4" cy="367.7" r="3.8" fill="#eefbc4"/><circle cx="395.6" cy="396.3" r="3.5" fill="#dcf0f6"/><circle cx="449.7" cy="299.7" r="1.9" fill="#f4fcf0"/><circle cx="362.2" cy="336.9" r="3.8" fill="#e6f8dc"/><circle cx="358.2" cy="341.6" r="3.2" fill="#e6f8dc"/><circle cx="484.2" cy="336" r="3" fill="#f4fcf0"/><circle cx="463.9" cy="287.8" r="3.4" fill="#f4fcf0"/><circle cx="388.6" cy="417.1" r="4.1" fill="#dcf0f6"/><circle cx="406.8" cy="321.9" r="1.9" fill="#eefbc4"/><circle cx="357.6" cy="287.6" r="2.2" fill="#dcf0f6"/><circle cx="477.1" cy="288" r="2.3" fill="#eefbc4"/><circle cx="475.1" cy="332" r="2.9" fill="#f4fcf0"/><circle cx="403.4" cy="329.7" r="2.3" fill="#dcf5ea"/><circle cx="484.8" cy="288.3" r="2.6" fill="#eefbc4"/><circle cx="371.1" cy="407.5" r="2.2" fill="#cfe4f8"/><circle cx="354.6" cy="255.1" r="2.8" fill="#cfe4f8"/><circle cx="461.5" cy="415.5" r="2.4" fill="#dcf0f6"/><circle cx="463.3" cy="405.1" r="3.8" fill="#e6f8dc"/><circle cx="425" cy="380.8" r="3.3" fill="#eefbc4"/><circle cx="444.7" cy="262.8" r="3.8" fill="#dcf0f6"/><circle cx="440.4" cy="312.2" r="2.7" fill="#dcf5ea"/><circle cx="510.9" cy="317.5" r="2.7" fill="#e6f8dc"/><circle cx="365.3" cy="292.9" r="1.9" fill="#e6f8dc"/><circle cx="450.8" cy="321.6" r="2.2" fill="#eefbc4"/><circle cx="517.9" cy="267.9" r="4.1" fill="#cfe4f8"/><circle cx="374.7" cy="316" r="1.8" fill="#dcf0f6"/><circle cx="366.7" cy="406.6" r="2.4" fill="#dcf0f6"/><circle cx="439.9" cy="288" r="4.1" fill="#dcf5ea"/><circle cx="367.2" cy="335.9" r="2.8" fill="#e6f8dc"/><circle cx="486.3" cy="368.9" r="2.6" fill="#eefbc4"/><circle cx="430.2" cy="311.9" r="3.7" fill="#f4fcf0"/><circle cx="414.2" cy="321.5" r="2.7" fill="#eefbc4"/><circle cx="522.9" cy="332.1" r="3.3" fill="#dcf0f6"/><circle cx="455.4" cy="384.7" r="2.6" fill="#eefbc4"/><circle cx="512.2" cy="331.7" r="2.1" fill="#dcf0f6"/><circle cx="493.8" cy="327" r="3.9" fill="#f4fcf0"/><circle cx="377.8" cy="334.2" r="2.6" fill="#e6f8dc"/><circle cx="499.8" cy="314" r="1.8" fill="#dcf5ea"/><circle cx="532.2" cy="411" r="2.3" fill="#dcf0f6"/><circle cx="471.3" cy="277.7" r="1.9" fill="#eefbc4"/><circle cx="367.1" cy="272.1" r="3.8" fill="#cfe4f8"/><circle cx="398" cy="388.4" r="1.9" fill="#e6f8dc"/><circle cx="365.4" cy="406.9" r="1.8" fill="#dcf0f6"/><circle cx="520.1" cy="284.1" r="3.2" fill="#cfe4f8"/><circle cx="391" cy="414.4" r="3.2" fill="#cfe4f8"/><circle cx="456.3" cy="293.7" r="4.2" fill="#f4fcf0"/><circle cx="460.5" cy="259.2" r="3.4" fill="#dcf0f6"/><circle cx="441.6" cy="358.6" r="2.5" fill="#eefbc4"/><circle cx="446.2" cy="256.5" r="2.2" fill="#dcf0f6"/><circle cx="399.7" cy="401.4" r="2.4" fill="#dcf0f6"/><circle cx="478.8" cy="418.2" r="3.7" fill="#dcf0f6"/><circle cx="413.7" cy="346.2" r="2" fill="#f4fcf0"/><circle cx="477.7" cy="335.4" r="3.6" fill="#f4fcf0"/><circle cx="368.4" cy="281.6" r="2.5" fill="#dcf0f6"/><circle cx="400" cy="257.1" r="3.1" fill="#e6f8dc"/><circle cx="361.6" cy="294.9" r="2.2" fill="#cfe4f8"/><circle cx="495.3" cy="412.2" r="2.9" fill="#dcf0f6"/><circle cx="366.4" cy="305.4" r="2.7" fill="#dcf0f6"/><circle cx="484.5" cy="374.1" r="2.9" fill="#dcf5ea"/><circle cx="397" cy="403.3" r="2.1" fill="#dcf0f6"/><circle cx="392.2" cy="359.6" r="4.1" fill="#dcf5ea"/><circle cx="358.4" cy="277.6" r="3.1" fill="#cfe4f8"/><circle cx="492.9" cy="341.6" r="2.4" fill="#f4fcf0"/><circle cx="470.1" cy="346" r="2.3" fill="#dcf5ea"/><circle cx="376.8" cy="306.2" r="2.9" fill="#e6f8dc"/><circle cx="385.1" cy="367.7" r="1.8" fill="#dcf0f6"/><circle cx="516.4" cy="260.4" r="3" fill="#cfe4f8"/><circle cx="429.9" cy="282.1" r="3.8" fill="#f4fcf0"/><circle cx="395" cy="273.3" r="2.2" fill="#dcf0f6"/><circle cx="521.6" cy="392.9" r="2.8" fill="#dcf0f6"/><circle cx="494.4" cy="312.8" r="2.1" fill="#f4fcf0"/><circle cx="361.2" cy="361.4" r="4.1" fill="#e6f8dc"/><circle cx="455" cy="345" r="2.5" fill="#dcf5ea"/><circle cx="356.5" cy="282.9" r="2.2" fill="#cfe4f8"/><circle cx="404.5" cy="373.1" r="2.6" fill="#eefbc4"/><circle cx="396.1" cy="337.2" r="2.2" fill="#dcf5ea"/><circle cx="504.5" cy="379.6" r="3.1" fill="#dcf0f6"/><circle cx="447" cy="262.5" r="4.2" fill="#dcf0f6"/><circle cx="484.2" cy="325.9" r="3.9" fill="#eefbc4"/><circle cx="355.7" cy="279.4" r="3.4" fill="#dcf0f6"/><circle cx="501.7" cy="337.6" r="3.1" fill="#eefbc4"/><circle cx="466.5" cy="260" r="4.1" fill="#e6f8dc"/><circle cx="365.7" cy="252.6" r="3.4" fill="#cfe4f8"/><circle cx="513.3" cy="271.8" r="2.3" fill="#dcf0f6"/><circle cx="450.2" cy="377.7" r="2.9" fill="#eefbc4"/><circle cx="508.6" cy="306.4" r="2.9" fill="#dcf0f6"/><circle cx="522.2" cy="314.4" r="2" fill="#dcf0f6"/><circle cx="414.8" cy="270" r="2.8" fill="#e6f8dc"/><circle cx="397.3" cy="317.6" r="3.2" fill="#f4fcf0"/><circle cx="397.9" cy="368.5" r="2.8" fill="#f4fcf0"/><circle cx="436.2" cy="274.8" r="2.7" fill="#dcf5ea"/><circle cx="406.7" cy="406.4" r="2.3" fill="#e6f8dc"/><circle cx="422.6" cy="334.4" r="2.8" fill="#f4fcf0"/><circle cx="476.2" cy="248.6" r="2.9" fill="#dcf0f6"/><circle cx="434.3" cy="322.4" r="3.8" fill="#eefbc4"/><circle cx="435.1" cy="261.3" r="3" fill="#e6f8dc"/><circle cx="418.5" cy="262.5" r="2.2" fill="#dcf0f6"/><circle cx="484.2" cy="318.5" r="3.4" fill="#f4fcf0"/><circle cx="357.6" cy="329.9" r="2.8" fill="#e6f8dc"/><circle cx="354.8" cy="246.6" r="2.9" fill="#cfe4f8"/><circle cx="414.1" cy="264.9" r="3.4" fill="#e6f8dc"/><circle cx="500.2" cy="377.8" r="2.6" fill="#e6f8dc"/><circle cx="441.5" cy="386.4" r="3.7" fill="#f4fcf0"/><circle cx="477.1" cy="257.2" r="3.1" fill="#dcf0f6"/><circle cx="461.9" cy="289.7" r="4.2" fill="#dcf5ea"/><circle cx="415.5" cy="329.8" r="3.6" fill="#eefbc4"/><circle cx="468.9" cy="285.3" r="3.1" fill="#dcf5ea"/><circle cx="519.7" cy="387.5" r="2.4" fill="#cfe4f8"/><circle cx="505.4" cy="250.1" r="4" fill="#cfe4f8"/><circle cx="498.6" cy="289" r="1.9" fill="#e6f8dc"/><circle cx="377.1" cy="246.6" r="3.3" fill="#dcf0f6"/><circle cx="380.2" cy="389.8" r="3.2" fill="#e6f8dc"/><circle cx="472.3" cy="280.4" r="2.8" fill="#dcf5ea"/><circle cx="443.1" cy="266.6" r="2.9" fill="#e6f8dc"/><circle cx="483.3" cy="324.3" r="3.6" fill="#f4fcf0"/><circle cx="426.2" cy="247.4" r="4.1" fill="#dcf0f6"/><circle cx="361.3" cy="325.2" r="3" fill="#dcf0f6"/><circle cx="373" cy="334.1" r="2" fill="#e6f8dc"/><circle cx="414.7" cy="275.5" r="4.1" fill="#dcf0f6"/><circle cx="392.8" cy="416.8" r="3.8" fill="#cfe4f8"/><circle cx="447.5" cy="380.6" r="3.8" fill="#dcf5ea"/><circle cx="380.8" cy="399.9" r="3.6" fill="#cfe4f8"/><circle cx="362.7" cy="296.9" r="3.3" fill="#e6f8dc"/><circle cx="410.6" cy="343.3" r="2.8" fill="#eefbc4"/><circle cx="358.6" cy="248.6" r="5.5" fill="#c6dcf8"/><circle cx="527.3" cy="249.6" r="5.5" fill="#c6dcf8"/><circle cx="359.6" cy="413.8" r="5.5" fill="#c6dcf8"/><circle cx="527.3" cy="413.8" r="5.5" fill="#c6dcf8"/><circle cx="525.3" cy="257.6" r="5.5" fill="#c6dcf8"/><circle cx="528.3" cy="378.8" r="5.5" fill="#c6dcf8"/></g></g>
<rect x="354.6" y="244.6" width="177.7" height="174.2" filter="url(#dn)" style="mix-blend-mode:multiply"/>
<rect x="354.6" y="244.6" width="177.7" height="174.2" fill="none" stroke="#4a4a4a" stroke-width="0.7"/>
<text x="368.1" y="435.2" class="b" font-size="12.3" text-anchor="middle">-0.75</text>
<text x="446.2" y="435.2" class="b" font-size="12.3" text-anchor="middle">0.0</text>
<text x="520.8" y="435.2" class="b" font-size="12.3" text-anchor="middle">0.75</text>
<text x="446.3" y="450.7" class="b" font-size="12.5" text-anchor="middle">local dimming zone size (mm)</text>
<text x="330.8" y="237.2" class="b" font-size="14.2">(d)</text>
</g>
</svg>
</body></html>
